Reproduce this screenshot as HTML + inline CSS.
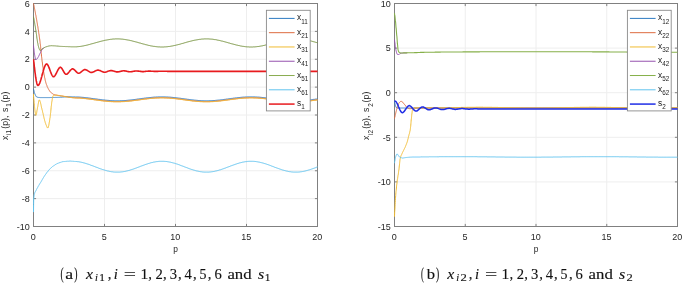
<!DOCTYPE html>
<html><head><meta charset="utf-8"><title>Figure</title>
<style>html,body{margin:0;padding:0;background:#fff;}body{width:685px;height:283px;overflow:hidden;}svg{display:block;}</style>
</head><body>
<svg width="685" height="283" viewBox="0 0 685 283">
<defs><clipPath id="cl"><rect x="32.8" y="2.8" width="285.4" height="224.4"/></clipPath><clipPath id="cr"><rect x="393.8" y="2.8" width="284.4" height="224.4"/></clipPath></defs>
<g stroke="#eeeeee" stroke-width="1">
<line x1="104.50" y1="3.5" x2="104.50" y2="226.5"/>
<line x1="175.50" y1="3.5" x2="175.50" y2="226.5"/>
<line x1="246.50" y1="3.5" x2="246.50" y2="226.5"/>
<line x1="33.5" y1="31.38" x2="317.5" y2="31.38"/>
<line x1="33.5" y1="59.25" x2="317.5" y2="59.25"/>
<line x1="33.5" y1="87.12" x2="317.5" y2="87.12"/>
<line x1="33.5" y1="115.00" x2="317.5" y2="115.00"/>
<line x1="33.5" y1="142.88" x2="317.5" y2="142.88"/>
<line x1="33.5" y1="170.75" x2="317.5" y2="170.75"/>
<line x1="33.5" y1="198.62" x2="317.5" y2="198.62"/>
</g>
<g stroke="#eeeeee" stroke-width="1">
<line x1="465.25" y1="3.5" x2="465.25" y2="226.5"/>
<line x1="536.00" y1="3.5" x2="536.00" y2="226.5"/>
<line x1="606.75" y1="3.5" x2="606.75" y2="226.5"/>
<line x1="394.5" y1="48.10" x2="677.5" y2="48.10"/>
<line x1="394.5" y1="92.70" x2="677.5" y2="92.70"/>
<line x1="394.5" y1="137.30" x2="677.5" y2="137.30"/>
<line x1="394.5" y1="181.90" x2="677.5" y2="181.90"/>
</g>
<g stroke="#808080" stroke-width="1" fill="none">
<rect x="33.5" y="3.5" width="284.0" height="223.0"/>
<line x1="104.50" y1="3.5" x2="104.50" y2="6.1"/>
<line x1="104.50" y1="226.5" x2="104.50" y2="223.9"/>
<line x1="175.50" y1="3.5" x2="175.50" y2="6.1"/>
<line x1="175.50" y1="226.5" x2="175.50" y2="223.9"/>
<line x1="246.50" y1="3.5" x2="246.50" y2="6.1"/>
<line x1="246.50" y1="226.5" x2="246.50" y2="223.9"/>
<line x1="33.5" y1="31.38" x2="36.1" y2="31.38"/>
<line x1="317.5" y1="31.38" x2="314.9" y2="31.38"/>
<line x1="33.5" y1="59.25" x2="36.1" y2="59.25"/>
<line x1="317.5" y1="59.25" x2="314.9" y2="59.25"/>
<line x1="33.5" y1="87.12" x2="36.1" y2="87.12"/>
<line x1="317.5" y1="87.12" x2="314.9" y2="87.12"/>
<line x1="33.5" y1="115.00" x2="36.1" y2="115.00"/>
<line x1="317.5" y1="115.00" x2="314.9" y2="115.00"/>
<line x1="33.5" y1="142.88" x2="36.1" y2="142.88"/>
<line x1="317.5" y1="142.88" x2="314.9" y2="142.88"/>
<line x1="33.5" y1="170.75" x2="36.1" y2="170.75"/>
<line x1="317.5" y1="170.75" x2="314.9" y2="170.75"/>
<line x1="33.5" y1="198.62" x2="36.1" y2="198.62"/>
<line x1="317.5" y1="198.62" x2="314.9" y2="198.62"/>
</g>
<g font-family="Liberation Sans, Arial, sans-serif" font-size="9" fill="#262626">
<text x="33.20" y="239.50" text-anchor="middle">0</text>
<text x="104.20" y="239.50" text-anchor="middle">5</text>
<text x="175.20" y="239.50" text-anchor="middle">10</text>
<text x="246.20" y="239.50" text-anchor="middle">15</text>
<text x="317.20" y="239.50" text-anchor="middle">20</text>
<text x="29.80" y="6.70" text-anchor="end">6</text>
<text x="29.80" y="34.58" text-anchor="end">4</text>
<text x="29.80" y="62.45" text-anchor="end">2</text>
<text x="29.80" y="90.33" text-anchor="end">0</text>
<text x="29.80" y="118.20" text-anchor="end">-2</text>
<text x="29.80" y="146.07" text-anchor="end">-4</text>
<text x="29.80" y="173.95" text-anchor="end">-6</text>
<text x="29.80" y="201.82" text-anchor="end">-8</text>
<text x="29.80" y="229.70" text-anchor="end">-10</text>
</g>
<text x="175.50" y="252.0" text-anchor="middle" font-family="Liberation Sans, Arial, sans-serif" font-size="8.4" fill="#262626">p</text>
<g stroke="#808080" stroke-width="1" fill="none">
<rect x="394.5" y="3.5" width="283.0" height="223.0"/>
<line x1="465.25" y1="3.5" x2="465.25" y2="6.1"/>
<line x1="465.25" y1="226.5" x2="465.25" y2="223.9"/>
<line x1="536.00" y1="3.5" x2="536.00" y2="6.1"/>
<line x1="536.00" y1="226.5" x2="536.00" y2="223.9"/>
<line x1="606.75" y1="3.5" x2="606.75" y2="6.1"/>
<line x1="606.75" y1="226.5" x2="606.75" y2="223.9"/>
<line x1="394.5" y1="48.10" x2="397.1" y2="48.10"/>
<line x1="677.5" y1="48.10" x2="674.9" y2="48.10"/>
<line x1="394.5" y1="92.70" x2="397.1" y2="92.70"/>
<line x1="677.5" y1="92.70" x2="674.9" y2="92.70"/>
<line x1="394.5" y1="137.30" x2="397.1" y2="137.30"/>
<line x1="677.5" y1="137.30" x2="674.9" y2="137.30"/>
<line x1="394.5" y1="181.90" x2="397.1" y2="181.90"/>
<line x1="677.5" y1="181.90" x2="674.9" y2="181.90"/>
</g>
<g font-family="Liberation Sans, Arial, sans-serif" font-size="9" fill="#262626">
<text x="394.20" y="239.50" text-anchor="middle">0</text>
<text x="464.95" y="239.50" text-anchor="middle">5</text>
<text x="535.70" y="239.50" text-anchor="middle">10</text>
<text x="606.45" y="239.50" text-anchor="middle">15</text>
<text x="677.20" y="239.50" text-anchor="middle">20</text>
<text x="390.80" y="6.70" text-anchor="end">10</text>
<text x="390.80" y="51.30" text-anchor="end">5</text>
<text x="390.80" y="95.90" text-anchor="end">0</text>
<text x="390.80" y="140.50" text-anchor="end">-5</text>
<text x="390.80" y="185.10" text-anchor="end">-10</text>
<text x="390.80" y="229.70" text-anchor="end">-15</text>
</g>
<text x="536.00" y="252.0" text-anchor="middle" font-family="Liberation Sans, Arial, sans-serif" font-size="8.4" fill="#262626">p</text>
<g clip-path="url(#cl)" fill="none" stroke-linejoin="round">
<polyline points="33.5,88.9 33.6,89.5 33.7,90.0 33.9,90.5 34.0,91.0 34.1,91.5 34.2,91.9 34.3,92.4 34.4,92.8 34.6,93.2 34.7,93.5 34.8,93.8 34.9,94.1 35.0,94.3 35.2,94.6 35.3,94.8 35.4,95.1 35.5,95.3 35.6,95.5 35.7,95.7 35.9,95.9 36.0,96.1 36.1,96.3 36.2,96.5 36.3,96.6 36.5,96.8 36.6,96.9 36.7,97.0 36.8,97.1 36.9,97.1 37.0,97.2 37.2,97.2 37.3,97.2 37.4,97.2 37.5,97.3 37.6,97.3 37.8,97.3 37.9,97.3 38.0,97.4 38.1,97.4 38.2,97.4 38.4,97.4 38.5,97.4 38.6,97.4 38.7,97.5 38.8,97.5 38.9,97.5 39.1,97.5 39.2,97.5 39.3,97.5 39.4,97.5 39.5,97.5 39.7,97.5 39.8,97.6 39.9,97.6 40.0,97.6 40.1,97.6 40.2,97.6 40.4,97.6 40.5,97.6 40.6,97.6 40.7,97.6 40.8,97.6 41.0,97.6 41.1,97.6 41.2,97.6 41.3,97.6 41.4,97.6 41.5,97.6 41.7,97.6 41.8,97.6 41.9,97.6 42.0,97.6 42.1,97.6 42.3,97.6 42.4,97.6 42.5,97.6 42.6,97.6 42.7,97.6 42.8,97.6 43.0,97.6 43.1,97.6 43.2,97.6 43.3,97.6 43.4,97.6 43.6,97.6 43.7,97.6 43.8,97.6 43.9,97.6 44.0,97.6 44.1,97.6 44.3,97.6 44.4,97.6 44.5,97.6 44.6,97.6 44.7,97.6 44.9,97.6 45.0,97.6 45.1,97.6 45.2,97.6 45.3,97.6 45.5,97.6 45.6,97.6 45.7,97.6 45.8,97.6 45.9,97.6 46.0,97.6 46.2,97.6 46.3,97.6 46.4,97.6 46.5,97.6 46.6,97.6 46.8,97.6 46.9,97.6 47.0,97.6 47.1,97.6 47.2,97.6 47.3,97.6 47.5,97.6 47.6,97.6 47.7,97.6 47.8,97.6 47.9,97.6 48.1,97.6 48.2,97.6 48.3,97.6 48.4,97.6 48.5,97.6 48.6,97.6 48.8,97.6 48.9,97.6 49.0,97.6 49.1,97.6 49.2,97.6 49.4,97.6 49.5,97.6 49.6,97.6 49.7,97.6 49.8,97.6 49.9,97.6 50.1,97.6 50.2,97.6 50.3,97.6 50.4,97.5 50.5,97.5 50.7,97.5 50.8,97.5 50.9,97.5 51.0,97.5 51.1,97.5 51.2,97.5 51.4,97.5 51.5,97.5 51.6,97.5 51.7,97.5 51.8,97.5 52.0,97.5 52.1,97.5 52.2,97.5 52.3,97.5 52.4,97.5 52.6,97.5 52.7,97.5 52.8,97.5 52.9,97.5 53.0,97.5 53.1,97.5 53.3,97.5 53.4,97.5 53.5,97.5 53.6,97.5 53.7,97.5 53.9,97.5 54.0,97.5 54.1,97.5 54.2,97.5 54.3,97.5 54.4,97.4 54.6,97.4 54.7,97.4 54.8,97.4 54.9,97.4 55.0,97.4 55.2,97.4 55.3,97.4 55.4,97.4 55.5,97.4 55.6,97.4 55.7,97.4 55.9,97.4 56.0,97.4 56.1,97.4 56.2,97.4 56.3,97.4 56.5,97.4 56.6,97.4 56.7,97.4 56.8,97.4 56.9,97.4 57.0,97.4 57.2,97.4 57.3,97.4 57.4,97.4 57.5,97.4 57.6,97.3 57.8,97.3 57.9,97.3 58.0,97.3 58.1,97.3 58.2,97.3 58.4,97.3 58.5,97.3 58.6,97.3 58.7,97.3 58.8,97.3 58.9,97.3 59.1,97.3 59.2,97.3 59.3,97.3 59.4,97.3 59.5,97.3 59.7,97.3 59.8,97.3 59.9,97.3 60.0,97.2 60.1,97.2 60.2,97.2 60.4,97.2 60.5,97.2 60.6,97.2 60.7,97.2 60.8,97.2 61.0,97.2 61.1,97.2 61.2,97.2 61.3,97.2 61.4,97.2 61.5,97.2 61.7,97.2 61.8,97.2 61.9,97.2 62.0,97.2 62.1,97.1 62.3,97.1 62.4,97.1 62.5,97.1 62.6,97.1 62.7,97.1 62.8,97.1 63.0,97.1 63.1,97.1 63.2,97.1 63.3,97.1 63.4,97.1 63.6,97.1 63.7,97.0 63.8,97.0 63.9,97.0 64.0,97.0 64.1,97.0 64.3,97.0 64.4,97.0 64.5,97.0 64.6,97.0 64.7,97.0 64.9,97.0 65.0,96.9 65.1,96.9 65.2,96.9 65.3,96.9 65.5,96.9 65.6,96.9 65.7,96.9 65.8,96.9 65.9,96.9 66.0,96.9 66.2,96.9 66.3,96.8 66.4,96.8 66.5,96.8 66.6,96.8 66.8,96.8 66.9,96.8 67.0,96.8 67.1,96.8 67.2,96.8 67.3,96.8 67.5,96.8 67.6,96.8 67.7,96.8 67.8,96.8 67.9,96.8 68.1,96.8 68.2,96.8 68.3,96.8 68.4,96.8 68.5,96.8 68.6,96.8 68.8,96.8 68.9,96.8 69.0,96.8 69.1,96.8 69.2,96.8 69.4,96.8 69.5,96.8 69.6,96.8 69.7,96.8 69.8,96.8 69.9,96.8 70.1,96.8 70.2,96.8 70.3,96.8 70.4,96.8 70.5,96.8 70.7,96.8 70.8,96.8 70.9,96.8 71.0,96.8 71.1,96.8 71.2,96.8 71.4,96.8 71.5,96.8 71.6,96.8 71.7,96.8 71.8,96.8 72.0,96.8 72.1,96.8 72.2,96.8 72.3,96.9 72.4,96.9 72.5,96.9 72.7,96.9 72.8,96.9 72.9,96.9 73.0,96.9 73.1,96.9 73.3,96.9 73.4,96.9 73.5,96.9 73.6,96.9 73.7,96.9 73.9,96.9 74.0,96.9 74.1,96.9 74.2,96.9 74.3,96.9 74.4,96.9 74.6,96.9 74.7,96.9 74.8,96.9 74.9,96.9 75.0,97.0 75.2,97.0 75.3,97.0 75.4,97.0 75.5,97.0 75.6,97.0 75.7,97.0 75.9,97.0 76.0,97.0 76.1,97.0 76.7,97.0 77.2,97.0 77.8,97.0 78.4,97.0 78.9,97.1 79.5,97.1 80.1,97.1 80.6,97.2 81.2,97.2 81.8,97.3 82.3,97.3 82.9,97.4 83.5,97.4 84.1,97.5 84.6,97.5 85.2,97.6 85.8,97.7 86.3,97.7 86.9,97.8 87.5,97.8 88.0,97.9 88.6,98.0 89.2,98.1 89.7,98.1 90.3,98.2 90.9,98.3 91.4,98.4 92.0,98.4 92.6,98.5 93.1,98.6 93.7,98.7 94.3,98.7 94.8,98.8 95.4,98.9 96.0,99.0 96.5,99.0 97.1,99.1 97.7,99.2 98.3,99.3 98.8,99.4 99.4,99.4 100.0,99.5 100.5,99.6 101.1,99.6 101.7,99.7 102.2,99.8 102.8,99.9 103.4,99.9 103.9,100.0 104.5,100.0 105.1,100.1 105.6,100.2 106.2,100.2 106.8,100.3 107.3,100.3 107.9,100.4 108.5,100.4 109.0,100.5 109.6,100.5 110.2,100.5 110.7,100.6 111.3,100.6 111.9,100.6 112.5,100.7 113.0,100.7 113.6,100.7 114.2,100.7 114.7,100.8 115.3,100.8 115.9,100.8 116.4,100.8 117.0,100.8 117.6,100.8 118.1,100.8 118.7,100.8 119.3,100.8 119.8,100.8 120.4,100.7 121.0,100.7 121.5,100.7 122.1,100.7 122.7,100.6 123.2,100.6 123.8,100.6 124.4,100.5 124.9,100.5 125.5,100.5 126.1,100.4 126.7,100.4 127.2,100.3 127.8,100.3 128.4,100.2 128.9,100.2 129.5,100.1 130.1,100.0 130.6,100.0 131.2,99.9 131.8,99.9 132.3,99.8 132.9,99.7 133.5,99.6 134.0,99.6 134.6,99.5 135.2,99.4 135.7,99.4 136.3,99.3 136.9,99.2 137.4,99.1 138.0,99.0 138.6,99.0 139.1,98.9 139.7,98.8 140.3,98.7 140.9,98.7 141.4,98.6 142.0,98.5 142.6,98.4 143.1,98.4 143.7,98.3 144.3,98.2 144.8,98.1 145.4,98.1 146.0,98.0 146.5,97.9 147.1,97.8 147.7,97.8 148.2,97.7 148.8,97.7 149.4,97.6 149.9,97.5 150.5,97.5 151.1,97.4 151.6,97.4 152.2,97.3 152.8,97.3 153.3,97.2 153.9,97.2 154.5,97.1 155.1,97.1 155.6,97.1 156.2,97.0 156.8,97.0 157.3,97.0 157.9,97.0 158.5,96.9 159.0,96.9 159.6,96.9 160.2,96.9 160.7,96.9 161.3,96.9 161.9,96.9 162.4,96.9 163.0,96.9 163.6,96.9 164.1,96.9 164.7,96.9 165.3,96.9 165.8,97.0 166.4,97.0 167.0,97.0 167.5,97.0 168.1,97.1 168.7,97.1 169.3,97.1 169.8,97.2 170.4,97.2 171.0,97.3 171.5,97.3 172.1,97.4 172.7,97.4 173.2,97.5 173.8,97.5 174.4,97.6 174.9,97.6 175.5,97.7 176.1,97.8 176.6,97.8 177.2,97.9 177.8,98.0 178.3,98.1 178.9,98.1 179.5,98.2 180.0,98.3 180.6,98.3 181.2,98.4 181.7,98.5 182.3,98.6 182.9,98.7 183.5,98.7 184.0,98.8 184.6,98.9 185.2,99.0 185.7,99.0 186.3,99.1 186.9,99.2 187.4,99.3 188.0,99.3 188.6,99.4 189.1,99.5 189.7,99.6 190.3,99.6 190.8,99.7 191.4,99.8 192.0,99.8 192.5,99.9 193.1,100.0 193.7,100.0 194.2,100.1 194.8,100.2 195.4,100.2 195.9,100.3 196.5,100.3 197.1,100.4 197.7,100.4 198.2,100.5 198.8,100.5 199.4,100.5 199.9,100.6 200.5,100.6 201.1,100.6 201.6,100.7 202.2,100.7 202.8,100.7 203.3,100.7 203.9,100.8 204.5,100.8 205.0,100.8 205.6,100.8 206.2,100.8 206.7,100.8 207.3,100.8 207.9,100.8 208.4,100.8 209.0,100.8 209.6,100.7 210.1,100.7 210.7,100.7 211.3,100.7 211.9,100.6 212.4,100.6 213.0,100.6 213.6,100.5 214.1,100.5 214.7,100.5 215.3,100.4 215.8,100.4 216.4,100.3 217.0,100.3 217.5,100.2 218.1,100.2 218.7,100.1 219.2,100.1 219.8,100.0 220.4,99.9 220.9,99.9 221.5,99.8 222.1,99.7 222.6,99.7 223.2,99.6 223.8,99.5 224.3,99.4 224.9,99.4 225.5,99.3 226.1,99.2 226.6,99.1 227.2,99.1 227.8,99.0 228.3,98.9 228.9,98.8 229.5,98.7 230.0,98.7 230.6,98.6 231.2,98.5 231.7,98.4 232.3,98.4 232.9,98.3 233.4,98.2 234.0,98.1 234.6,98.1 235.1,98.0 235.7,97.9 236.3,97.9 236.8,97.8 237.4,97.7 238.0,97.7 238.5,97.6 239.1,97.5 239.7,97.5 240.3,97.4 240.8,97.4 241.4,97.3 242.0,97.3 242.5,97.2 243.1,97.2 243.7,97.1 244.2,97.1 244.8,97.1 245.4,97.0 245.9,97.0 246.5,97.0 247.1,97.0 247.6,96.9 248.2,96.9 248.8,96.9 249.3,96.9 249.9,96.9 250.5,96.9 251.0,96.9 251.6,96.9 252.2,96.9 252.7,96.9 253.3,96.9 253.9,96.9 254.5,96.9 255.0,97.0 255.6,97.0 256.2,97.0 256.7,97.0 257.3,97.1 257.9,97.1 258.4,97.1 259.0,97.2 259.6,97.2 260.1,97.3 260.7,97.3 261.3,97.4 261.8,97.4 262.4,97.5 263.0,97.5 263.5,97.6 264.1,97.6 264.7,97.7 265.2,97.8 265.8,97.8 266.4,97.9 266.9,98.0 267.5,98.0 268.1,98.1 268.7,98.2 269.2,98.3 269.8,98.3 270.4,98.4 270.9,98.5 271.5,98.6 272.1,98.6 272.6,98.7 273.2,98.8 273.8,98.9 274.3,99.0 274.9,99.0 275.5,99.1 276.0,99.2 276.6,99.3 277.2,99.3 277.7,99.4 278.3,99.5 278.9,99.6 279.4,99.6 280.0,99.7 280.6,99.8 281.1,99.8 281.7,99.9 282.3,100.0 282.9,100.0 283.4,100.1 284.0,100.2 284.6,100.2 285.1,100.3 285.7,100.3 286.3,100.4 286.8,100.4 287.4,100.5 288.0,100.5 288.5,100.5 289.1,100.6 289.7,100.6 290.2,100.6 290.8,100.7 291.4,100.7 291.9,100.7 292.5,100.7 293.1,100.7 293.6,100.8 294.2,100.8 294.8,100.8 295.3,100.8 295.9,100.8 296.5,100.8 297.1,100.8 297.6,100.8 298.2,100.8 298.8,100.7 299.3,100.7 299.9,100.7 300.5,100.7 301.0,100.6 301.6,100.6 302.2,100.6 302.7,100.6 303.3,100.5 303.9,100.5 304.4,100.4 305.0,100.4 305.6,100.3 306.1,100.3 306.7,100.2 307.3,100.2 307.8,100.1 308.4,100.1 309.0,100.0 309.5,99.9 310.1,99.9 310.7,99.8 311.3,99.7 311.8,99.7 312.4,99.6 313.0,99.5 313.5,99.4 314.1,99.4 314.7,99.3 315.2,99.2 315.8,99.1 316.4,99.1 316.9,99.0 317.5,98.9" stroke="#2d7ac2" stroke-width="1.0"/>
<polyline points="33.5,3.5 33.6,4.1 33.7,4.6 33.9,5.2 34.0,5.8 34.1,6.3 34.2,6.9 34.3,7.5 34.4,8.1 34.6,8.7 34.7,9.3 34.8,9.9 34.9,10.5 35.0,11.1 35.2,11.7 35.3,12.4 35.4,13.0 35.5,13.6 35.6,14.3 35.7,14.9 35.9,15.5 36.0,16.2 36.1,16.8 36.2,17.5 36.3,18.1 36.5,18.8 36.6,19.5 36.7,20.1 36.8,20.8 36.9,21.5 37.0,22.2 37.2,22.8 37.3,23.5 37.4,24.2 37.5,24.9 37.6,25.7 37.8,26.4 37.9,27.1 38.0,27.9 38.1,28.6 38.2,29.4 38.4,30.1 38.5,30.9 38.6,31.7 38.7,32.5 38.8,33.3 38.9,34.0 39.1,34.8 39.2,35.7 39.3,36.5 39.4,37.3 39.5,38.2 39.7,39.0 39.8,39.9 39.9,40.8 40.0,41.7 40.1,42.6 40.2,43.6 40.4,44.5 40.5,45.5 40.6,46.6 40.7,47.7 40.8,48.9 41.0,50.1 41.1,51.3 41.2,52.6 41.3,53.8 41.4,55.0 41.5,56.2 41.7,57.2 41.8,58.3 41.9,59.2 42.0,60.2 42.1,61.2 42.3,62.1 42.4,63.1 42.5,64.0 42.6,64.9 42.7,65.8 42.8,66.7 43.0,67.5 43.1,68.3 43.2,69.1 43.3,69.9 43.4,70.7 43.6,71.4 43.7,72.1 43.8,72.8 43.9,73.4 44.0,74.1 44.1,74.7 44.3,75.4 44.4,76.0 44.5,76.6 44.6,77.3 44.7,77.9 44.9,78.4 45.0,79.0 45.1,79.6 45.2,80.1 45.3,80.6 45.5,81.1 45.6,81.6 45.7,82.1 45.8,82.5 45.9,83.0 46.0,83.3 46.2,83.7 46.3,84.1 46.4,84.4 46.5,84.7 46.6,85.0 46.8,85.3 46.9,85.6 47.0,85.9 47.1,86.2 47.2,86.5 47.3,86.8 47.5,87.0 47.6,87.3 47.7,87.6 47.8,87.8 47.9,88.1 48.1,88.3 48.2,88.5 48.3,88.8 48.4,89.0 48.5,89.2 48.6,89.4 48.8,89.6 48.9,89.8 49.0,90.0 49.1,90.2 49.2,90.4 49.4,90.6 49.5,90.7 49.6,90.9 49.7,91.1 49.8,91.2 49.9,91.4 50.1,91.5 50.2,91.6 50.3,91.8 50.4,91.9 50.5,92.0 50.7,92.1 50.8,92.2 50.9,92.4 51.0,92.5 51.1,92.6 51.2,92.7 51.4,92.8 51.5,92.9 51.6,93.0 51.7,93.1 51.8,93.2 52.0,93.3 52.1,93.4 52.2,93.5 52.3,93.6 52.4,93.6 52.6,93.7 52.7,93.8 52.8,93.9 52.9,94.0 53.0,94.0 53.1,94.1 53.3,94.2 53.4,94.2 53.5,94.3 53.6,94.4 53.7,94.4 53.9,94.5 54.0,94.5 54.1,94.6 54.2,94.6 54.3,94.6 54.4,94.7 54.6,94.7 54.7,94.7 54.8,94.8 54.9,94.8 55.0,94.8 55.2,94.9 55.3,94.9 55.4,94.9 55.5,95.0 55.6,95.0 55.7,95.0 55.9,95.0 56.0,95.1 56.1,95.1 56.2,95.1 56.3,95.1 56.5,95.1 56.6,95.2 56.7,95.2 56.8,95.2 56.9,95.2 57.0,95.2 57.2,95.3 57.3,95.3 57.4,95.3 57.5,95.3 57.6,95.3 57.8,95.4 57.9,95.4 58.0,95.4 58.1,95.4 58.2,95.4 58.4,95.4 58.5,95.5 58.6,95.5 58.7,95.5 58.8,95.5 58.9,95.5 59.1,95.5 59.2,95.6 59.3,95.6 59.4,95.6 59.5,95.6 59.7,95.6 59.8,95.7 59.9,95.7 60.0,95.7 60.1,95.7 60.2,95.7 60.4,95.7 60.5,95.8 60.6,95.8 60.7,95.8 60.8,95.8 61.0,95.8 61.1,95.9 61.2,95.9 61.3,95.9 61.4,95.9 61.5,95.9 61.7,96.0 61.8,96.0 61.9,96.0 62.0,96.0 62.1,96.0 62.3,96.1 62.4,96.1 62.5,96.1 62.6,96.1 62.7,96.1 62.8,96.2 63.0,96.2 63.1,96.2 63.2,96.2 63.3,96.2 63.4,96.3 63.6,96.3 63.7,96.3 63.8,96.3 63.9,96.3 64.0,96.3 64.1,96.4 64.3,96.4 64.4,96.4 64.5,96.4 64.6,96.4 64.7,96.5 64.9,96.5 65.0,96.5 65.1,96.5 65.2,96.5 65.3,96.6 65.5,96.6 65.6,96.6 65.7,96.6 65.8,96.6 65.9,96.7 66.0,96.7 66.2,96.7 66.3,96.7 66.4,96.7 66.5,96.8 66.6,96.8 66.8,96.8 66.9,96.8 67.0,96.8 67.1,96.9 67.2,96.9 67.3,96.9 67.5,96.9 67.6,96.9 67.7,97.0 67.8,97.0 67.9,97.0 68.1,97.0 68.2,97.0 68.3,97.1 68.4,97.1 68.5,97.1 68.6,97.1 68.8,97.1 68.9,97.2 69.0,97.2 69.1,97.2 69.2,97.2 69.4,97.2 69.5,97.2 69.6,97.3 69.7,97.3 69.8,97.3 69.9,97.3 70.1,97.3 70.2,97.4 70.3,97.4 70.4,97.4 70.5,97.4 70.7,97.4 70.8,97.4 70.9,97.4 71.0,97.5 71.1,97.5 71.2,97.5 71.4,97.5 71.5,97.5 71.6,97.5 71.7,97.5 71.8,97.6 72.0,97.6 72.1,97.6 72.2,97.6 72.3,97.6 72.4,97.6 72.5,97.6 72.7,97.6 72.8,97.6 72.9,97.7 73.0,97.7 73.1,97.7 73.3,97.7 73.4,97.7 73.5,97.7 73.6,97.7 73.7,97.7 73.9,97.7 74.0,97.7 74.1,97.7 74.2,97.7 74.3,97.8 74.4,97.8 74.6,97.8 74.7,97.8 74.8,97.8 74.9,97.8 75.0,97.8 75.2,97.8 75.3,97.8 75.4,97.8 75.5,97.8 75.6,97.8 75.7,97.8 75.9,97.8 76.0,97.8 76.1,97.8 76.7,97.9 77.2,97.9 77.8,97.9 78.4,97.9 78.9,97.9 79.5,97.9 80.1,98.0 80.6,98.0 81.2,98.1 81.8,98.1 82.3,98.2 82.9,98.2 83.5,98.3 84.1,98.3 84.6,98.4 85.2,98.4 85.8,98.5 86.3,98.6 86.9,98.6 87.5,98.7 88.0,98.8 88.6,98.8 89.2,98.9 89.7,99.0 90.3,99.0 90.9,99.1 91.4,99.2 92.0,99.3 92.6,99.3 93.1,99.4 93.7,99.5 94.3,99.6 94.8,99.7 95.4,99.7 96.0,99.8 96.5,99.9 97.1,100.0 97.7,100.0 98.3,100.1 98.8,100.2 99.4,100.3 100.0,100.3 100.5,100.4 101.1,100.5 101.7,100.6 102.2,100.6 102.8,100.7 103.4,100.8 103.9,100.8 104.5,100.9 105.1,100.9 105.6,101.0 106.2,101.1 106.8,101.1 107.3,101.2 107.9,101.2 108.5,101.3 109.0,101.3 109.6,101.3 110.2,101.4 110.7,101.4 111.3,101.5 111.9,101.5 112.5,101.5 113.0,101.5 113.6,101.6 114.2,101.6 114.7,101.6 115.3,101.6 115.9,101.6 116.4,101.6 117.0,101.6 117.6,101.6 118.1,101.6 118.7,101.6 119.3,101.6 119.8,101.6 120.4,101.6 121.0,101.6 121.5,101.5 122.1,101.5 122.7,101.5 123.2,101.5 123.8,101.4 124.4,101.4 124.9,101.3 125.5,101.3 126.1,101.3 126.7,101.2 127.2,101.2 127.8,101.1 128.4,101.1 128.9,101.0 129.5,100.9 130.1,100.9 130.6,100.8 131.2,100.8 131.8,100.7 132.3,100.6 132.9,100.6 133.5,100.5 134.0,100.4 134.6,100.3 135.2,100.3 135.7,100.2 136.3,100.1 136.9,100.0 137.4,100.0 138.0,99.9 138.6,99.8 139.1,99.7 139.7,99.7 140.3,99.6 140.9,99.5 141.4,99.4 142.0,99.3 142.6,99.3 143.1,99.2 143.7,99.1 144.3,99.0 144.8,99.0 145.4,98.9 146.0,98.8 146.5,98.8 147.1,98.7 147.7,98.6 148.2,98.6 148.8,98.5 149.4,98.4 149.9,98.4 150.5,98.3 151.1,98.3 151.6,98.2 152.2,98.2 152.8,98.1 153.3,98.1 153.9,98.0 154.5,98.0 155.1,97.9 155.6,97.9 156.2,97.9 156.8,97.8 157.3,97.8 157.9,97.8 158.5,97.8 159.0,97.8 159.6,97.7 160.2,97.7 160.7,97.7 161.3,97.7 161.9,97.7 162.4,97.7 163.0,97.7 163.6,97.7 164.1,97.7 164.7,97.8 165.3,97.8 165.8,97.8 166.4,97.8 167.0,97.8 167.5,97.9 168.1,97.9 168.7,97.9 169.3,98.0 169.8,98.0 170.4,98.1 171.0,98.1 171.5,98.1 172.1,98.2 172.7,98.3 173.2,98.3 173.8,98.4 174.4,98.4 174.9,98.5 175.5,98.5 176.1,98.6 176.6,98.7 177.2,98.7 177.8,98.8 178.3,98.9 178.9,99.0 179.5,99.0 180.0,99.1 180.6,99.2 181.2,99.3 181.7,99.3 182.3,99.4 182.9,99.5 183.5,99.6 184.0,99.6 184.6,99.7 185.2,99.8 185.7,99.9 186.3,100.0 186.9,100.0 187.4,100.1 188.0,100.2 188.6,100.3 189.1,100.3 189.7,100.4 190.3,100.5 190.8,100.5 191.4,100.6 192.0,100.7 192.5,100.8 193.1,100.8 193.7,100.9 194.2,100.9 194.8,101.0 195.4,101.1 195.9,101.1 196.5,101.2 197.1,101.2 197.7,101.3 198.2,101.3 198.8,101.3 199.4,101.4 199.9,101.4 200.5,101.4 201.1,101.5 201.6,101.5 202.2,101.5 202.8,101.6 203.3,101.6 203.9,101.6 204.5,101.6 205.0,101.6 205.6,101.6 206.2,101.6 206.7,101.6 207.3,101.6 207.9,101.6 208.4,101.6 209.0,101.6 209.6,101.6 210.1,101.6 210.7,101.5 211.3,101.5 211.9,101.5 212.4,101.5 213.0,101.4 213.6,101.4 214.1,101.3 214.7,101.3 215.3,101.3 215.8,101.2 216.4,101.2 217.0,101.1 217.5,101.1 218.1,101.0 218.7,100.9 219.2,100.9 219.8,100.8 220.4,100.8 220.9,100.7 221.5,100.6 222.1,100.6 222.6,100.5 223.2,100.4 223.8,100.3 224.3,100.3 224.9,100.2 225.5,100.1 226.1,100.0 226.6,100.0 227.2,99.9 227.8,99.8 228.3,99.7 228.9,99.7 229.5,99.6 230.0,99.5 230.6,99.4 231.2,99.3 231.7,99.3 232.3,99.2 232.9,99.1 233.4,99.0 234.0,99.0 234.6,98.9 235.1,98.8 235.7,98.8 236.3,98.7 236.8,98.6 237.4,98.6 238.0,98.5 238.5,98.4 239.1,98.4 239.7,98.3 240.3,98.3 240.8,98.2 241.4,98.2 242.0,98.1 242.5,98.1 243.1,98.0 243.7,98.0 244.2,97.9 244.8,97.9 245.4,97.9 245.9,97.8 246.5,97.8 247.1,97.8 247.6,97.8 248.2,97.8 248.8,97.7 249.3,97.7 249.9,97.7 250.5,97.7 251.0,97.7 251.6,97.7 252.2,97.7 252.7,97.7 253.3,97.7 253.9,97.8 254.5,97.8 255.0,97.8 255.6,97.8 256.2,97.8 256.7,97.9 257.3,97.9 257.9,97.9 258.4,98.0 259.0,98.0 259.6,98.1 260.1,98.1 260.7,98.1 261.3,98.2 261.8,98.2 262.4,98.3 263.0,98.4 263.5,98.4 264.1,98.5 264.7,98.5 265.2,98.6 265.8,98.7 266.4,98.7 266.9,98.8 267.5,98.9 268.1,99.0 268.7,99.0 269.2,99.1 269.8,99.2 270.4,99.3 270.9,99.3 271.5,99.4 272.1,99.5 272.6,99.6 273.2,99.6 273.8,99.7 274.3,99.8 274.9,99.9 275.5,99.9 276.0,100.0 276.6,100.1 277.2,100.2 277.7,100.3 278.3,100.3 278.9,100.4 279.4,100.5 280.0,100.5 280.6,100.6 281.1,100.7 281.7,100.7 282.3,100.8 282.9,100.9 283.4,100.9 284.0,101.0 284.6,101.0 285.1,101.1 285.7,101.2 286.3,101.2 286.8,101.2 287.4,101.3 288.0,101.3 288.5,101.4 289.1,101.4 289.7,101.4 290.2,101.5 290.8,101.5 291.4,101.5 291.9,101.6 292.5,101.6 293.1,101.6 293.6,101.6 294.2,101.6 294.8,101.6 295.3,101.6 295.9,101.6 296.5,101.6 297.1,101.6 297.6,101.6 298.2,101.6 298.8,101.6 299.3,101.6 299.9,101.5 300.5,101.5 301.0,101.5 301.6,101.5 302.2,101.4 302.7,101.4 303.3,101.3 303.9,101.3 304.4,101.3 305.0,101.2 305.6,101.2 306.1,101.1 306.7,101.1 307.3,101.0 307.8,101.0 308.4,100.9 309.0,100.8 309.5,100.8 310.1,100.7 310.7,100.6 311.3,100.6 311.8,100.5 312.4,100.4 313.0,100.4 313.5,100.3 314.1,100.2 314.7,100.1 315.2,100.1 315.8,100.0 316.4,99.9 316.9,99.8 317.5,99.7" stroke="#dd6c40" stroke-width="1.0"/>
<polyline points="33.5,94.1 33.6,95.9 33.7,97.6 33.9,99.3 34.0,100.9 34.1,102.4 34.2,103.9 34.3,105.2 34.4,106.4 34.6,107.5 34.7,108.4 34.8,109.3 34.9,110.3 35.0,111.2 35.2,112.1 35.3,112.9 35.4,113.6 35.5,114.3 35.6,114.7 35.7,115.1 35.9,115.3 36.0,115.2 36.1,115.1 36.2,114.8 36.3,114.3 36.5,113.8 36.6,113.2 36.7,112.5 36.8,111.8 36.9,111.1 37.0,110.4 37.2,109.7 37.3,109.0 37.4,108.4 37.5,107.8 37.6,107.2 37.8,106.6 37.9,105.9 38.0,105.3 38.1,104.6 38.2,103.9 38.4,103.2 38.5,102.6 38.6,102.0 38.7,101.4 38.8,100.9 38.9,100.5 39.1,100.2 39.2,100.0 39.3,100.0 39.4,100.0 39.5,100.1 39.7,100.2 39.8,100.4 39.9,100.7 40.0,101.0 40.1,101.4 40.2,101.7 40.4,102.2 40.5,102.6 40.6,103.1 40.7,103.6 40.8,104.2 41.0,104.7 41.1,105.3 41.2,105.8 41.3,106.4 41.4,106.9 41.5,107.5 41.7,108.0 41.8,108.5 41.9,109.0 42.0,109.4 42.1,109.9 42.3,110.3 42.4,110.8 42.5,111.3 42.6,111.8 42.7,112.3 42.8,112.8 43.0,113.3 43.1,113.8 43.2,114.3 43.3,114.8 43.4,115.3 43.6,115.8 43.7,116.4 43.8,116.9 43.9,117.4 44.0,117.9 44.1,118.4 44.3,118.9 44.4,119.3 44.5,119.8 44.6,120.3 44.7,120.7 44.9,121.1 45.0,121.6 45.1,122.0 45.2,122.3 45.3,122.7 45.5,123.0 45.6,123.4 45.7,123.7 45.8,124.0 45.9,124.3 46.0,124.7 46.2,125.0 46.3,125.3 46.4,125.6 46.5,125.9 46.6,126.2 46.8,126.5 46.9,126.8 47.0,127.0 47.1,127.3 47.2,127.4 47.3,127.6 47.5,127.8 47.6,127.9 47.7,127.9 47.8,128.0 47.9,127.9 48.1,127.8 48.2,127.6 48.3,127.3 48.4,126.9 48.5,126.4 48.6,125.9 48.8,125.4 48.9,124.8 49.0,124.1 49.1,123.4 49.2,122.7 49.4,122.0 49.5,121.3 49.6,120.6 49.7,119.9 49.8,119.2 49.9,118.4 50.1,117.6 50.2,116.7 50.3,115.7 50.4,114.7 50.5,113.6 50.7,112.5 50.8,111.3 50.9,110.1 51.0,109.0 51.1,107.8 51.2,106.7 51.4,105.6 51.5,104.6 51.6,103.6 51.7,102.6 51.8,101.8 52.0,101.1 52.1,100.4 52.2,99.6 52.3,98.9 52.4,98.2 52.6,97.5 52.7,96.9 52.8,96.4 52.9,96.1 53.0,95.8 53.1,95.7 53.3,95.7 53.4,95.7 53.5,95.6 53.6,95.6 53.7,95.5 53.9,95.5 54.0,95.5 54.1,95.4 54.2,95.4 54.3,95.4 54.4,95.4 54.6,95.3 54.7,95.3 54.8,95.3 54.9,95.3 55.0,95.3 55.2,95.3 55.3,95.3 55.4,95.2 55.5,95.2 55.6,95.2 55.7,95.2 55.9,95.2 56.0,95.2 56.1,95.2 56.2,95.2 56.3,95.2 56.5,95.2 56.6,95.2 56.7,95.2 56.8,95.2 56.9,95.2 57.0,95.2 57.2,95.3 57.3,95.3 57.4,95.3 57.5,95.3 57.6,95.3 57.8,95.3 57.9,95.3 58.0,95.4 58.1,95.4 58.2,95.4 58.4,95.4 58.5,95.4 58.6,95.5 58.7,95.5 58.8,95.5 58.9,95.5 59.1,95.5 59.2,95.6 59.3,95.6 59.4,95.6 59.5,95.6 59.7,95.6 59.8,95.7 59.9,95.7 60.0,95.7 60.1,95.7 60.2,95.7 60.4,95.7 60.5,95.8 60.6,95.8 60.7,95.8 60.8,95.8 61.0,95.8 61.1,95.9 61.2,95.9 61.3,95.9 61.4,95.9 61.5,95.9 61.7,95.9 61.8,96.0 61.9,96.0 62.0,96.0 62.1,96.0 62.3,96.0 62.4,96.0 62.5,96.1 62.6,96.1 62.7,96.1 62.8,96.1 63.0,96.1 63.1,96.2 63.2,96.2 63.3,96.2 63.4,96.2 63.6,96.2 63.7,96.3 63.8,96.3 63.9,96.3 64.0,96.3 64.1,96.3 64.3,96.4 64.4,96.4 64.5,96.4 64.6,96.4 64.7,96.4 64.9,96.4 65.0,96.5 65.1,96.5 65.2,96.5 65.3,96.5 65.5,96.6 65.6,96.6 65.7,96.6 65.8,96.6 65.9,96.6 66.0,96.7 66.2,96.7 66.3,96.7 66.4,96.7 66.5,96.8 66.6,96.8 66.8,96.8 66.9,96.8 67.0,96.8 67.1,96.9 67.2,96.9 67.3,96.9 67.5,96.9 67.6,97.0 67.7,97.0 67.8,97.0 67.9,97.0 68.1,97.0 68.2,97.1 68.3,97.1 68.4,97.1 68.5,97.1 68.6,97.2 68.8,97.2 68.9,97.2 69.0,97.2 69.1,97.2 69.2,97.3 69.4,97.3 69.5,97.3 69.6,97.3 69.7,97.3 69.8,97.4 69.9,97.4 70.1,97.4 70.2,97.4 70.3,97.4 70.4,97.5 70.5,97.5 70.7,97.5 70.8,97.5 70.9,97.5 71.0,97.5 71.1,97.6 71.2,97.6 71.4,97.6 71.5,97.6 71.6,97.6 71.7,97.6 71.8,97.7 72.0,97.7 72.1,97.7 72.2,97.7 72.3,97.7 72.4,97.7 72.5,97.7 72.7,97.8 72.8,97.8 72.9,97.8 73.0,97.8 73.1,97.8 73.3,97.8 73.4,97.8 73.5,97.8 73.6,97.9 73.7,97.9 73.9,97.9 74.0,97.9 74.1,97.9 74.2,97.9 74.3,97.9 74.4,97.9 74.6,97.9 74.7,97.9 74.8,97.9 74.9,98.0 75.0,98.0 75.2,98.0 75.3,98.0 75.4,98.0 75.5,98.0 75.6,98.0 75.7,98.0 75.9,98.0 76.0,98.0 76.1,98.0 76.7,98.0 77.2,98.1 77.8,98.1 78.4,98.1 78.9,98.1 79.5,98.1 80.1,98.2 80.6,98.2 81.2,98.3 81.8,98.3 82.3,98.4 82.9,98.4 83.5,98.5 84.1,98.5 84.6,98.6 85.2,98.6 85.8,98.7 86.3,98.8 86.9,98.8 87.5,98.9 88.0,99.0 88.6,99.0 89.2,99.1 89.7,99.2 90.3,99.2 90.9,99.3 91.4,99.4 92.0,99.5 92.6,99.5 93.1,99.6 93.7,99.7 94.3,99.8 94.8,99.9 95.4,99.9 96.0,100.0 96.5,100.1 97.1,100.2 97.7,100.2 98.3,100.3 98.8,100.4 99.4,100.5 100.0,100.5 100.5,100.6 101.1,100.7 101.7,100.8 102.2,100.8 102.8,100.9 103.4,101.0 103.9,101.0 104.5,101.1 105.1,101.2 105.6,101.2 106.2,101.3 106.8,101.3 107.3,101.4 107.9,101.4 108.5,101.5 109.0,101.5 109.6,101.6 110.2,101.6 110.7,101.6 111.3,101.7 111.9,101.7 112.5,101.7 113.0,101.7 113.6,101.8 114.2,101.8 114.7,101.8 115.3,101.8 115.9,101.8 116.4,101.8 117.0,101.8 117.6,101.8 118.1,101.8 118.7,101.8 119.3,101.8 119.8,101.8 120.4,101.8 121.0,101.8 121.5,101.7 122.1,101.7 122.7,101.7 123.2,101.7 123.8,101.6 124.4,101.6 124.9,101.6 125.5,101.5 126.1,101.5 126.7,101.4 127.2,101.4 127.8,101.3 128.4,101.3 128.9,101.2 129.5,101.2 130.1,101.1 130.6,101.0 131.2,101.0 131.8,100.9 132.3,100.8 132.9,100.8 133.5,100.7 134.0,100.6 134.6,100.5 135.2,100.5 135.7,100.4 136.3,100.3 136.9,100.2 137.4,100.2 138.0,100.1 138.6,100.0 139.1,99.9 139.7,99.9 140.3,99.8 140.9,99.7 141.4,99.6 142.0,99.5 142.6,99.5 143.1,99.4 143.7,99.3 144.3,99.2 144.8,99.2 145.4,99.1 146.0,99.0 146.5,99.0 147.1,98.9 147.7,98.8 148.2,98.8 148.8,98.7 149.4,98.6 149.9,98.6 150.5,98.5 151.1,98.5 151.6,98.4 152.2,98.4 152.8,98.3 153.3,98.3 153.9,98.2 154.5,98.2 155.1,98.1 155.6,98.1 156.2,98.1 156.8,98.1 157.3,98.0 157.9,98.0 158.5,98.0 159.0,98.0 159.6,98.0 160.2,97.9 160.7,97.9 161.3,97.9 161.9,97.9 162.4,97.9 163.0,97.9 163.6,97.9 164.1,98.0 164.7,98.0 165.3,98.0 165.8,98.0 166.4,98.0 167.0,98.1 167.5,98.1 168.1,98.1 168.7,98.1 169.3,98.2 169.8,98.2 170.4,98.3 171.0,98.3 171.5,98.4 172.1,98.4 172.7,98.5 173.2,98.5 173.8,98.6 174.4,98.6 174.9,98.7 175.5,98.8 176.1,98.8 176.6,98.9 177.2,99.0 177.8,99.0 178.3,99.1 178.9,99.2 179.5,99.2 180.0,99.3 180.6,99.4 181.2,99.5 181.7,99.5 182.3,99.6 182.9,99.7 183.5,99.8 184.0,99.9 184.6,99.9 185.2,100.0 185.7,100.1 186.3,100.2 186.9,100.2 187.4,100.3 188.0,100.4 188.6,100.5 189.1,100.5 189.7,100.6 190.3,100.7 190.8,100.8 191.4,100.8 192.0,100.9 192.5,101.0 193.1,101.0 193.7,101.1 194.2,101.1 194.8,101.2 195.4,101.3 195.9,101.3 196.5,101.4 197.1,101.4 197.7,101.5 198.2,101.5 198.8,101.5 199.4,101.6 199.9,101.6 200.5,101.7 201.1,101.7 201.6,101.7 202.2,101.7 202.8,101.8 203.3,101.8 203.9,101.8 204.5,101.8 205.0,101.8 205.6,101.8 206.2,101.8 206.7,101.8 207.3,101.8 207.9,101.8 208.4,101.8 209.0,101.8 209.6,101.8 210.1,101.8 210.7,101.7 211.3,101.7 211.9,101.7 212.4,101.7 213.0,101.6 213.6,101.6 214.1,101.6 214.7,101.5 215.3,101.5 215.8,101.4 216.4,101.4 217.0,101.3 217.5,101.3 218.1,101.2 218.7,101.2 219.2,101.1 219.8,101.0 220.4,101.0 220.9,100.9 221.5,100.8 222.1,100.8 222.6,100.7 223.2,100.6 223.8,100.6 224.3,100.5 224.9,100.4 225.5,100.3 226.1,100.3 226.6,100.2 227.2,100.1 227.8,100.0 228.3,99.9 228.9,99.9 229.5,99.8 230.0,99.7 230.6,99.6 231.2,99.6 231.7,99.5 232.3,99.4 232.9,99.3 233.4,99.3 234.0,99.2 234.6,99.1 235.1,99.0 235.7,99.0 236.3,98.9 236.8,98.8 237.4,98.8 238.0,98.7 238.5,98.6 239.1,98.6 239.7,98.5 240.3,98.5 240.8,98.4 241.4,98.4 242.0,98.3 242.5,98.3 243.1,98.2 243.7,98.2 244.2,98.2 244.8,98.1 245.4,98.1 245.9,98.1 246.5,98.0 247.1,98.0 247.6,98.0 248.2,98.0 248.8,98.0 249.3,97.9 249.9,97.9 250.5,97.9 251.0,97.9 251.6,97.9 252.2,97.9 252.7,97.9 253.3,98.0 253.9,98.0 254.5,98.0 255.0,98.0 255.6,98.0 256.2,98.0 256.7,98.1 257.3,98.1 257.9,98.1 258.4,98.2 259.0,98.2 259.6,98.3 260.1,98.3 260.7,98.4 261.3,98.4 261.8,98.5 262.4,98.5 263.0,98.6 263.5,98.6 264.1,98.7 264.7,98.8 265.2,98.8 265.8,98.9 266.4,98.9 266.9,99.0 267.5,99.1 268.1,99.2 268.7,99.2 269.2,99.3 269.8,99.4 270.4,99.5 270.9,99.5 271.5,99.6 272.1,99.7 272.6,99.8 273.2,99.8 273.8,99.9 274.3,100.0 274.9,100.1 275.5,100.2 276.0,100.2 276.6,100.3 277.2,100.4 277.7,100.5 278.3,100.5 278.9,100.6 279.4,100.7 280.0,100.8 280.6,100.8 281.1,100.9 281.7,101.0 282.3,101.0 282.9,101.1 283.4,101.1 284.0,101.2 284.6,101.3 285.1,101.3 285.7,101.4 286.3,101.4 286.8,101.5 287.4,101.5 288.0,101.5 288.5,101.6 289.1,101.6 289.7,101.7 290.2,101.7 290.8,101.7 291.4,101.7 291.9,101.8 292.5,101.8 293.1,101.8 293.6,101.8 294.2,101.8 294.8,101.8 295.3,101.8 295.9,101.8 296.5,101.8 297.1,101.8 297.6,101.8 298.2,101.8 298.8,101.8 299.3,101.8 299.9,101.7 300.5,101.7 301.0,101.7 301.6,101.7 302.2,101.6 302.7,101.6 303.3,101.6 303.9,101.5 304.4,101.5 305.0,101.4 305.6,101.4 306.1,101.3 306.7,101.3 307.3,101.2 307.8,101.2 308.4,101.1 309.0,101.0 309.5,101.0 310.1,100.9 310.7,100.8 311.3,100.8 311.8,100.7 312.4,100.6 313.0,100.6 313.5,100.5 314.1,100.4 314.7,100.3 315.2,100.3 315.8,100.2 316.4,100.1 316.9,100.0 317.5,100.0" stroke="#f0bb32" stroke-width="1.0"/>
<polyline points="33.5,45.3 33.6,46.6 33.7,47.8 33.9,49.0 34.0,50.2 34.1,51.2 34.2,52.2 34.3,53.1 34.4,54.0 34.6,54.7 34.7,55.3 34.8,55.9 34.9,56.5 35.0,57.1 35.2,57.7 35.3,58.2 35.4,58.6 35.5,59.0 35.6,59.3 35.7,59.6 35.9,59.7 36.0,59.7 36.1,59.6 36.2,59.6 36.3,59.5 36.5,59.4 36.6,59.3 36.7,59.2 36.8,59.1 36.9,59.0 37.0,58.8 37.2,58.7 37.3,58.5 37.4,58.3 37.5,58.2 37.6,58.0 37.8,57.9 37.9,57.7 38.0,57.5 38.1,57.3 38.2,57.1 38.4,56.9 38.5,56.7 38.6,56.4 38.7,56.2 38.8,55.9 38.9,55.7 39.1,55.4 39.2,55.2 39.3,54.9 39.4,54.6 39.5,54.4 39.7,54.1 39.8,53.9 39.9,53.7 40.0,53.4 40.1,53.2 40.2,53.0 40.4,52.7 40.5,52.5 40.6,52.2 40.7,52.0 40.8,51.7 41.0,51.5 41.1,51.2 41.2,51.0 41.3,50.8 41.4,50.5 41.5,50.3 41.7,50.1 41.8,49.9 41.9,49.7 42.0,49.6 42.1,49.4 42.3,49.3 42.4,49.1 42.5,49.0 42.6,48.9 42.7,48.8 42.8,48.7 43.0,48.6 43.1,48.5 43.2,48.4 43.3,48.3 43.4,48.2 43.6,48.1 43.7,48.0 43.8,47.9 43.9,47.8 44.0,47.8 44.1,47.7" stroke="#9652ae" stroke-width="1.0"/>
<polyline points="33.5,16.7 33.6,17.4 33.7,18.0 33.9,18.6 34.0,19.2 34.1,19.9 34.2,20.5 34.3,21.2 34.4,21.9 34.6,22.6 34.7,23.2 34.8,23.9 34.9,24.6 35.0,25.3 35.2,26.0 35.3,26.7 35.4,27.4 35.5,28.2 35.6,28.9 35.7,29.6 35.9,30.4 36.0,31.1 36.1,31.9 36.2,32.8 36.3,33.6 36.5,34.5 36.6,35.3 36.7,36.2 36.8,37.1 36.9,38.0 37.0,38.8 37.2,39.7 37.3,40.5 37.4,41.2 37.5,41.9 37.6,42.6 37.8,43.2 37.9,43.8 38.0,44.4 38.1,44.9 38.2,45.5 38.4,46.0 38.5,46.5 38.6,46.9 38.7,47.4 38.8,47.8 38.9,48.2 39.1,48.5 39.2,48.8 39.3,49.1 39.4,49.4 39.5,49.6 39.7,49.9 39.8,50.1 39.9,50.3 40.0,50.4 40.1,50.5 40.2,50.5 40.4,50.4 40.5,50.4 40.6,50.4 40.7,50.3 40.8,50.2 41.0,50.1 41.1,50.0 41.2,49.9 41.3,49.8 41.4,49.7 41.5,49.6 41.7,49.5 41.8,49.4 41.9,49.3 42.0,49.2 42.1,49.1 42.3,49.0 42.4,48.9 42.5,48.8 42.6,48.7 42.7,48.6 42.8,48.6 43.0,48.5 43.1,48.4 43.2,48.3 43.3,48.2 43.4,48.2 43.6,48.1 43.7,48.0 43.8,47.9 43.9,47.8 44.0,47.8 44.1,47.7 44.3,47.6 44.4,47.6 44.5,47.5 44.6,47.4 44.7,47.4 44.9,47.3 45.0,47.2 45.1,47.2 45.2,47.1 45.3,47.1 45.5,47.0 45.6,47.0 45.7,46.9 45.8,46.9 45.9,46.9 46.0,46.8 46.2,46.8 46.3,46.7 46.4,46.7 46.5,46.7 46.6,46.6 46.8,46.6 46.9,46.6 47.0,46.5 47.1,46.5 47.2,46.4 47.3,46.4 47.5,46.4 47.6,46.3 47.7,46.3 47.8,46.3 47.9,46.2 48.1,46.2 48.2,46.2 48.3,46.1 48.4,46.1 48.5,46.1 48.6,46.1 48.8,46.0 48.9,46.0 49.0,46.0 49.1,46.0 49.2,45.9 49.4,45.9 49.5,45.9 49.6,45.9 49.7,45.9 49.8,45.8 49.9,45.8 50.1,45.8 50.2,45.8 50.3,45.8 50.4,45.8 50.5,45.8 50.7,45.8 50.8,45.7 50.9,45.7 51.0,45.7 51.1,45.7 51.2,45.7 51.4,45.7 51.5,45.7 51.6,45.7 51.7,45.7 51.8,45.7 52.0,45.7 52.1,45.7 52.2,45.7 52.3,45.7 52.4,45.8 52.6,45.8 52.7,45.8 52.8,45.8 52.9,45.8 53.0,45.8 53.1,45.8 53.3,45.8 53.4,45.8 53.5,45.8 53.6,45.8 53.7,45.8 53.9,45.8 54.0,45.8 54.1,45.8 54.2,45.8 54.3,45.8 54.4,45.9 54.6,45.9 54.7,45.9 54.8,45.9 54.9,45.9 55.0,45.9 55.2,45.9 55.3,45.9 55.4,45.9 55.5,45.9 55.6,45.9 55.7,46.0 55.9,46.0 56.0,46.0 56.1,46.0 56.2,46.0 56.3,46.0 56.5,46.0 56.6,46.0 56.7,46.0 56.8,46.0 56.9,46.1 57.0,46.1 57.2,46.1 57.3,46.1 57.4,46.1 57.5,46.1 57.6,46.1 57.8,46.1 57.9,46.1 58.0,46.2 58.1,46.2 58.2,46.2 58.4,46.2 58.5,46.2 58.6,46.2 58.7,46.2 58.8,46.2 58.9,46.2 59.1,46.2 59.2,46.3 59.3,46.3 59.4,46.3 59.5,46.3 59.7,46.3 59.8,46.3 59.9,46.3 60.0,46.3 60.1,46.3 60.2,46.3 60.4,46.3 60.5,46.4 60.6,46.4 60.7,46.4 60.8,46.4 61.0,46.4 61.1,46.4 61.2,46.4 61.3,46.4 61.4,46.4 61.5,46.4 61.7,46.4 61.8,46.4 61.9,46.4 62.0,46.4 62.1,46.4 62.3,46.4 62.4,46.4 62.5,46.4 62.6,46.5 62.7,46.5 62.8,46.5 63.0,46.5 63.1,46.5 63.2,46.5 63.3,46.5 63.4,46.5 63.6,46.5 63.7,46.5 63.8,46.5 63.9,46.5 64.0,46.5 64.1,46.5 64.3,46.5 64.4,46.5 64.5,46.5 64.6,46.5 64.7,46.5 64.9,46.5 65.0,46.5 65.1,46.5 65.2,46.6 65.3,46.6 65.5,46.6 65.6,46.6 65.7,46.6 65.8,46.6 65.9,46.6 66.0,46.6 66.2,46.6 66.3,46.6 66.4,46.6 66.5,46.6 66.6,46.6 66.8,46.6 66.9,46.6 67.0,46.6 67.1,46.6 67.2,46.6 67.3,46.6 67.5,46.6 67.6,46.6 67.7,46.6 67.8,46.6 67.9,46.7 68.1,46.7 68.2,46.7 68.3,46.7 68.4,46.7 68.5,46.7 68.6,46.7 68.8,46.7 68.9,46.7 69.0,46.7 69.1,46.7 69.2,46.7 69.4,46.7 69.5,46.7 69.6,46.7 69.7,46.7 69.8,46.7 69.9,46.7 70.1,46.7 70.2,46.7 70.3,46.7 70.4,46.8 70.5,46.8 70.7,46.8 70.8,46.8 70.9,46.8 71.0,46.8 71.1,46.8 71.2,46.8 71.4,46.8 71.5,46.8 71.6,46.8 71.7,46.8 71.8,46.8 72.0,46.8 72.1,46.8 72.2,46.8 72.3,46.8 72.4,46.8 72.5,46.8 72.7,46.8 72.8,46.8 72.9,46.8 73.0,46.8 73.1,46.8 73.3,46.8 73.4,46.8 73.5,46.8 73.6,46.8 73.7,46.8 73.9,46.8 74.0,46.8 74.1,46.8 74.2,46.8 74.3,46.8 74.4,46.8 74.6,46.8 74.7,46.8 74.8,46.8 74.9,46.8 75.0,46.8 75.2,46.8 75.3,46.8 75.4,46.8 75.5,46.8 75.6,46.8 75.7,46.8 75.9,46.8 76.0,46.8 76.1,46.8 76.7,46.8 77.2,46.7 77.8,46.7 78.4,46.6 78.9,46.6 79.5,46.5 80.1,46.4 80.6,46.4 81.2,46.3 81.8,46.2 82.3,46.1 82.9,46.0 83.5,45.9 84.1,45.8 84.6,45.6 85.2,45.5 85.8,45.4 86.3,45.3 86.9,45.1 87.5,45.0 88.0,44.8 88.6,44.7 89.2,44.6 89.7,44.4 90.3,44.2 90.9,44.1 91.4,43.9 92.0,43.8 92.6,43.6 93.1,43.5 93.7,43.3 94.3,43.1 94.8,43.0 95.4,42.8 96.0,42.7 96.5,42.5 97.1,42.3 97.7,42.2 98.3,42.0 98.8,41.9 99.4,41.7 100.0,41.6 100.5,41.4 101.1,41.3 101.7,41.1 102.2,41.0 102.8,40.8 103.4,40.7 103.9,40.6 104.5,40.4 105.1,40.3 105.6,40.2 106.2,40.1 106.8,40.0 107.3,39.9 107.9,39.8 108.5,39.7 109.0,39.6 109.6,39.5 110.2,39.4 110.7,39.3 111.3,39.3 111.9,39.2 112.5,39.1 113.0,39.1 113.6,39.0 114.2,39.0 114.7,39.0 115.3,38.9 115.9,38.9 116.4,38.9 117.0,38.9 117.6,38.9 118.1,38.9 118.7,38.9 119.3,38.9 119.8,39.0 120.4,39.0 121.0,39.0 121.5,39.1 122.1,39.1 122.7,39.2 123.2,39.3 123.8,39.3 124.4,39.4 124.9,39.5 125.5,39.6 126.1,39.7 126.7,39.8 127.2,39.9 127.8,40.0 128.4,40.1 128.9,40.2 129.5,40.3 130.1,40.4 130.6,40.6 131.2,40.7 131.8,40.8 132.3,41.0 132.9,41.1 133.5,41.3 134.0,41.4 134.6,41.6 135.2,41.7 135.7,41.9 136.3,42.0 136.9,42.2 137.4,42.3 138.0,42.5 138.6,42.7 139.1,42.8 139.7,43.0 140.3,43.1 140.9,43.3 141.4,43.5 142.0,43.6 142.6,43.8 143.1,43.9 143.7,44.1 144.3,44.2 144.8,44.4 145.4,44.6 146.0,44.7 146.5,44.8 147.1,45.0 147.7,45.1 148.2,45.3 148.8,45.4 149.4,45.5 149.9,45.6 150.5,45.8 151.1,45.9 151.6,46.0 152.2,46.1 152.8,46.2 153.3,46.3 153.9,46.4 154.5,46.4 155.1,46.5 155.6,46.6 156.2,46.7 156.8,46.7 157.3,46.8 157.9,46.8 158.5,46.9 159.0,46.9 159.6,46.9 160.2,47.0 160.7,47.0 161.3,47.0 161.9,47.0 162.4,47.0 163.0,47.0 163.6,47.0 164.1,46.9 164.7,46.9 165.3,46.9 165.8,46.8 166.4,46.8 167.0,46.7 167.5,46.7 168.1,46.6 168.7,46.5 169.3,46.5 169.8,46.4 170.4,46.3 171.0,46.2 171.5,46.1 172.1,46.0 172.7,45.9 173.2,45.8 173.8,45.6 174.4,45.5 174.9,45.4 175.5,45.3 176.1,45.1 176.6,45.0 177.2,44.9 177.8,44.7 178.3,44.6 178.9,44.4 179.5,44.3 180.0,44.1 180.6,44.0 181.2,43.8 181.7,43.6 182.3,43.5 182.9,43.3 183.5,43.2 184.0,43.0 184.6,42.8 185.2,42.7 185.7,42.5 186.3,42.3 186.9,42.2 187.4,42.0 188.0,41.9 188.6,41.7 189.1,41.6 189.7,41.4 190.3,41.3 190.8,41.1 191.4,41.0 192.0,40.8 192.5,40.7 193.1,40.6 193.7,40.4 194.2,40.3 194.8,40.2 195.4,40.1 195.9,40.0 196.5,39.9 197.1,39.8 197.7,39.7 198.2,39.6 198.8,39.5 199.4,39.4 199.9,39.3 200.5,39.3 201.1,39.2 201.6,39.1 202.2,39.1 202.8,39.0 203.3,39.0 203.9,39.0 204.5,38.9 205.0,38.9 205.6,38.9 206.2,38.9 206.7,38.9 207.3,38.9 207.9,38.9 208.4,38.9 209.0,39.0 209.6,39.0 210.1,39.0 210.7,39.1 211.3,39.1 211.9,39.2 212.4,39.2 213.0,39.3 213.6,39.4 214.1,39.5 214.7,39.6 215.3,39.6 215.8,39.7 216.4,39.8 217.0,39.9 217.5,40.1 218.1,40.2 218.7,40.3 219.2,40.4 219.8,40.5 220.4,40.7 220.9,40.8 221.5,41.0 222.1,41.1 222.6,41.2 223.2,41.4 223.8,41.5 224.3,41.7 224.9,41.8 225.5,42.0 226.1,42.2 226.6,42.3 227.2,42.5 227.8,42.6 228.3,42.8 228.9,43.0 229.5,43.1 230.0,43.3 230.6,43.5 231.2,43.6 231.7,43.8 232.3,43.9 232.9,44.1 233.4,44.2 234.0,44.4 234.6,44.5 235.1,44.7 235.7,44.8 236.3,45.0 236.8,45.1 237.4,45.2 238.0,45.4 238.5,45.5 239.1,45.6 239.7,45.7 240.3,45.9 240.8,46.0 241.4,46.1 242.0,46.2 242.5,46.3 243.1,46.4 243.7,46.4 244.2,46.5 244.8,46.6 245.4,46.7 245.9,46.7 246.5,46.8 247.1,46.8 247.6,46.9 248.2,46.9 248.8,46.9 249.3,47.0 249.9,47.0 250.5,47.0 251.0,47.0 251.6,47.0 252.2,47.0 252.7,47.0 253.3,46.9 253.9,46.9 254.5,46.9 255.0,46.8 255.6,46.8 256.2,46.7 256.7,46.7 257.3,46.6 257.9,46.5 258.4,46.5 259.0,46.4 259.6,46.3 260.1,46.2 260.7,46.1 261.3,46.0 261.8,45.9 262.4,45.8 263.0,45.7 263.5,45.5 264.1,45.4 264.7,45.3 265.2,45.1 265.8,45.0 266.4,44.9 266.9,44.7 267.5,44.6 268.1,44.4 268.7,44.3 269.2,44.1 269.8,44.0 270.4,43.8 270.9,43.6 271.5,43.5 272.1,43.3 272.6,43.2 273.2,43.0 273.8,42.8 274.3,42.7 274.9,42.5 275.5,42.4 276.0,42.2 276.6,42.0 277.2,41.9 277.7,41.7 278.3,41.6 278.9,41.4 279.4,41.3 280.0,41.1 280.6,41.0 281.1,40.8 281.7,40.7 282.3,40.6 282.9,40.5 283.4,40.3 284.0,40.2 284.6,40.1 285.1,40.0 285.7,39.9 286.3,39.8 286.8,39.7 287.4,39.6 288.0,39.5 288.5,39.4 289.1,39.3 289.7,39.3 290.2,39.2 290.8,39.1 291.4,39.1 291.9,39.0 292.5,39.0 293.1,39.0 293.6,38.9 294.2,38.9 294.8,38.9 295.3,38.9 295.9,38.9 296.5,38.9 297.1,38.9 297.6,38.9 298.2,39.0 298.8,39.0 299.3,39.0 299.9,39.1 300.5,39.1 301.0,39.2 301.6,39.2 302.2,39.3 302.7,39.4 303.3,39.5 303.9,39.5 304.4,39.6 305.0,39.7 305.6,39.8 306.1,39.9 306.7,40.1 307.3,40.2 307.8,40.3 308.4,40.4 309.0,40.5 309.5,40.7 310.1,40.8 310.7,40.9 311.3,41.1 311.8,41.2 312.4,41.4 313.0,41.5 313.5,41.7 314.1,41.8 314.7,42.0 315.2,42.2 315.8,42.3 316.4,42.5 316.9,42.6 317.5,42.8" stroke="#76923f" stroke-width="1.0"/>
<polyline points="33.5,212.1 33.6,204.7 33.7,198.9 33.9,197.2 34.0,196.2 34.1,195.4 34.2,194.8 34.3,194.3 34.4,193.9 34.6,193.5 34.7,193.2 34.8,192.8 34.9,192.5 35.0,192.2 35.2,192.0 35.3,191.7 35.4,191.5 35.5,191.3 35.6,191.1 35.7,190.9 35.9,190.7 36.0,190.5 36.1,190.3 36.2,190.1 36.3,189.8 36.5,189.6 36.6,189.4 36.7,189.2 36.8,189.0 36.9,188.7 37.0,188.5 37.2,188.3 37.3,188.1 37.4,187.9 37.5,187.7 37.6,187.5 37.8,187.3 37.9,187.1 38.0,186.8 38.1,186.6 38.2,186.4 38.4,186.2 38.5,186.0 38.6,185.8 38.7,185.6 38.8,185.4 38.9,185.2 39.1,185.0 39.2,184.8 39.3,184.6 39.4,184.4 39.5,184.2 39.7,184.0 39.8,183.8 39.9,183.6 40.0,183.4 40.1,183.2 40.2,183.1 40.4,182.9 40.5,182.7 40.6,182.5 40.7,182.3 40.8,182.1 41.0,181.9 41.1,181.7 41.2,181.5 41.3,181.3 41.4,181.1 41.5,180.9 41.7,180.6 41.8,180.4 41.9,180.2 42.0,180.0 42.1,179.8 42.3,179.6 42.4,179.4 42.5,179.2 42.6,179.0 42.7,178.8 42.8,178.6 43.0,178.4 43.1,178.2 43.2,178.0 43.3,177.8 43.4,177.6 43.6,177.4 43.7,177.3 43.8,177.1 43.9,176.9 44.0,176.7 44.1,176.5 44.3,176.3 44.4,176.1 44.5,175.9 44.6,175.7 44.7,175.6 44.9,175.4 45.0,175.2 45.1,175.0 45.2,174.9 45.3,174.7 45.5,174.5 45.6,174.3 45.7,174.2 45.8,174.0 45.9,173.9 46.0,173.7 46.2,173.5 46.3,173.4 46.4,173.2 46.5,173.1 46.6,172.9 46.8,172.8 46.9,172.6 47.0,172.4 47.1,172.3 47.2,172.1 47.3,172.0 47.5,171.8 47.6,171.7 47.7,171.5 47.8,171.4 47.9,171.2 48.1,171.1 48.2,170.9 48.3,170.8 48.4,170.7 48.5,170.5 48.6,170.4 48.8,170.2 48.9,170.1 49.0,170.0 49.1,169.8 49.2,169.7 49.4,169.6 49.5,169.4 49.6,169.3 49.7,169.2 49.8,169.0 49.9,168.9 50.1,168.8 50.2,168.7 50.3,168.6 50.4,168.4 50.5,168.3 50.7,168.2 50.8,168.1 50.9,168.0 51.0,167.9 51.1,167.8 51.2,167.7 51.4,167.6 51.5,167.5 51.6,167.4 51.7,167.3 51.8,167.2 52.0,167.1 52.1,167.0 52.2,166.9 52.3,166.8 52.4,166.7 52.6,166.6 52.7,166.5 52.8,166.4 52.9,166.3 53.0,166.2 53.1,166.1 53.3,166.1 53.4,166.0 53.5,165.9 53.6,165.8 53.7,165.7 53.9,165.6 54.0,165.5 54.1,165.5 54.2,165.4 54.3,165.3 54.4,165.2 54.6,165.1 54.7,165.0 54.8,165.0 54.9,164.9 55.0,164.8 55.2,164.7 55.3,164.7 55.4,164.6 55.5,164.5 55.6,164.5 55.7,164.4 55.9,164.3 56.0,164.2 56.1,164.2 56.2,164.1 56.3,164.1 56.5,164.0 56.6,163.9 56.7,163.9 56.8,163.8 56.9,163.8 57.0,163.7 57.2,163.6 57.3,163.6 57.4,163.5 57.5,163.5 57.6,163.4 57.8,163.4 57.9,163.3 58.0,163.3 58.1,163.2 58.2,163.2 58.4,163.1 58.5,163.1 58.6,163.1 58.7,163.0 58.8,163.0 58.9,162.9 59.1,162.9 59.2,162.8 59.3,162.8 59.4,162.7 59.5,162.7 59.7,162.6 59.8,162.6 59.9,162.6 60.0,162.5 60.1,162.5 60.2,162.4 60.4,162.4 60.5,162.4 60.6,162.3 60.7,162.3 60.8,162.2 61.0,162.2 61.1,162.2 61.2,162.1 61.3,162.1 61.4,162.1 61.5,162.0 61.7,162.0 61.8,162.0 61.9,161.9 62.0,161.9 62.1,161.9 62.3,161.8 62.4,161.8 62.5,161.8 62.6,161.8 62.7,161.7 62.8,161.7 63.0,161.7 63.1,161.7 63.2,161.6 63.3,161.6 63.4,161.6 63.6,161.6 63.7,161.6 63.8,161.6 63.9,161.5 64.0,161.5 64.1,161.5 64.3,161.5 64.4,161.5 64.5,161.5 64.6,161.5 64.7,161.5 64.9,161.4 65.0,161.4 65.1,161.4 65.2,161.4 65.3,161.4 65.5,161.4 65.6,161.4 65.7,161.4 65.8,161.4 65.9,161.3 66.0,161.3 66.2,161.3 66.3,161.3 66.4,161.3 66.5,161.3 66.6,161.3 66.8,161.3 66.9,161.3 67.0,161.3 67.1,161.2 67.2,161.2 67.3,161.2 67.5,161.2 67.6,161.2 67.7,161.2 67.8,161.2 67.9,161.2 68.1,161.2 68.2,161.2 68.3,161.2 68.4,161.2 68.5,161.2 68.6,161.2 68.8,161.2 68.9,161.2 69.0,161.1 69.1,161.1 69.2,161.1 69.4,161.1 69.5,161.1 69.6,161.1 69.7,161.1 69.8,161.1 69.9,161.1 70.1,161.1 70.2,161.1 70.3,161.1 70.4,161.1 70.5,161.1 70.7,161.1 70.8,161.1 70.9,161.1 71.0,161.2 71.1,161.2 71.2,161.2 71.4,161.2 71.5,161.2 71.6,161.2 71.7,161.2 71.8,161.2 72.0,161.2 72.1,161.2 72.2,161.2 72.3,161.2 72.4,161.2 72.5,161.2 72.7,161.2 72.8,161.3 72.9,161.3 73.0,161.3 73.1,161.3 73.3,161.3 73.4,161.3 73.5,161.3 73.6,161.3 73.7,161.3 73.9,161.3 74.0,161.3 74.1,161.3 74.2,161.4 74.3,161.4 74.4,161.4 74.6,161.4 74.7,161.4 74.8,161.4 74.9,161.4 75.0,161.4 75.2,161.4 75.3,161.4 75.4,161.4 75.5,161.4 75.6,161.5 75.7,161.5 75.9,161.5 76.0,161.5 76.1,161.5 76.7,161.5 77.2,161.6 77.8,161.7 78.4,161.7 78.9,161.8 79.5,161.9 80.1,162.0 80.6,162.1 81.2,162.2 81.8,162.4 82.3,162.5 82.9,162.6 83.5,162.8 84.1,162.9 84.6,163.1 85.2,163.3 85.8,163.4 86.3,163.6 86.9,163.8 87.5,164.0 88.0,164.2 88.6,164.3 89.2,164.5 89.7,164.7 90.3,165.0 90.9,165.2 91.4,165.4 92.0,165.6 92.6,165.8 93.1,166.0 93.7,166.2 94.3,166.4 94.8,166.7 95.4,166.9 96.0,167.1 96.5,167.3 97.1,167.5 97.7,167.7 98.3,168.0 98.8,168.2 99.4,168.4 100.0,168.6 100.5,168.8 101.1,169.0 101.7,169.2 102.2,169.4 102.8,169.6 103.4,169.7 103.9,169.9 104.5,170.1 105.1,170.3 105.6,170.4 106.2,170.6 106.8,170.7 107.3,170.9 107.9,171.0 108.5,171.1 109.0,171.3 109.6,171.4 110.2,171.5 110.7,171.6 111.3,171.7 111.9,171.8 112.5,171.8 113.0,171.9 113.6,172.0 114.2,172.0 114.7,172.1 115.3,172.1 115.9,172.1 116.4,172.1 117.0,172.1 117.6,172.1 118.1,172.1 118.7,172.1 119.3,172.1 119.8,172.1 120.4,172.0 121.0,172.0 121.5,171.9 122.1,171.8 122.7,171.8 123.2,171.7 123.8,171.6 124.4,171.5 124.9,171.4 125.5,171.3 126.1,171.1 126.7,171.0 127.2,170.9 127.8,170.7 128.4,170.6 128.9,170.4 129.5,170.3 130.1,170.1 130.6,169.9 131.2,169.7 131.8,169.6 132.3,169.4 132.9,169.2 133.5,169.0 134.0,168.8 134.6,168.6 135.2,168.4 135.7,168.2 136.3,168.0 136.9,167.7 137.4,167.5 138.0,167.3 138.6,167.1 139.1,166.9 139.7,166.7 140.3,166.4 140.9,166.2 141.4,166.0 142.0,165.8 142.6,165.6 143.1,165.4 143.7,165.2 144.3,165.0 144.8,164.7 145.4,164.5 146.0,164.3 146.5,164.2 147.1,164.0 147.7,163.8 148.2,163.6 148.8,163.4 149.4,163.3 149.9,163.1 150.5,162.9 151.1,162.8 151.6,162.6 152.2,162.5 152.8,162.4 153.3,162.2 153.9,162.1 154.5,162.0 155.1,161.9 155.6,161.8 156.2,161.7 156.8,161.6 157.3,161.6 157.9,161.5 158.5,161.4 159.0,161.4 159.6,161.3 160.2,161.3 160.7,161.3 161.3,161.3 161.9,161.3 162.4,161.3 163.0,161.3 163.6,161.3 164.1,161.3 164.7,161.4 165.3,161.4 165.8,161.5 166.4,161.5 167.0,161.6 167.5,161.7 168.1,161.8 168.7,161.9 169.3,162.0 169.8,162.1 170.4,162.2 171.0,162.3 171.5,162.5 172.1,162.6 172.7,162.8 173.2,162.9 173.8,163.1 174.4,163.2 174.9,163.4 175.5,163.6 176.1,163.8 176.6,163.9 177.2,164.1 177.8,164.3 178.3,164.5 178.9,164.7 179.5,164.9 180.0,165.1 180.6,165.4 181.2,165.6 181.7,165.8 182.3,166.0 182.9,166.2 183.5,166.4 184.0,166.6 184.6,166.9 185.2,167.1 185.7,167.3 186.3,167.5 186.9,167.7 187.4,167.9 188.0,168.1 188.6,168.4 189.1,168.6 189.7,168.8 190.3,169.0 190.8,169.2 191.4,169.4 192.0,169.5 192.5,169.7 193.1,169.9 193.7,170.1 194.2,170.2 194.8,170.4 195.4,170.6 195.9,170.7 196.5,170.9 197.1,171.0 197.7,171.1 198.2,171.2 198.8,171.4 199.4,171.5 199.9,171.6 200.5,171.7 201.1,171.7 201.6,171.8 202.2,171.9 202.8,172.0 203.3,172.0 203.9,172.1 204.5,172.1 205.0,172.1 205.6,172.1 206.2,172.1 206.7,172.1 207.3,172.1 207.9,172.1 208.4,172.1 209.0,172.1 209.6,172.0 210.1,172.0 210.7,171.9 211.3,171.8 211.9,171.8 212.4,171.7 213.0,171.6 213.6,171.5 214.1,171.4 214.7,171.3 215.3,171.1 215.8,171.0 216.4,170.9 217.0,170.7 217.5,170.6 218.1,170.4 218.7,170.3 219.2,170.1 219.8,169.9 220.4,169.8 220.9,169.6 221.5,169.4 222.1,169.2 222.6,169.0 223.2,168.8 223.8,168.6 224.3,168.4 224.9,168.2 225.5,168.0 226.1,167.8 226.6,167.5 227.2,167.3 227.8,167.1 228.3,166.9 228.9,166.7 229.5,166.5 230.0,166.2 230.6,166.0 231.2,165.8 231.7,165.6 232.3,165.4 232.9,165.2 233.4,165.0 234.0,164.8 234.6,164.6 235.1,164.4 235.7,164.2 236.3,164.0 236.8,163.8 237.4,163.6 238.0,163.4 238.5,163.3 239.1,163.1 239.7,162.9 240.3,162.8 240.8,162.6 241.4,162.5 242.0,162.4 242.5,162.2 243.1,162.1 243.7,162.0 244.2,161.9 244.8,161.8 245.4,161.7 245.9,161.6 246.5,161.6 247.1,161.5 247.6,161.4 248.2,161.4 248.8,161.3 249.3,161.3 249.9,161.3 250.5,161.3 251.0,161.3 251.6,161.3 252.2,161.3 252.7,161.3 253.3,161.3 253.9,161.4 254.5,161.4 255.0,161.5 255.6,161.5 256.2,161.6 256.7,161.7 257.3,161.8 257.9,161.9 258.4,162.0 259.0,162.1 259.6,162.2 260.1,162.3 260.7,162.5 261.3,162.6 261.8,162.8 262.4,162.9 263.0,163.1 263.5,163.2 264.1,163.4 264.7,163.6 265.2,163.7 265.8,163.9 266.4,164.1 266.9,164.3 267.5,164.5 268.1,164.7 268.7,164.9 269.2,165.1 269.8,165.3 270.4,165.5 270.9,165.8 271.5,166.0 272.1,166.2 272.6,166.4 273.2,166.6 273.8,166.8 274.3,167.1 274.9,167.3 275.5,167.5 276.0,167.7 276.6,167.9 277.2,168.1 277.7,168.3 278.3,168.5 278.9,168.7 279.4,168.9 280.0,169.1 280.6,169.3 281.1,169.5 281.7,169.7 282.3,169.9 282.9,170.1 283.4,170.2 284.0,170.4 284.6,170.5 285.1,170.7 285.7,170.8 286.3,171.0 286.8,171.1 287.4,171.2 288.0,171.4 288.5,171.5 289.1,171.6 289.7,171.7 290.2,171.7 290.8,171.8 291.4,171.9 291.9,172.0 292.5,172.0 293.1,172.0 293.6,172.1 294.2,172.1 294.8,172.1 295.3,172.1 295.9,172.1 296.5,172.1 297.1,172.1 297.6,172.1 298.2,172.1 298.8,172.0 299.3,172.0 299.9,171.9 300.5,171.8 301.0,171.8 301.6,171.7 302.2,171.6 302.7,171.5 303.3,171.4 303.9,171.3 304.4,171.2 305.0,171.0 305.6,170.9 306.1,170.7 306.7,170.6 307.3,170.4 307.8,170.3 308.4,170.1 309.0,169.9 309.5,169.8 310.1,169.6 310.7,169.4 311.3,169.2 311.8,169.0 312.4,168.8 313.0,168.6 313.5,168.4 314.1,168.2 314.7,168.0 315.2,167.8 315.8,167.6 316.4,167.3 316.9,167.1 317.5,166.9" stroke="#62c3ee" stroke-width="1.0"/>
<polyline points="33.5,59.2 33.6,60.3 33.7,61.3 33.9,62.4 34.0,63.4 34.1,64.4 34.2,65.5 34.3,66.5 34.4,67.5 34.6,68.5 34.7,69.5 34.8,70.4 34.9,71.4 35.0,72.3 35.2,73.3 35.3,74.2 35.4,75.0 35.5,75.9 35.6,76.7 35.7,77.5 35.9,78.3 36.0,79.0 36.1,79.7 36.2,80.4 36.3,81.0 36.5,81.6 36.6,82.2 36.7,82.7 36.8,83.2 36.9,83.7 37.0,84.1 37.2,84.4 37.3,84.7 37.4,85.0 37.5,85.2 37.6,85.3 37.8,85.4 37.9,85.5 38.0,85.4 38.1,85.4 38.2,85.4 38.4,85.3 38.5,85.2 38.6,85.1 38.7,84.9 38.8,84.8 38.9,84.6 39.1,84.4 39.2,84.2 39.3,84.0 39.4,83.7 39.5,83.5 39.7,83.2 39.8,82.9 39.9,82.6 40.0,82.3 40.1,81.9 40.2,81.6 40.4,81.2 40.5,80.9 40.6,80.5 40.7,80.1 40.8,79.7 41.0,79.3 41.1,78.9 41.2,78.5 41.3,78.1 41.4,77.7 41.5,77.3 41.7,76.8 41.8,76.4 41.9,75.9 42.0,75.5 42.1,75.1 42.3,74.6 42.4,74.2 42.5,73.8 42.6,73.3 42.7,72.9 42.8,72.4 43.0,72.0 43.1,71.6 43.2,71.2 43.3,70.8 43.4,70.4 43.6,69.9 43.7,69.6 43.8,69.2 43.9,68.8 44.0,68.4 44.1,68.1 44.3,67.7 44.4,67.4 44.5,67.1 44.6,66.7 44.7,66.4 44.9,66.2 45.0,65.9 45.1,65.6 45.2,65.4 45.3,65.2 45.5,65.0 45.6,64.8 45.7,64.6 45.8,64.5 45.9,64.3 46.0,64.2 46.2,64.1 46.3,64.1 46.4,64.0 46.5,64.0 46.6,64.0 46.8,64.0 46.9,64.1 47.0,64.1 47.1,64.2 47.2,64.3 47.3,64.4 47.5,64.6 47.6,64.7 47.7,64.9 47.8,65.1 47.9,65.3 48.1,65.5 48.2,65.7 48.3,65.9 48.4,66.2 48.5,66.5 48.6,66.7 48.8,67.0 48.9,67.3 49.0,67.6 49.1,67.9 49.2,68.2 49.4,68.5 49.5,68.8 49.6,69.1 49.7,69.4 49.8,69.7 49.9,70.1 50.1,70.4 50.2,70.7 50.3,71.0 50.4,71.4 50.5,71.7 50.7,72.0 50.8,72.3 50.9,72.6 51.0,72.9 51.1,73.2 51.2,73.5 51.4,73.8 51.5,74.1 51.6,74.3 51.7,74.6 51.8,74.8 52.0,75.0 52.1,75.3 52.2,75.5 52.3,75.7 52.4,75.8 52.6,76.0 52.7,76.1 52.8,76.3 52.9,76.4 53.0,76.5 53.1,76.6 53.3,76.6 53.4,76.7 53.5,76.7 53.6,76.7 53.7,76.6 53.9,76.6 54.0,76.6 54.1,76.5 54.2,76.4 54.3,76.3 54.4,76.2 54.6,76.1 54.7,76.0 54.8,75.8 54.9,75.7 55.0,75.5 55.2,75.3 55.3,75.1 55.4,74.9 55.5,74.8 55.6,74.5 55.7,74.3 55.9,74.1 56.0,73.9 56.1,73.7 56.2,73.4 56.3,73.2 56.5,73.0 56.6,72.7 56.7,72.5 56.8,72.2 56.9,72.0 57.0,71.8 57.2,71.5 57.3,71.3 57.4,71.0 57.5,70.8 57.6,70.6 57.8,70.3 57.9,70.1 58.0,69.9 58.1,69.7 58.2,69.5 58.4,69.3 58.5,69.1 58.6,68.9 58.7,68.7 58.8,68.5 58.9,68.3 59.1,68.2 59.2,68.1 59.3,67.9 59.4,67.8 59.5,67.7 59.7,67.6 59.8,67.5 59.9,67.5 60.0,67.4 60.1,67.4 60.2,67.3 60.4,67.3 60.5,67.3 60.6,67.4 60.7,67.4 60.8,67.5 61.0,67.6 61.1,67.6 61.2,67.7 61.3,67.8 61.4,68.0 61.5,68.1 61.7,68.3 61.8,68.4 61.9,68.6 62.0,68.7 62.1,68.9 62.3,69.1 62.4,69.3 62.5,69.5 62.6,69.7 62.7,69.9 62.8,70.1 63.0,70.3 63.1,70.5 63.2,70.7 63.3,70.9 63.4,71.2 63.6,71.4 63.7,71.6 63.8,71.8 63.9,72.0 64.0,72.2 64.1,72.4 64.3,72.6 64.4,72.8 64.5,72.9 64.6,73.1 64.7,73.3 64.9,73.4 65.0,73.6 65.1,73.7 65.2,73.8 65.3,73.9 65.5,74.0 65.6,74.1 65.7,74.2 65.8,74.2 65.9,74.3 66.0,74.3 66.2,74.3 66.3,74.3 66.4,74.3 66.5,74.3 66.6,74.2 66.8,74.2 66.9,74.1 67.0,74.1 67.1,74.0 67.2,73.9 67.3,73.8 67.5,73.7 67.6,73.6 67.7,73.5 67.8,73.4 67.9,73.3 68.1,73.2 68.2,73.0 68.3,72.9 68.4,72.8 68.5,72.6 68.6,72.5 68.8,72.3 68.9,72.2 69.0,72.0 69.1,71.9 69.2,71.7 69.4,71.6 69.5,71.4 69.6,71.3 69.7,71.1 69.8,71.0 69.9,70.8 70.1,70.7 70.2,70.6 70.3,70.4 70.4,70.3 70.5,70.1 70.7,70.0 70.8,69.9 70.9,69.8 71.0,69.7 71.1,69.6 71.2,69.5 71.4,69.4 71.5,69.3 71.6,69.2 71.7,69.1 71.8,69.1 72.0,69.0 72.1,69.0 72.2,68.9 72.3,68.9 72.4,68.9 72.5,68.9 72.7,68.9 72.8,68.9 72.9,68.9 73.0,68.9 73.1,69.0 73.3,69.0 73.4,69.1 73.5,69.1 73.6,69.2 73.7,69.3 73.9,69.4 74.0,69.5 74.1,69.6 74.2,69.6 74.3,69.7 74.4,69.9 74.6,70.0 74.7,70.1 74.8,70.2 74.9,70.3 75.0,70.4 75.2,70.6 75.3,70.7 75.4,70.8 75.5,70.9 75.6,71.1 75.7,71.2 75.9,71.3 76.0,71.4 76.1,71.6 76.7,72.1 77.2,72.6 77.8,73.0 78.4,73.2 78.9,73.2 79.5,73.0 80.1,72.7 80.6,72.4 81.2,71.9 81.8,71.4 82.3,71.0 82.9,70.5 83.5,70.1 84.1,69.8 84.6,69.6 85.2,69.6 85.8,69.7 86.3,69.9 86.9,70.2 87.5,70.5 88.0,70.9 88.6,71.3 89.2,71.6 89.7,72.0 90.3,72.2 90.9,72.4 91.4,72.5 92.0,72.4 92.6,72.3 93.1,72.1 93.7,71.8 94.3,71.5 94.8,71.2 95.4,70.9 96.0,70.6 96.5,70.4 97.1,70.2 97.7,70.1 98.3,70.1 98.8,70.2 99.4,70.4 100.0,70.6 100.5,70.8 101.1,71.1 101.7,71.4 102.2,71.6 102.8,71.9 103.4,72.0 103.9,72.2 104.5,72.2 105.1,72.2 105.6,72.1 106.2,71.9 106.8,71.7 107.3,71.5 107.9,71.3 108.5,71.1 109.0,70.9 109.6,70.7 110.2,70.6 110.7,70.5 111.3,70.6 111.9,70.6 112.5,70.7 113.0,70.9 113.6,71.1 114.2,71.3 114.7,71.4 115.3,71.6 115.9,71.8 116.4,71.9 117.0,71.9 117.6,71.9 118.1,71.9 118.7,71.8 119.3,71.7 119.8,71.5 120.4,71.4 121.0,71.2 121.5,71.1 122.1,71.0 122.7,70.9 123.2,70.8 123.8,70.8 124.4,70.9 124.9,70.9 125.5,71.0 126.1,71.1 126.7,71.3 127.2,71.4 127.8,71.5 128.4,71.6 128.9,71.7 129.5,71.8 130.1,71.8 130.6,71.8 131.2,71.7 131.8,71.6 132.3,71.6 132.9,71.4 133.5,71.3 134.0,71.2 134.6,71.1 135.2,71.0 135.7,71.0 136.3,71.0 136.9,71.0 137.4,71.0 138.0,71.1 138.6,71.1 139.1,71.2 139.7,71.3 140.3,71.4 140.9,71.4 141.4,71.5 142.0,71.6 142.6,71.6 143.1,71.6 143.7,71.6 144.3,71.5 144.8,71.5 145.4,71.4 146.0,71.3 146.5,71.3 147.1,71.2 147.7,71.2 148.2,71.1 148.8,71.1 149.4,71.1 149.9,71.1 150.5,71.1 151.1,71.2 151.6,71.2 152.2,71.3 152.8,71.3 153.3,71.3 153.9,71.4 154.5,71.4 155.1,71.4 155.6,71.4 156.2,71.4 156.8,71.4 157.3,71.4 157.9,71.4 158.5,71.3 159.0,71.3 159.6,71.3 160.2,71.2 160.7,71.2 161.3,71.2 161.9,71.2 162.4,71.2 163.0,71.2 163.6,71.2 164.1,71.2 164.7,71.2 165.3,71.3 165.8,71.3 166.4,71.3 167.0,71.3 167.5,71.4 168.1,71.4 168.7,71.4 169.3,71.4 169.8,71.4 170.4,71.4 171.0,71.4 171.5,71.4 172.1,71.4 172.7,71.4 173.2,71.4 173.8,71.4 174.4,71.4 174.9,71.4 175.5,71.4 176.1,71.4 176.6,71.4 177.2,71.4 177.8,71.4 178.3,71.4 178.9,71.4 179.5,71.4 180.0,71.4 180.6,71.4 181.2,71.4 181.7,71.4 182.3,71.4 182.9,71.4 183.5,71.4 184.0,71.4 184.6,71.4 185.2,71.4 185.7,71.4 186.3,71.4 186.9,71.4 187.4,71.4 188.0,71.4 188.6,71.4 189.1,71.4 189.7,71.4 190.3,71.4 190.8,71.4 191.4,71.4 192.0,71.4 192.5,71.4 193.1,71.4 193.7,71.4 194.2,71.4 194.8,71.4 195.4,71.4 195.9,71.4 196.5,71.4 197.1,71.4 197.7,71.4 198.2,71.4 198.8,71.4 199.4,71.4 199.9,71.4 200.5,71.4 201.1,71.4 201.6,71.4 202.2,71.4 202.8,71.4 203.3,71.4 203.9,71.4 204.5,71.4 205.0,71.4 205.6,71.4 206.2,71.4 206.7,71.4 207.3,71.4 207.9,71.4 208.4,71.4 209.0,71.4 209.6,71.4 210.1,71.4 210.7,71.4 211.3,71.4 211.9,71.4 212.4,71.4 213.0,71.4 213.6,71.4 214.1,71.4 214.7,71.4 215.3,71.4 215.8,71.4 216.4,71.4 217.0,71.4 217.5,71.4 218.1,71.4 218.7,71.4 219.2,71.4 219.8,71.4 220.4,71.4 220.9,71.4 221.5,71.4 222.1,71.4 222.6,71.4 223.2,71.4 223.8,71.4 224.3,71.4 224.9,71.4 225.5,71.4 226.1,71.4 226.6,71.4 227.2,71.4 227.8,71.4 228.3,71.4 228.9,71.4 229.5,71.4 230.0,71.4 230.6,71.4 231.2,71.4 231.7,71.4 232.3,71.4 232.9,71.4 233.4,71.4 234.0,71.4 234.6,71.4 235.1,71.4 235.7,71.4 236.3,71.4 236.8,71.4 237.4,71.4 238.0,71.4 238.5,71.4 239.1,71.4 239.7,71.4 240.3,71.4 240.8,71.4 241.4,71.4 242.0,71.4 242.5,71.4 243.1,71.4 243.7,71.4 244.2,71.4 244.8,71.4 245.4,71.4 245.9,71.4 246.5,71.4 247.1,71.4 247.6,71.4 248.2,71.4 248.8,71.4 249.3,71.4 249.9,71.4 250.5,71.4 251.0,71.4 251.6,71.4 252.2,71.4 252.7,71.4 253.3,71.4 253.9,71.4 254.5,71.4 255.0,71.4 255.6,71.4 256.2,71.4 256.7,71.4 257.3,71.4 257.9,71.4 258.4,71.4 259.0,71.4 259.6,71.4 260.1,71.4 260.7,71.4 261.3,71.4 261.8,71.4 262.4,71.4 263.0,71.4 263.5,71.4 264.1,71.4 264.7,71.4 265.2,71.4 265.8,71.4 266.4,71.4 266.9,71.4 267.5,71.4 268.1,71.4 268.7,71.4 269.2,71.4 269.8,71.4 270.4,71.4 270.9,71.4 271.5,71.4 272.1,71.4 272.6,71.4 273.2,71.4 273.8,71.4 274.3,71.4 274.9,71.4 275.5,71.4 276.0,71.4 276.6,71.4 277.2,71.4 277.7,71.4 278.3,71.4 278.9,71.4 279.4,71.4 280.0,71.4 280.6,71.4 281.1,71.4 281.7,71.4 282.3,71.4 282.9,71.4 283.4,71.4 284.0,71.4 284.6,71.4 285.1,71.4 285.7,71.4 286.3,71.4 286.8,71.4 287.4,71.4 288.0,71.4 288.5,71.4 289.1,71.4 289.7,71.4 290.2,71.4 290.8,71.4 291.4,71.4 291.9,71.4 292.5,71.4 293.1,71.4 293.6,71.4 294.2,71.4 294.8,71.4 295.3,71.4 295.9,71.4 296.5,71.4 297.1,71.4 297.6,71.4 298.2,71.4 298.8,71.4 299.3,71.4 299.9,71.4 300.5,71.4 301.0,71.4 301.6,71.4 302.2,71.4 302.7,71.4 303.3,71.4 303.9,71.4 304.4,71.4 305.0,71.4 305.6,71.4 306.1,71.4 306.7,71.4 307.3,71.4 307.8,71.4 308.4,71.4 309.0,71.4 309.5,71.4 310.1,71.4 310.7,71.4 311.3,71.4 311.8,71.4 312.4,71.4 313.0,71.4 313.5,71.4 314.1,71.4 314.7,71.4 315.2,71.4 315.8,71.4 316.4,71.4 316.9,71.4 317.5,71.4" stroke="#e81a1e" stroke-width="1.6"/>
</g>
<g clip-path="url(#cr)" fill="none" stroke-linejoin="round">
<polyline points="394.5,101.6 394.6,102.2 394.7,102.8 394.9,103.3 395.0,103.8 395.1,104.3 395.2,104.7 395.3,105.1 395.4,105.6 395.6,106.0 395.7,106.3 395.8,106.7 395.9,107.0 396.0,107.2 396.2,107.4 396.3,107.5 396.4,107.6 396.5,107.6 396.6,107.7 396.7,107.8 396.9,107.8 397.0,107.9 397.1,107.9 397.2,107.9 397.3,108.0 397.4,108.0 397.6,108.0 397.7,108.0 397.8,108.0 397.9,108.0 398.0,108.0 398.2,108.0 398.3,108.0 398.4,108.0 398.5,108.0 398.6,108.0 398.7,108.0 398.9,108.0 399.0,108.0 399.1,108.0 399.2,108.0 399.3,108.0 399.5,108.0 399.6,108.0 399.7,108.0 399.8,108.0 399.9,108.0 400.0,108.0 400.2,108.0 400.3,108.0 400.4,108.0 400.5,108.0 400.6,108.0 400.7,108.0 400.9,108.0 401.0,108.0 401.1,108.0 401.2,108.0 401.3,108.0 401.5,108.0 401.6,108.0 401.7,108.0 401.8,108.0 401.9,108.0 402.0,108.0 402.2,108.0 402.3,108.0 402.4,108.0 402.5,108.0 402.6,108.0 402.8,108.0 402.9,108.0 403.0,108.0 403.1,108.0 403.2,108.0 403.3,108.0 403.5,108.0 403.6,108.0 403.7,108.0 403.8,108.0 403.9,108.0 404.1,108.0 404.2,108.0 404.3,108.0 404.4,108.0 404.5,108.0 404.6,108.0 404.8,108.0 404.9,108.0 405.0,108.0 405.1,108.0 405.2,108.0 405.3,108.0 405.5,108.0 405.6,108.0 405.7,108.0 405.8,108.0 405.9,108.0 406.1,108.0 406.2,108.0 406.3,108.0 406.4,108.0 406.5,108.0 406.6,108.0 406.8,108.0 406.9,108.0 407.0,108.0 407.1,108.0 407.2,108.0 407.4,108.0 407.5,108.0 407.6,108.0 407.7,108.0 407.8,108.0 407.9,108.0 408.1,108.0 408.2,108.0 408.3,108.0 408.4,108.0 408.5,108.0 408.6,108.0 408.8,108.0 408.9,108.0 409.0,108.0 409.1,108.0 409.2,108.0 409.4,108.0 409.5,108.0 409.6,108.0 409.7,108.0 409.8,108.0 409.9,108.0 410.1,108.0 410.2,108.0 410.3,108.0 410.4,108.0 410.5,108.0 410.7,108.0 410.8,108.0 410.9,108.0 411.0,108.0 411.1,108.0 411.2,108.0 411.4,108.0 411.5,108.0 411.6,108.0 411.7,108.0 411.8,108.0 412.0,108.0 412.1,108.0 412.2,108.0 412.3,108.0 412.4,108.0 412.5,108.0 412.7,108.0 412.8,108.0 412.9,108.0 413.0,108.0 413.1,108.0 413.2,108.0 413.4,108.0 413.5,108.0 413.6,108.0 413.7,108.0 413.8,108.0 414.0,108.0 414.1,108.0 414.2,108.0 414.3,108.0 414.4,108.0 414.5,108.0 414.7,108.0 414.8,108.0 414.9,108.0 415.0,108.0 415.1,108.0 415.3,108.0 415.4,108.0 415.5,108.0 415.6,108.0 415.7,108.0 415.8,108.0 416.0,108.0 416.1,108.0 416.2,108.0 416.3,108.0 416.4,108.0 416.6,108.0 416.7,108.0 416.8,108.0 416.9,108.0 417.0,108.0 417.1,108.0 417.3,108.0 417.4,108.0 417.5,108.0 417.6,108.0 417.7,108.0 417.8,108.0 418.0,108.0 418.1,108.0 418.2,108.0 418.3,108.0 418.4,108.0 418.6,108.0 418.7,108.0 418.8,108.0 418.9,108.0 419.0,108.0 419.1,108.0 419.3,108.0 419.4,108.0 419.5,108.0 419.6,108.0 419.7,108.0 419.9,108.0 420.0,108.0 420.1,108.0 420.2,108.0 420.3,108.0 420.4,108.0 420.6,108.0 420.7,108.0 420.8,108.0 420.9,108.0 421.0,108.0 421.1,108.0 421.3,108.0 421.4,108.0 421.5,108.0 421.6,108.0 421.7,108.0 421.9,108.0 422.0,108.0 422.1,108.0 422.2,108.0 422.3,108.0 422.4,108.0 422.6,108.0 422.7,108.0 422.8,108.0 422.9,108.0 423.0,108.0 423.2,108.0 423.3,108.0 423.4,108.0 423.5,108.0 423.6,108.0 423.7,108.0 423.9,108.0 424.0,108.0 424.1,108.0 424.2,108.0 424.3,108.0 424.5,108.0 424.6,108.0 424.7,108.0 424.8,108.0 424.9,108.0 425.0,108.0 425.2,108.0 425.3,108.0 425.4,108.0 425.5,108.0 425.6,108.0 425.7,108.0 425.9,108.0 426.0,108.0 426.1,108.0 426.2,108.0 426.3,108.0 426.5,108.0 426.6,108.0 426.7,108.0 426.8,108.0 426.9,108.0 427.0,108.0 427.2,108.0 427.3,108.0 427.4,108.0 427.5,108.0 427.6,108.0 427.8,108.0 427.9,108.0 428.0,108.0 428.1,108.0 428.2,108.0 428.3,108.0 428.5,108.0 428.6,108.0 428.7,108.0 428.8,108.0 428.9,108.0 429.0,108.0 429.2,108.0 429.3,108.0 429.4,108.0 429.5,108.0 429.6,108.0 429.8,108.0 429.9,108.0 430.0,108.0 430.1,108.0 430.2,108.0 430.3,108.0 430.5,108.0 430.6,108.0 430.7,108.0 430.8,108.0 430.9,108.0 431.1,108.0 431.2,108.0 431.3,108.0 431.4,108.0 431.5,108.0 431.6,108.0 431.8,108.0 431.9,108.0 432.0,108.0 432.1,108.0 432.2,108.0 432.4,108.0 432.5,108.0 432.6,108.0 432.7,108.0 432.8,108.0 432.9,108.0 433.1,108.0 433.2,108.0 433.3,108.0 433.4,108.0 433.5,108.0 433.6,108.0 433.8,108.0 433.9,108.0 434.0,108.0 434.1,108.0 434.2,108.0 434.4,108.0 434.5,108.0 434.6,108.0 434.7,108.0 434.8,108.0 434.9,108.0 435.1,108.0 435.2,108.0 435.3,108.0 435.4,108.0 435.5,108.0 435.7,108.0 435.8,108.0 435.9,108.0 436.0,108.0 436.1,108.0 436.2,108.0 436.4,108.0 436.5,108.0 436.6,108.0 436.7,108.0 436.8,108.0 436.9,108.0 437.5,108.0 438.1,108.0 438.6,108.0 439.2,108.0 439.8,108.0 440.3,108.0 440.9,108.0 441.5,108.0 442.0,108.0 442.6,108.0 443.2,108.0 443.7,108.0 444.3,108.0 444.9,108.0 445.4,108.0 446.0,108.0 446.6,108.0 447.1,108.0 447.7,108.0 448.3,108.0 448.8,108.0 449.4,108.0 450.0,108.0 450.5,108.0 451.1,108.0 451.7,108.0 452.2,108.0 452.8,108.0 453.4,108.0 453.9,108.0 454.5,108.0 455.1,108.0 455.6,108.0 456.2,108.0 456.8,108.0 457.3,108.0 457.9,108.0 458.5,108.0 459.0,108.0 459.6,108.0 460.2,108.0 460.7,108.0 461.3,108.0 461.9,108.0 462.4,108.0 463.0,108.0 463.6,108.0 464.1,108.0 464.7,108.0 465.2,108.0 465.8,108.0 466.4,108.0 466.9,108.0 467.5,108.0 468.1,108.0 468.6,108.0 469.2,108.0 469.8,108.0 470.3,108.0 470.9,108.0 471.5,108.0 472.0,108.0 472.6,108.0 473.2,108.0 473.7,108.0 474.3,108.0 474.9,108.0 475.4,108.0 476.0,108.0 476.6,108.0 477.1,108.0 477.7,108.0 478.3,108.0 478.8,108.0 479.4,108.0 480.0,108.0 480.5,108.0 481.1,108.0 481.7,108.0 482.2,108.0 482.8,108.0 483.4,108.0 483.9,108.0 484.5,108.0 485.1,108.0 485.6,108.0 486.2,108.0 486.8,108.0 487.3,108.0 487.9,108.0 488.5,108.0 489.0,108.0 489.6,108.0 490.2,108.0 490.7,108.0 491.3,108.0 491.9,108.0 492.4,108.0 493.0,108.0 493.6,108.0 494.1,108.0 494.7,108.0 495.2,108.0 495.8,108.0 496.4,108.0 496.9,108.0 497.5,108.0 498.1,108.0 498.6,108.0 499.2,108.0 499.8,108.0 500.3,108.0 500.9,108.0 501.5,108.0 502.0,108.0 502.6,108.0 503.2,108.0 503.7,108.0 504.3,108.0 504.9,108.0 505.4,108.0 506.0,108.0 506.6,108.0 507.1,108.0 507.7,108.0 508.3,108.0 508.8,108.0 509.4,108.0 510.0,108.0 510.5,108.0 511.1,108.0 511.7,108.0 512.2,108.0 512.8,108.0 513.4,108.0 513.9,108.0 514.5,108.0 515.1,108.0 515.6,108.0 516.2,108.0 516.8,108.0 517.3,108.0 517.9,108.0 518.5,108.0 519.0,108.0 519.6,108.0 520.2,108.0 520.7,108.0 521.3,108.0 521.9,108.0 522.4,108.0 523.0,108.0 523.5,108.0 524.1,108.0 524.7,108.0 525.2,108.0 525.8,108.0 526.4,108.0 526.9,108.0 527.5,108.0 528.1,108.0 528.6,108.0 529.2,108.0 529.8,108.0 530.3,108.0 530.9,108.0 531.5,108.0 532.0,108.0 532.6,108.0 533.2,108.0 533.7,108.0 534.3,108.0 534.9,108.0 535.4,108.0 536.0,108.0 536.6,108.0 537.1,108.0 537.7,108.0 538.3,108.0 538.8,108.0 539.4,108.0 540.0,108.0 540.5,108.0 541.1,108.0 541.7,108.0 542.2,108.0 542.8,108.0 543.4,108.0 543.9,108.0 544.5,108.0 545.1,108.0 545.6,108.0 546.2,108.0 546.8,108.0 547.3,108.0 547.9,108.0 548.5,108.0 549.0,108.0 549.6,108.0 550.1,108.0 550.7,108.0 551.3,108.0 551.8,108.0 552.4,108.0 553.0,108.0 553.5,108.0 554.1,108.0 554.7,108.0 555.2,108.0 555.8,108.0 556.4,108.0 556.9,108.0 557.5,108.0 558.1,108.0 558.6,108.0 559.2,108.0 559.8,108.0 560.3,108.0 560.9,108.0 561.5,108.0 562.0,108.0 562.6,108.0 563.2,108.0 563.7,108.0 564.3,108.0 564.9,108.0 565.4,108.0 566.0,108.0 566.6,108.0 567.1,108.0 567.7,108.0 568.3,108.0 568.8,108.0 569.4,108.0 570.0,108.0 570.5,108.0 571.1,108.0 571.7,108.0 572.2,108.0 572.8,108.0 573.4,108.0 573.9,108.0 574.5,108.0 575.1,108.0 575.6,108.0 576.2,108.0 576.8,108.0 577.3,108.0 577.9,108.0 578.5,108.0 579.0,108.0 579.6,108.0 580.1,108.0 580.7,108.0 581.3,108.0 581.8,108.0 582.4,108.0 583.0,108.0 583.5,108.0 584.1,108.0 584.7,108.0 585.2,108.0 585.8,108.0 586.4,108.0 586.9,108.0 587.5,108.0 588.1,108.0 588.6,108.0 589.2,108.0 589.8,108.0 590.3,108.0 590.9,108.0 591.5,108.0 592.0,108.0 592.6,108.0 593.2,108.0 593.7,108.0 594.3,108.0 594.9,108.0 595.4,108.0 596.0,108.0 596.6,108.0 597.1,108.0 597.7,108.0 598.3,108.0 598.8,108.0 599.4,108.0 600.0,108.0 600.5,108.0 601.1,108.0 601.7,108.0 602.2,108.0 602.8,108.0 603.4,108.0 603.9,108.0 604.5,108.0 605.1,108.0 605.6,108.0 606.2,108.0 606.8,108.0 607.3,108.0 607.9,108.0 608.4,108.0 609.0,108.0 609.6,108.0 610.1,108.0 610.7,108.0 611.3,108.0 611.8,108.0 612.4,108.0 613.0,108.0 613.5,108.0 614.1,108.0 614.7,108.0 615.2,108.0 615.8,108.0 616.4,108.0 616.9,108.0 617.5,108.0 618.1,108.0 618.6,108.0 619.2,108.0 619.8,108.0 620.3,108.0 620.9,108.0 621.5,108.0 622.0,108.0 622.6,108.0 623.2,108.0 623.7,108.0 624.3,108.0 624.9,108.0 625.4,108.0 626.0,108.0 626.6,108.0 627.1,108.0 627.7,108.0 628.3,108.0 628.8,108.0 629.4,108.0 630.0,108.0 630.5,108.0 631.1,108.0 631.7,108.0 632.2,108.0 632.8,108.0 633.4,108.0 633.9,108.0 634.5,108.0 635.0,108.0 635.6,108.0 636.2,108.0 636.7,108.0 637.3,108.0 637.9,108.0 638.4,108.0 639.0,108.0 639.6,108.0 640.1,108.0 640.7,108.0 641.3,108.0 641.8,108.0 642.4,108.0 643.0,108.0 643.5,108.0 644.1,108.0 644.7,108.0 645.2,108.0 645.8,108.0 646.4,108.0 646.9,108.0 647.5,108.0 648.1,108.0 648.6,108.0 649.2,108.0 649.8,108.0 650.3,108.0 650.9,108.0 651.5,108.0 652.0,108.0 652.6,108.0 653.2,108.0 653.7,108.0 654.3,108.0 654.9,108.0 655.4,108.0 656.0,108.0 656.6,108.0 657.1,108.0 657.7,108.0 658.3,108.0 658.8,108.0 659.4,108.0 660.0,108.0 660.5,108.0 661.1,108.0 661.7,108.0 662.2,108.0 662.8,108.0 663.4,108.0 663.9,108.0 664.5,108.0 665.0,108.0 665.6,108.0 666.2,108.0 666.7,108.0 667.3,108.0 667.9,108.0 668.4,108.0 669.0,108.0 669.6,108.0 670.1,108.0 670.7,108.0 671.3,108.0 671.8,108.0 672.4,108.0 673.0,108.0 673.5,108.0 674.1,108.0 674.7,108.0 675.2,108.0 675.8,108.0 676.4,108.0 676.9,108.0 677.5,108.0" stroke="#2d7ac2" stroke-width="1.0"/>
<polyline points="394.5,118.6 394.6,118.0 394.7,117.4 394.9,116.9 395.0,116.3 395.1,115.8 395.2,115.3 395.3,114.8 395.4,114.2 395.6,113.7 395.7,113.2 395.8,112.8 395.9,112.3 396.0,111.8 396.2,111.4 396.3,110.9 396.4,110.5 396.5,110.1 396.6,109.6 396.7,109.2 396.9,108.8 397.0,108.4 397.1,108.0 397.2,107.6 397.3,107.2 397.4,106.7 397.6,106.3 397.7,106.0 397.8,105.6 397.9,105.2 398.0,104.9 398.2,104.6 398.3,104.3 398.4,104.0 398.5,103.8 398.6,103.6 398.7,103.4 398.9,103.2 399.0,103.1 399.1,102.9 399.2,102.8 399.3,102.6 399.5,102.5 399.6,102.4 399.7,102.2 399.8,102.1 399.9,102.0 400.0,101.9 400.2,101.8 400.3,101.7 400.4,101.6 400.5,101.5 400.6,101.5 400.7,101.4 400.9,101.4 401.0,101.4 401.1,101.4 401.2,101.4 401.3,101.4 401.5,101.4 401.6,101.4 401.7,101.5 401.8,101.6 401.9,101.6 402.0,101.7 402.2,101.8 402.3,101.9 402.4,102.0 402.5,102.1 402.6,102.3 402.8,102.4 402.9,102.5 403.0,102.6 403.1,102.8 403.2,102.9 403.3,103.1 403.5,103.2 403.6,103.4 403.7,103.5 403.8,103.6 403.9,103.8 404.1,103.9 404.2,104.0 404.3,104.2 404.4,104.3 404.5,104.4 404.6,104.6 404.8,104.7 404.9,104.8 405.0,105.0 405.1,105.1 405.2,105.3 405.3,105.5 405.5,105.6 405.6,105.8 405.7,106.0 405.8,106.1 405.9,106.3 406.1,106.5 406.2,106.6 406.3,106.8 406.4,106.9 406.5,107.1 406.6,107.2 406.8,107.3 406.9,107.5 407.0,107.6 407.1,107.7 407.2,107.8 407.4,107.9 407.5,107.9 407.6,108.0 407.7,108.0 407.8,108.1 407.9,108.2 408.1,108.2 408.2,108.3 408.3,108.3 408.4,108.4 408.5,108.4 408.6,108.5 408.8,108.5 408.9,108.5 409.0,108.6 409.1,108.6 409.2,108.6 409.4,108.7 409.5,108.7 409.6,108.7 409.7,108.7 409.8,108.7 409.9,108.8 410.1,108.8 410.2,108.8 410.3,108.8 410.4,108.7 410.5,108.7 410.7,108.7 410.8,108.7 410.9,108.7 411.0,108.7 411.1,108.7 411.2,108.7 411.4,108.6 411.5,108.6 411.6,108.6 411.7,108.6 411.8,108.6 412.0,108.6 412.1,108.5 412.2,108.5 412.3,108.5 412.4,108.5 412.5,108.4 412.7,108.4 412.8,108.4 412.9,108.4 413.0,108.4 413.1,108.3 413.2,108.3 413.4,108.3 413.5,108.3 413.6,108.3 413.7,108.3 413.8,108.3 414.0,108.2 414.1,108.2 414.2,108.2 414.3,108.2 414.4,108.2 414.5,108.2 414.7,108.2 414.8,108.2 414.9,108.2 415.0,108.2 415.1,108.2 415.3,108.2 415.4,108.2 415.5,108.2 415.6,108.2 415.7,108.2 415.8,108.2 416.0,108.2 416.1,108.2 416.2,108.2 416.3,108.1 416.4,108.1 416.6,108.1 416.7,108.1 416.8,108.1 416.9,108.1 417.0,108.1 417.1,108.1 417.3,108.1 417.4,108.1 417.5,108.1 417.6,108.1 417.7,108.1 417.8,108.1 418.0,108.1 418.1,108.1 418.2,108.1 418.3,108.1 418.4,108.1 418.6,108.1 418.7,108.1 418.8,108.1 418.9,108.1 419.0,108.1 419.1,108.1 419.3,108.1 419.4,108.1 419.5,108.1 419.6,108.1 419.7,108.1 419.9,108.1 420.0,108.1 420.1,108.0 420.2,108.0 420.3,108.0 420.4,108.0 420.6,108.0 420.7,108.0 420.8,108.0 420.9,108.0 421.0,108.0 421.1,108.0 421.3,108.0 421.4,108.0 421.5,108.0 421.6,108.0 421.7,108.0 421.9,108.0 422.0,108.0 422.1,108.0 422.2,108.0 422.3,108.0 422.4,108.0 422.6,108.0 422.7,108.0 422.8,108.0 422.9,108.0 423.0,108.0 423.2,108.0 423.3,108.0 423.4,108.0 423.5,108.0 423.6,108.0 423.7,108.0 423.9,108.0 424.0,108.0 424.1,108.0 424.2,108.0 424.3,108.0 424.5,108.0 424.6,108.0 424.7,108.0 424.8,108.0 424.9,108.0 425.0,108.0 425.2,108.0 425.3,108.0 425.4,108.0 425.5,108.0 425.6,108.0 425.7,108.0 425.9,108.0 426.0,108.0 426.1,108.0 426.2,108.0 426.3,108.0 426.5,108.0 426.6,108.0 426.7,108.0 426.8,108.0 426.9,108.0 427.0,108.0 427.2,108.0 427.3,108.0 427.4,108.0 427.5,108.0 427.6,108.0 427.8,108.0 427.9,108.0 428.0,108.0 428.1,108.0 428.2,108.0 428.3,108.0 428.5,108.0 428.6,108.0 428.7,108.0 428.8,108.0 428.9,108.0 429.0,108.0 429.2,108.0 429.3,108.0 429.4,108.0 429.5,108.0 429.6,108.0 429.8,108.0 429.9,108.0 430.0,108.0 430.1,108.0 430.2,108.0 430.3,108.0 430.5,108.0 430.6,108.0 430.7,108.0 430.8,108.0 430.9,108.0 431.1,108.0 431.2,108.0 431.3,108.0 431.4,108.0 431.5,108.0 431.6,108.0 431.8,108.0 431.9,108.0 432.0,108.0 432.1,108.0 432.2,108.0 432.4,108.0 432.5,108.0 432.6,108.0 432.7,108.0 432.8,108.0 432.9,108.0 433.1,108.0 433.2,108.0 433.3,108.0 433.4,108.0 433.5,108.0 433.6,108.0 433.8,108.0 433.9,108.0 434.0,108.0 434.1,108.0 434.2,108.0 434.4,108.0 434.5,108.0 434.6,108.0 434.7,108.0 434.8,108.0 434.9,108.0 435.1,108.0 435.2,108.0 435.3,108.0 435.4,108.0 435.5,108.0 435.7,108.0 435.8,108.0 435.9,108.0 436.0,108.0 436.1,108.0 436.2,108.0 436.4,108.0 436.5,108.0 436.6,108.0 436.7,108.0 436.8,108.0 436.9,108.0 437.5,108.0 438.1,108.0 438.6,108.0 439.2,108.0 439.8,108.0 440.3,108.0 440.9,108.0 441.5,108.0 442.0,108.0 442.6,108.0 443.2,108.0 443.7,108.0 444.3,108.0 444.9,108.0 445.4,108.0 446.0,108.0 446.6,108.0 447.1,108.0 447.7,108.0 448.3,108.0 448.8,108.0 449.4,108.0 450.0,108.0 450.5,108.0 451.1,108.0 451.7,108.0 452.2,108.0 452.8,108.0 453.4,108.0 453.9,108.0 454.5,108.0 455.1,108.0 455.6,108.0 456.2,108.0 456.8,108.0 457.3,108.0 457.9,108.0 458.5,108.0 459.0,108.0 459.6,108.0 460.2,108.0 460.7,108.0 461.3,108.0 461.9,108.0 462.4,108.0 463.0,108.0 463.6,108.0 464.1,108.0 464.7,108.0 465.2,108.0 465.8,108.0 466.4,108.0 466.9,108.0 467.5,108.0 468.1,108.0 468.6,108.0 469.2,108.0 469.8,108.0 470.3,108.0 470.9,108.0 471.5,108.0 472.0,108.0 472.6,108.0 473.2,108.0 473.7,108.0 474.3,108.0 474.9,108.0 475.4,108.0 476.0,108.0 476.6,108.0 477.1,108.0 477.7,108.0 478.3,108.0 478.8,108.0 479.4,108.0 480.0,108.0 480.5,108.0 481.1,108.0 481.7,108.0 482.2,108.0 482.8,108.0 483.4,108.0 483.9,108.0 484.5,108.0 485.1,108.0 485.6,108.0 486.2,108.0 486.8,108.0 487.3,108.0 487.9,108.0 488.5,108.0 489.0,108.0 489.6,108.0 490.2,108.0 490.7,108.0 491.3,108.0 491.9,108.0 492.4,108.0 493.0,108.0 493.6,108.0 494.1,108.0 494.7,108.0 495.2,108.0 495.8,108.0 496.4,108.0 496.9,108.0 497.5,108.0 498.1,108.0 498.6,108.0 499.2,108.0 499.8,108.0 500.3,108.0 500.9,108.0 501.5,108.0 502.0,108.0 502.6,108.0 503.2,108.0 503.7,108.0 504.3,108.0 504.9,108.0 505.4,108.0 506.0,108.0 506.6,108.0 507.1,108.0 507.7,108.0 508.3,108.0 508.8,108.0 509.4,108.0 510.0,108.0 510.5,108.0 511.1,108.0 511.7,108.0 512.2,108.0 512.8,108.0 513.4,108.0 513.9,108.0 514.5,108.0 515.1,108.0 515.6,108.0 516.2,108.0 516.8,108.0 517.3,108.0 517.9,108.0 518.5,108.0 519.0,108.0 519.6,108.0 520.2,108.0 520.7,108.0 521.3,108.0 521.9,108.0 522.4,108.0 523.0,108.0 523.5,108.0 524.1,108.0 524.7,108.0 525.2,108.0 525.8,108.0 526.4,108.0 526.9,108.0 527.5,108.0 528.1,108.0 528.6,108.0 529.2,108.0 529.8,108.0 530.3,108.0 530.9,108.0 531.5,108.0 532.0,108.0 532.6,108.0 533.2,108.0 533.7,108.0 534.3,108.0 534.9,108.0 535.4,108.0 536.0,108.0 536.6,108.0 537.1,108.0 537.7,108.0 538.3,108.0 538.8,108.0 539.4,108.0 540.0,108.0 540.5,108.0 541.1,108.0 541.7,108.0 542.2,108.0 542.8,108.0 543.4,108.0 543.9,108.0 544.5,108.0 545.1,108.0 545.6,108.0 546.2,108.0 546.8,108.0 547.3,108.0 547.9,108.0 548.5,108.0 549.0,108.0 549.6,108.0 550.1,108.0 550.7,108.0 551.3,108.0 551.8,108.0 552.4,108.0 553.0,108.0 553.5,108.0 554.1,108.0 554.7,108.0 555.2,108.0 555.8,108.0 556.4,108.0 556.9,108.0 557.5,108.0 558.1,108.0 558.6,108.0 559.2,108.0 559.8,108.0 560.3,108.0 560.9,108.0 561.5,108.0 562.0,108.0 562.6,108.0 563.2,108.0 563.7,108.0 564.3,108.0 564.9,108.0 565.4,108.0 566.0,108.0 566.6,108.0 567.1,108.0 567.7,108.0 568.3,108.0 568.8,108.0 569.4,108.0 570.0,108.0 570.5,108.0 571.1,108.0 571.7,108.0 572.2,108.0 572.8,108.0 573.4,108.0 573.9,108.0 574.5,108.0 575.1,108.0 575.6,108.0 576.2,108.0 576.8,108.0 577.3,108.0 577.9,108.0 578.5,108.0 579.0,108.0 579.6,108.0 580.1,108.0 580.7,108.0 581.3,108.0 581.8,108.0 582.4,108.0 583.0,108.0 583.5,108.0 584.1,108.0 584.7,108.0 585.2,108.0 585.8,108.0 586.4,108.0 586.9,108.0 587.5,108.0 588.1,108.0 588.6,108.0 589.2,108.0 589.8,108.0 590.3,108.0 590.9,108.0 591.5,108.0 592.0,108.0 592.6,108.0 593.2,108.0 593.7,108.0 594.3,108.0 594.9,108.0 595.4,108.0 596.0,108.0 596.6,108.0 597.1,108.0 597.7,108.0 598.3,108.0 598.8,108.0 599.4,108.0 600.0,108.0 600.5,108.0 601.1,108.0 601.7,108.0 602.2,108.0 602.8,108.0 603.4,108.0 603.9,108.0 604.5,108.0 605.1,108.0 605.6,108.0 606.2,108.0 606.8,108.0 607.3,108.0 607.9,108.0 608.4,108.0 609.0,108.0 609.6,108.0 610.1,108.0 610.7,108.0 611.3,108.0 611.8,108.0 612.4,108.0 613.0,108.0 613.5,108.0 614.1,108.0 614.7,108.0 615.2,108.0 615.8,108.0 616.4,108.0 616.9,108.0 617.5,108.0 618.1,108.0 618.6,108.0 619.2,108.0 619.8,108.0 620.3,108.0 620.9,108.0 621.5,108.0 622.0,108.0 622.6,108.0 623.2,108.0 623.7,108.0 624.3,108.0 624.9,108.0 625.4,108.0 626.0,108.0 626.6,108.0 627.1,108.0 627.7,108.0 628.3,108.0 628.8,108.0 629.4,108.0 630.0,108.0 630.5,108.0 631.1,108.0 631.7,108.0 632.2,108.0 632.8,108.0 633.4,108.0 633.9,108.0 634.5,108.0 635.0,108.0 635.6,108.0 636.2,108.0 636.7,108.0 637.3,108.0 637.9,108.0 638.4,108.0 639.0,108.0 639.6,108.0 640.1,108.0 640.7,108.0 641.3,108.0 641.8,108.0 642.4,108.0 643.0,108.0 643.5,108.0 644.1,108.0 644.7,108.0 645.2,108.0 645.8,108.0 646.4,108.0 646.9,108.0 647.5,108.0 648.1,108.0 648.6,108.0 649.2,108.0 649.8,108.0 650.3,108.0 650.9,108.0 651.5,108.0 652.0,108.0 652.6,108.0 653.2,108.0 653.7,108.0 654.3,108.0 654.9,108.0 655.4,108.0 656.0,108.0 656.6,108.0 657.1,108.0 657.7,108.0 658.3,108.0 658.8,108.0 659.4,108.0 660.0,108.0 660.5,108.0 661.1,108.0 661.7,108.0 662.2,108.0 662.8,108.0 663.4,108.0 663.9,108.0 664.5,108.0 665.0,108.0 665.6,108.0 666.2,108.0 666.7,108.0 667.3,108.0 667.9,108.0 668.4,108.0 669.0,108.0 669.6,108.0 670.1,108.0 670.7,108.0 671.3,108.0 671.8,108.0 672.4,108.0 673.0,108.0 673.5,108.0 674.1,108.0 674.7,108.0 675.2,108.0 675.8,108.0 676.4,108.0 676.9,108.0 677.5,108.0" stroke="#dd6c40" stroke-width="1.0"/>
<polyline points="394.5,216.7 394.6,214.1 394.7,211.7 394.9,209.3 395.0,206.9 395.1,204.7 395.2,202.6 395.3,200.6 395.4,198.8 395.6,197.1 395.7,195.6 395.8,194.1 395.9,192.8 396.0,191.5 396.2,190.3 396.3,189.1 396.4,188.0 396.5,186.9 396.6,185.9 396.7,184.9 396.9,183.9 397.0,182.9 397.1,182.0 397.2,181.1 397.3,180.2 397.4,179.4 397.6,178.6 397.7,177.8 397.8,177.0 397.9,176.3 398.0,175.5 398.2,174.8 398.3,174.0 398.4,173.3 398.5,172.5 398.6,171.7 398.7,170.9 398.9,170.0 399.0,169.1 399.1,168.1 399.2,167.0 399.3,165.9 399.5,164.8 399.6,163.6 399.7,162.5 399.8,161.5 399.9,160.5 400.0,159.6 400.2,158.9 400.3,158.3 400.4,157.8 400.5,157.4 400.6,157.0 400.7,156.6 400.9,156.2 401.0,155.9 401.1,155.6 401.2,155.3 401.3,155.0 401.5,154.8 401.6,154.5 401.7,154.3 401.8,154.0 401.9,153.8 402.0,153.6 402.2,153.3 402.3,153.1 402.4,152.8 402.5,152.6 402.6,152.3 402.8,152.0 402.9,151.8 403.0,151.5 403.1,151.3 403.2,151.1 403.3,150.8 403.5,150.6 403.6,150.4 403.7,150.1 403.8,149.9 403.9,149.7 404.1,149.4 404.2,149.2 404.3,149.0 404.4,148.7 404.5,148.5 404.6,148.3 404.8,148.0 404.9,147.8 405.0,147.5 405.1,147.3 405.2,147.0 405.3,146.7 405.5,146.4 405.6,146.2 405.7,145.9 405.8,145.6 405.9,145.3 406.1,145.0 406.2,144.7 406.3,144.4 406.4,144.1 406.5,143.8 406.6,143.5 406.8,143.2 406.9,142.8 407.0,142.5 407.1,142.1 407.2,141.8 407.4,141.4 407.5,141.0 407.6,140.6 407.7,140.1 407.8,139.7 407.9,139.2 408.1,138.7 408.2,138.2 408.3,137.7 408.4,137.2 408.5,136.7 408.6,136.2 408.8,135.7 408.9,135.2 409.0,134.8 409.1,134.4 409.2,134.0 409.4,133.6 409.5,133.2 409.6,132.8 409.7,132.3 409.8,131.8 409.9,131.3 410.1,130.7 410.2,130.1 410.3,129.4 410.4,128.5 410.5,127.5 410.7,126.3 410.8,125.1 410.9,123.8 411.0,122.5 411.1,121.2 411.2,119.9 411.4,118.7 411.5,117.6 411.6,116.5 411.7,115.4 411.8,114.2 412.0,113.2 412.1,112.2 412.2,111.3 412.3,110.6 412.4,110.1 412.5,109.7 412.7,109.2 412.8,108.9 412.9,108.6 413.0,108.4 413.1,108.3 413.2,108.2 413.4,108.2 413.5,108.1 413.6,108.0 413.7,108.0 413.8,108.0 414.0,107.9 414.1,107.9 414.2,107.9 414.3,107.9 414.4,107.9 414.5,107.9 414.7,107.8 414.8,107.8 414.9,107.8 415.0,107.8 415.1,107.8 415.3,107.8 415.4,107.8 415.5,107.8 415.6,107.8 415.7,107.8 415.8,107.8 416.0,107.8 416.1,107.8 416.2,107.8 416.3,107.8 416.4,107.8 416.6,107.8 416.7,107.8 416.8,107.8 416.9,107.8 417.0,107.8 417.1,107.8 417.3,107.7 417.4,107.7 417.5,107.7 417.6,107.7 417.7,107.7 417.8,107.7 418.0,107.7 418.1,107.7 418.2,107.7 418.3,107.7 418.4,107.7 418.6,107.7 418.7,107.7 418.8,107.7 418.9,107.7 419.0,107.7 419.1,107.7 419.3,107.7 419.4,107.7 419.5,107.7 419.6,107.7 419.7,107.7 419.9,107.7 420.0,107.7 420.1,107.7 420.2,107.7 420.3,107.7 420.4,107.7 420.6,107.7 420.7,107.7 420.8,107.7 420.9,107.7 421.0,107.7 421.1,107.7 421.3,107.7 421.4,107.7 421.5,107.7 421.6,107.7 421.7,107.7 421.9,107.7 422.0,107.7 422.1,107.7 422.2,107.7 422.3,107.7 422.4,107.7 422.6,107.7 422.7,107.7 422.8,107.7 422.9,107.7 423.0,107.7 423.2,107.7 423.3,107.7 423.4,107.7 423.5,107.7 423.6,107.7 423.7,107.7 423.9,107.7 424.0,107.7 424.1,107.7 424.2,107.7 424.3,107.7 424.5,107.7 424.6,107.7 424.7,107.7 424.8,107.7 424.9,107.7 425.0,107.7 425.2,107.7 425.3,107.7 425.4,107.7 425.5,107.7 425.6,107.7 425.7,107.7 425.9,107.7 426.0,107.7 426.1,107.7 426.2,107.7 426.3,107.8 426.5,107.8 426.6,107.8 426.7,107.8 426.8,107.8 426.9,107.8 427.0,107.8 427.2,107.8 427.3,107.8 427.4,107.8 427.5,107.8 427.6,107.8 427.8,107.8 427.9,107.8 428.0,107.8 428.1,107.8 428.2,107.8 428.3,107.8 428.5,107.8 428.6,107.8 428.7,107.8 428.8,107.8 428.9,107.9 429.0,107.9 429.2,107.9 429.3,107.9 429.4,107.9 429.5,107.9 429.6,107.9 429.8,107.9 429.9,107.9 430.0,107.9 430.1,107.9 430.2,107.9 430.3,107.9 430.5,107.9 430.6,107.9 430.7,107.9 430.8,107.9 430.9,107.9 431.1,107.9 431.2,107.9 431.3,107.9 431.4,107.9 431.5,108.0 431.6,108.0 431.8,108.0 431.9,108.0 432.0,108.0 432.1,108.0 432.2,108.0 432.4,108.0 432.5,108.0 432.6,108.0 432.7,108.0 432.8,108.0 432.9,108.0 433.1,108.0 433.2,108.0 433.3,108.0 433.4,108.0 433.5,108.0 433.6,108.0 433.8,108.0 433.9,108.0 434.0,108.0 434.1,108.0 434.2,108.0 434.4,108.0 434.5,108.0 434.6,108.0 434.7,108.0 434.8,108.0 434.9,108.0 435.1,108.0 435.2,108.0 435.3,108.0 435.4,108.0 435.5,108.0 435.7,108.0 435.8,108.0 435.9,108.0 436.0,108.0 436.1,108.0 436.2,108.0 436.4,108.0 436.5,108.0 436.6,108.0 436.7,108.0 436.8,108.0 436.9,108.0 437.5,108.0 438.1,108.0 438.6,108.0 439.2,108.0 439.8,107.9 440.3,107.9 440.9,107.9 441.5,107.9 442.0,107.9 442.6,107.9 443.2,107.9 443.7,107.9 444.3,107.8 444.9,107.8 445.4,107.8 446.0,107.8 446.6,107.8 447.1,107.8 447.7,107.8 448.3,107.8 448.8,107.7 449.4,107.7 450.0,107.7 450.5,107.7 451.1,107.7 451.7,107.7 452.2,107.7 452.8,107.6 453.4,107.6 453.9,107.6 454.5,107.6 455.1,107.6 455.6,107.6 456.2,107.6 456.8,107.5 457.3,107.5 457.9,107.5 458.5,107.5 459.0,107.5 459.6,107.5 460.2,107.5 460.7,107.5 461.3,107.4 461.9,107.4 462.4,107.4 463.0,107.4 463.6,107.4 464.1,107.4 464.7,107.4 465.2,107.4 465.8,107.4 466.4,107.4 466.9,107.3 467.5,107.3 468.1,107.3 468.6,107.3 469.2,107.3 469.8,107.3 470.3,107.3 470.9,107.3 471.5,107.3 472.0,107.3 472.6,107.3 473.2,107.3 473.7,107.3 474.3,107.3 474.9,107.3 475.4,107.3 476.0,107.2 476.6,107.2 477.1,107.2 477.7,107.2 478.3,107.2 478.8,107.2 479.4,107.2 480.0,107.2 480.5,107.2 481.1,107.2 481.7,107.2 482.2,107.2 482.8,107.2 483.4,107.3 483.9,107.3 484.5,107.3 485.1,107.3 485.6,107.3 486.2,107.3 486.8,107.3 487.3,107.3 487.9,107.3 488.5,107.3 489.0,107.3 489.6,107.3 490.2,107.3 490.7,107.3 491.3,107.3 491.9,107.3 492.4,107.4 493.0,107.4 493.6,107.4 494.1,107.4 494.7,107.4 495.2,107.4 495.8,107.4 496.4,107.4 496.9,107.4 497.5,107.4 498.1,107.5 498.6,107.5 499.2,107.5 499.8,107.5 500.3,107.5 500.9,107.5 501.5,107.5 502.0,107.5 502.6,107.6 503.2,107.6 503.7,107.6 504.3,107.6 504.9,107.6 505.4,107.6 506.0,107.6 506.6,107.7 507.1,107.7 507.7,107.7 508.3,107.7 508.8,107.7 509.4,107.7 510.0,107.7 510.5,107.8 511.1,107.8 511.7,107.8 512.2,107.8 512.8,107.8 513.4,107.8 513.9,107.8 514.5,107.8 515.1,107.9 515.6,107.9 516.2,107.9 516.8,107.9 517.3,107.9 517.9,107.9 518.5,107.9 519.0,107.9 519.6,108.0 520.2,108.0 520.7,108.0 521.3,108.0 521.9,108.0 522.4,108.0 523.0,108.0 523.5,108.0 524.1,108.0 524.7,108.0 525.2,108.1 525.8,108.1 526.4,108.1 526.9,108.1 527.5,108.1 528.1,108.1 528.6,108.1 529.2,108.1 529.8,108.1 530.3,108.1 530.9,108.1 531.5,108.1 532.0,108.1 532.6,108.1 533.2,108.1 533.7,108.1 534.3,108.1 534.9,108.1 535.4,108.1 536.0,108.1 536.6,108.1 537.1,108.1 537.7,108.1 538.3,108.1 538.8,108.1 539.4,108.1 540.0,108.1 540.5,108.1 541.1,108.1 541.7,108.1 542.2,108.1 542.8,108.1 543.4,108.1 543.9,108.1 544.5,108.1 545.1,108.1 545.6,108.1 546.2,108.1 546.8,108.1 547.3,108.0 547.9,108.0 548.5,108.0 549.0,108.0 549.6,108.0 550.1,108.0 550.7,108.0 551.3,108.0 551.8,108.0 552.4,108.0 553.0,107.9 553.5,107.9 554.1,107.9 554.7,107.9 555.2,107.9 555.8,107.9 556.4,107.9 556.9,107.9 557.5,107.8 558.1,107.8 558.6,107.8 559.2,107.8 559.8,107.8 560.3,107.8 560.9,107.8 561.5,107.8 562.0,107.7 562.6,107.7 563.2,107.7 563.7,107.7 564.3,107.7 564.9,107.7 565.4,107.7 566.0,107.6 566.6,107.6 567.1,107.6 567.7,107.6 568.3,107.6 568.8,107.6 569.4,107.6 570.0,107.5 570.5,107.5 571.1,107.5 571.7,107.5 572.2,107.5 572.8,107.5 573.4,107.5 573.9,107.5 574.5,107.4 575.1,107.4 575.6,107.4 576.2,107.4 576.8,107.4 577.3,107.4 577.9,107.4 578.5,107.4 579.0,107.4 579.6,107.4 580.1,107.3 580.7,107.3 581.3,107.3 581.8,107.3 582.4,107.3 583.0,107.3 583.5,107.3 584.1,107.3 584.7,107.3 585.2,107.3 585.8,107.3 586.4,107.3 586.9,107.3 587.5,107.3 588.1,107.3 588.6,107.3 589.2,107.2 589.8,107.2 590.3,107.2 590.9,107.2 591.5,107.2 592.0,107.2 592.6,107.2 593.2,107.2 593.7,107.2 594.3,107.2 594.9,107.2 595.4,107.2 596.0,107.2 596.6,107.3 597.1,107.3 597.7,107.3 598.3,107.3 598.8,107.3 599.4,107.3 600.0,107.3 600.5,107.3 601.1,107.3 601.7,107.3 602.2,107.3 602.8,107.3 603.4,107.3 603.9,107.3 604.5,107.3 605.1,107.3 605.6,107.4 606.2,107.4 606.8,107.4 607.3,107.4 607.9,107.4 608.4,107.4 609.0,107.4 609.6,107.4 610.1,107.4 610.7,107.4 611.3,107.5 611.8,107.5 612.4,107.5 613.0,107.5 613.5,107.5 614.1,107.5 614.7,107.5 615.2,107.5 615.8,107.6 616.4,107.6 616.9,107.6 617.5,107.6 618.1,107.6 618.6,107.6 619.2,107.6 619.8,107.7 620.3,107.7 620.9,107.7 621.5,107.7 622.0,107.7 622.6,107.7 623.2,107.7 623.7,107.8 624.3,107.8 624.9,107.8 625.4,107.8 626.0,107.8 626.6,107.8 627.1,107.8 627.7,107.8 628.3,107.9 628.8,107.9 629.4,107.9 630.0,107.9 630.5,107.9 631.1,107.9 631.7,107.9 632.2,107.9 632.8,108.0 633.4,108.0 633.9,108.0 634.5,108.0 635.0,108.0 635.6,108.0 636.2,108.0 636.7,108.0 637.3,108.0 637.9,108.0 638.4,108.1 639.0,108.1 639.6,108.1 640.1,108.1 640.7,108.1 641.3,108.1 641.8,108.1 642.4,108.1 643.0,108.1 643.5,108.1 644.1,108.1 644.7,108.1 645.2,108.1 645.8,108.1 646.4,108.1 646.9,108.1 647.5,108.1 648.1,108.1 648.6,108.1 649.2,108.1 649.8,108.1 650.3,108.1 650.9,108.1 651.5,108.1 652.0,108.1 652.6,108.1 653.2,108.1 653.7,108.1 654.3,108.1 654.9,108.1 655.4,108.1 656.0,108.1 656.6,108.1 657.1,108.1 657.7,108.1 658.3,108.1 658.8,108.1 659.4,108.1 660.0,108.1 660.5,108.0 661.1,108.0 661.7,108.0 662.2,108.0 662.8,108.0 663.4,108.0 663.9,108.0 664.5,108.0 665.0,108.0 665.6,108.0 666.2,107.9 666.7,107.9 667.3,107.9 667.9,107.9 668.4,107.9 669.0,107.9 669.6,107.9 670.1,107.9 670.7,107.8 671.3,107.8 671.8,107.8 672.4,107.8 673.0,107.8 673.5,107.8 674.1,107.8 674.7,107.8 675.2,107.7 675.8,107.7 676.4,107.7 676.9,107.7 677.5,107.7" stroke="#f0bb32" stroke-width="1.0"/>
<polyline points="394.5,39.7 394.6,40.8 394.7,41.8 394.9,42.8 395.0,43.8 395.1,44.8 395.2,45.7 395.3,46.5 395.4,47.3 395.6,48.0 395.7,48.7 395.8,49.3 395.9,49.9 396.0,50.4 396.2,50.9 396.3,51.4 396.4,51.9 396.5,52.4 396.6,52.8 396.7,53.2 396.9,53.6 397.0,53.9 397.1,54.1 397.2,54.3 397.3,54.3 397.4,54.4 397.6,54.4 397.7,54.4 397.8,54.4 397.9,54.5 398.0,54.5 398.2,54.5 398.3,54.5 398.4,54.5 398.5,54.5 398.6,54.5 398.7,54.5 398.9,54.5 399.0,54.5 399.1,54.4 399.2,54.4 399.3,54.3 399.5,54.2 399.6,54.1 399.7,54.0 399.8,53.9 399.9,53.8 400.0,53.7 400.2,53.7 400.3,53.6 400.4,53.5 400.5,53.4 400.6,53.4 400.7,53.3 400.9,53.3 401.0,53.3 401.1,53.2 401.2,53.2 401.3,53.2 401.5,53.2 401.6,53.2 401.7,53.1 401.8,53.1 401.9,53.1 402.0,53.1 402.2,53.1 402.3,53.1 402.4,53.1 402.5,53.0 402.6,53.0 402.8,53.0 402.9,53.0 403.0,53.0 403.1,53.0 403.2,53.0 403.3,53.0 403.5,53.0 403.6,53.0 403.7,53.0 403.8,52.9 403.9,52.9 404.1,52.9 404.2,52.9 404.3,52.9 404.4,52.9 404.5,52.9 404.6,52.9 404.8,52.9 404.9,52.9 405.0,52.9 405.1,52.9 405.2,52.9 405.3,52.9 405.5,52.9 405.6,52.9 405.7,52.9 405.8,52.9 405.9,52.9 406.1,52.9 406.2,52.9 406.3,52.9 406.4,52.8 406.5,52.8 406.6,52.8 406.8,52.8 406.9,52.8 407.0,52.8 407.1,52.8 407.2,52.8" stroke="#9652ae" stroke-width="1.0"/>
<polyline points="394.5,13.3 394.6,14.1 394.7,14.9 394.9,15.8 395.0,16.7 395.1,17.7 395.2,18.7 395.3,19.7 395.4,20.9 395.6,22.1 395.7,23.3 395.8,24.6 395.9,26.0 396.0,27.3 396.2,28.6 396.3,30.0 396.4,31.3 396.5,32.6 396.6,33.8 396.7,35.1 396.9,36.5 397.0,37.9 397.1,39.3 397.2,40.8 397.3,42.2 397.4,43.7 397.6,45.0 397.7,46.3 397.8,47.5 397.9,48.5 398.0,49.4 398.2,50.1 398.3,50.6 398.4,51.0 398.5,51.2 398.6,51.5 398.7,51.7 398.9,51.9 399.0,52.1 399.1,52.3 399.2,52.4 399.3,52.5 399.5,52.6 399.6,52.6 399.7,52.7 399.8,52.7 399.9,52.8 400.0,52.8 400.2,52.9 400.3,52.9 400.4,52.9 400.5,53.0 400.6,53.0 400.7,53.0 400.9,53.0 401.0,53.0 401.1,53.0 401.2,53.0 401.3,53.0 401.5,53.0 401.6,53.0 401.7,53.0 401.8,53.0 401.9,53.0 402.0,53.0 402.2,53.0 402.3,53.0 402.4,53.0 402.5,53.0 402.6,53.0 402.8,53.0 402.9,53.0 403.0,53.0 403.1,53.0 403.2,53.0 403.3,52.9 403.5,52.9 403.6,52.9 403.7,52.9 403.8,52.9 403.9,52.9 404.1,52.9 404.2,52.9 404.3,52.9 404.4,52.9 404.5,52.9 404.6,52.9 404.8,52.9 404.9,52.9 405.0,52.9 405.1,52.9 405.2,52.9 405.3,52.9 405.5,52.9 405.6,52.9 405.7,52.9 405.8,52.9 405.9,52.9 406.1,52.9 406.2,52.9 406.3,52.9 406.4,52.9 406.5,52.9 406.6,52.9 406.8,52.9 406.9,52.9 407.0,52.9 407.1,52.9 407.2,52.8 407.4,52.8 407.5,52.8 407.6,52.8 407.7,52.8 407.8,52.8 407.9,52.8 408.1,52.8 408.2,52.8 408.3,52.8 408.4,52.8 408.5,52.8 408.6,52.8 408.8,52.8 408.9,52.8 409.0,52.8 409.1,52.8 409.2,52.8 409.4,52.8 409.5,52.8 409.6,52.8 409.7,52.8 409.8,52.8 409.9,52.8 410.1,52.8 410.2,52.8 410.3,52.8 410.4,52.8 410.5,52.8 410.7,52.8 410.8,52.8 410.9,52.8 411.0,52.8 411.1,52.7 411.2,52.7 411.4,52.7 411.5,52.7 411.6,52.7 411.7,52.7 411.8,52.7 412.0,52.7 412.1,52.7 412.2,52.7 412.3,52.7 412.4,52.7 412.5,52.7 412.7,52.7 412.8,52.7 412.9,52.7 413.0,52.7 413.1,52.7 413.2,52.7 413.4,52.7 413.5,52.7 413.6,52.7 413.7,52.7 413.8,52.7 414.0,52.7 414.1,52.7 414.2,52.7 414.3,52.7 414.4,52.6 414.5,52.6 414.7,52.6 414.8,52.6 414.9,52.6 415.0,52.6 415.1,52.6 415.3,52.6 415.4,52.6 415.5,52.6 415.6,52.6 415.7,52.6 415.8,52.6 416.0,52.6 416.1,52.6 416.2,52.6 416.3,52.6 416.4,52.6 416.6,52.6 416.7,52.6 416.8,52.6 416.9,52.6 417.0,52.6 417.1,52.6 417.3,52.6 417.4,52.5 417.5,52.5 417.6,52.5 417.7,52.5 417.8,52.5 418.0,52.5 418.1,52.5 418.2,52.5 418.3,52.5 418.4,52.5 418.6,52.5 418.7,52.5 418.8,52.5 418.9,52.5 419.0,52.5 419.1,52.5 419.3,52.5 419.4,52.5 419.5,52.5 419.6,52.5 419.7,52.5 419.9,52.5 420.0,52.5 420.1,52.5 420.2,52.5 420.3,52.4 420.4,52.4 420.6,52.4 420.7,52.4 420.8,52.4 420.9,52.4 421.0,52.4 421.1,52.4 421.3,52.4 421.4,52.4 421.5,52.4 421.6,52.4 421.7,52.4 421.9,52.4 422.0,52.4 422.1,52.4 422.2,52.4 422.3,52.4 422.4,52.4 422.6,52.4 422.7,52.4 422.8,52.4 422.9,52.4 423.0,52.4 423.2,52.4 423.3,52.4 423.4,52.4 423.5,52.4 423.6,52.4 423.7,52.4 423.9,52.4 424.0,52.4 424.1,52.4 424.2,52.3 424.3,52.3 424.5,52.3 424.6,52.3 424.7,52.3 424.8,52.3 424.9,52.3 425.0,52.3 425.2,52.3 425.3,52.3 425.4,52.3 425.5,52.3 425.6,52.3 425.7,52.3 425.9,52.3 426.0,52.3 426.1,52.3 426.2,52.3 426.3,52.3 426.5,52.3 426.6,52.3 426.7,52.3 426.8,52.3 426.9,52.3 427.0,52.3 427.2,52.3 427.3,52.3 427.4,52.3 427.5,52.3 427.6,52.3 427.8,52.3 427.9,52.3 428.0,52.3 428.1,52.3 428.2,52.3 428.3,52.3 428.5,52.3 428.6,52.3 428.7,52.3 428.8,52.3 428.9,52.3 429.0,52.3 429.2,52.3 429.3,52.2 429.4,52.2 429.5,52.2 429.6,52.2 429.8,52.2 429.9,52.2 430.0,52.2 430.1,52.2 430.2,52.2 430.3,52.2 430.5,52.2 430.6,52.2 430.7,52.2 430.8,52.2 430.9,52.2 431.1,52.2 431.2,52.2 431.3,52.2 431.4,52.2 431.5,52.2 431.6,52.2 431.8,52.2 431.9,52.2 432.0,52.2 432.1,52.2 432.2,52.2 432.4,52.2 432.5,52.2 432.6,52.2 432.7,52.2 432.8,52.2 432.9,52.2 433.1,52.2 433.2,52.2 433.3,52.2 433.4,52.2 433.5,52.2 433.6,52.2 433.8,52.2 433.9,52.2 434.0,52.2 434.1,52.2 434.2,52.2 434.4,52.2 434.5,52.2 434.6,52.2 434.7,52.2 434.8,52.2 434.9,52.2 435.1,52.1 435.2,52.1 435.3,52.1 435.4,52.1 435.5,52.1 435.7,52.1 435.8,52.1 435.9,52.1 436.0,52.1 436.1,52.1 436.2,52.1 436.4,52.1 436.5,52.1 436.6,52.1 436.7,52.1 436.8,52.1 436.9,52.1 437.5,52.1 438.1,52.1 438.6,52.1 439.2,52.1 439.8,52.1 440.3,52.1 440.9,52.0 441.5,52.0 442.0,52.0 442.6,52.0 443.2,52.0 443.7,52.0 444.3,52.0 444.9,52.0 445.4,52.0 446.0,52.0 446.6,52.0 447.1,52.0 447.7,52.0 448.3,52.0 448.8,52.0 449.4,52.0 450.0,52.0 450.5,52.0 451.1,52.0 451.7,52.0 452.2,52.0 452.8,52.0 453.4,52.0 453.9,52.0 454.5,52.0 455.1,52.0 455.6,52.0 456.2,52.0 456.8,52.0 457.3,52.0 457.9,52.0 458.5,52.0 459.0,52.0 459.6,52.0 460.2,52.0 460.7,52.0 461.3,52.0 461.9,52.0 462.4,52.0 463.0,51.9 463.6,51.9 464.1,51.9 464.7,51.9 465.2,51.9 465.8,51.9 466.4,51.9 466.9,51.9 467.5,51.9 468.1,51.9 468.6,51.9 469.2,51.9 469.8,51.9 470.3,51.9 470.9,51.9 471.5,51.9 472.0,51.9 472.6,51.9 473.2,51.9 473.7,51.9 474.3,51.9 474.9,51.9 475.4,51.9 476.0,51.9 476.6,51.9 477.1,51.9 477.7,51.9 478.3,51.9 478.8,51.9 479.4,51.9 480.0,51.8 480.5,51.8 481.1,51.8 481.7,51.8 482.2,51.8 482.8,51.8 483.4,51.8 483.9,51.8 484.5,51.8 485.1,51.8 485.6,51.8 486.2,51.8 486.8,51.8 487.3,51.8 487.9,51.8 488.5,51.8 489.0,51.8 489.6,51.8 490.2,51.8 490.7,51.8 491.3,51.8 491.9,51.8 492.4,51.8 493.0,51.8 493.6,51.8 494.1,51.8 494.7,51.8 495.2,51.8 495.8,51.8 496.4,51.8 496.9,51.8 497.5,51.8 498.1,51.8 498.6,51.8 499.2,51.8 499.8,51.7 500.3,51.7 500.9,51.7 501.5,51.7 502.0,51.7 502.6,51.7 503.2,51.7 503.7,51.7 504.3,51.7 504.9,51.7 505.4,51.7 506.0,51.7 506.6,51.7 507.1,51.7 507.7,51.7 508.3,51.7 508.8,51.7 509.4,51.7 510.0,51.7 510.5,51.7 511.1,51.7 511.7,51.7 512.2,51.7 512.8,51.7 513.4,51.7 513.9,51.7 514.5,51.7 515.1,51.7 515.6,51.7 516.2,51.7 516.8,51.7 517.3,51.7 517.9,51.7 518.5,51.7 519.0,51.7 519.6,51.7 520.2,51.7 520.7,51.7 521.3,51.7 521.9,51.7 522.4,51.7 523.0,51.7 523.5,51.7 524.1,51.7 524.7,51.7 525.2,51.7 525.8,51.7 526.4,51.7 526.9,51.7 527.5,51.7 528.1,51.7 528.6,51.7 529.2,51.7 529.8,51.7 530.3,51.7 530.9,51.7 531.5,51.7 532.0,51.7 532.6,51.7 533.2,51.7 533.7,51.7 534.3,51.7 534.9,51.7 535.4,51.7 536.0,51.7 536.6,51.7 537.1,51.7 537.7,51.7 538.3,51.7 538.8,51.7 539.4,51.7 540.0,51.7 540.5,51.7 541.1,51.7 541.7,51.7 542.2,51.7 542.8,51.7 543.4,51.7 543.9,51.7 544.5,51.7 545.1,51.7 545.6,51.7 546.2,51.7 546.8,51.7 547.3,51.7 547.9,51.7 548.5,51.7 549.0,51.7 549.6,51.7 550.1,51.7 550.7,51.7 551.3,51.7 551.8,51.7 552.4,51.7 553.0,51.7 553.5,51.7 554.1,51.7 554.7,51.7 555.2,51.7 555.8,51.7 556.4,51.7 556.9,51.7 557.5,51.7 558.1,51.7 558.6,51.7 559.2,51.7 559.8,51.7 560.3,51.7 560.9,51.7 561.5,51.7 562.0,51.7 562.6,51.7 563.2,51.7 563.7,51.7 564.3,51.7 564.9,51.7 565.4,51.7 566.0,51.7 566.6,51.7 567.1,51.7 567.7,51.7 568.3,51.7 568.8,51.7 569.4,51.7 570.0,51.7 570.5,51.7 571.1,51.7 571.7,51.7 572.2,51.7 572.8,51.8 573.4,51.8 573.9,51.8 574.5,51.8 575.1,51.8 575.6,51.8 576.2,51.8 576.8,51.8 577.3,51.8 577.9,51.8 578.5,51.8 579.0,51.8 579.6,51.8 580.1,51.8 580.7,51.8 581.3,51.8 581.8,51.8 582.4,51.8 583.0,51.8 583.5,51.8 584.1,51.8 584.7,51.8 585.2,51.8 585.8,51.8 586.4,51.8 586.9,51.8 587.5,51.8 588.1,51.8 588.6,51.8 589.2,51.8 589.8,51.8 590.3,51.8 590.9,51.8 591.5,51.8 592.0,51.8 592.6,51.9 593.2,51.9 593.7,51.9 594.3,51.9 594.9,51.9 595.4,51.9 596.0,51.9 596.6,51.9 597.1,51.9 597.7,51.9 598.3,51.9 598.8,51.9 599.4,51.9 600.0,51.9 600.5,51.9 601.1,51.9 601.7,51.9 602.2,51.9 602.8,51.9 603.4,51.9 603.9,51.9 604.5,51.9 605.1,51.9 605.6,51.9 606.2,51.9 606.8,51.9 607.3,51.9 607.9,51.9 608.4,51.9 609.0,51.9 609.6,52.0 610.1,52.0 610.7,52.0 611.3,52.0 611.8,52.0 612.4,52.0 613.0,52.0 613.5,52.0 614.1,52.0 614.7,52.0 615.2,52.0 615.8,52.0 616.4,52.0 616.9,52.0 617.5,52.0 618.1,52.0 618.6,52.0 619.2,52.0 619.8,52.0 620.3,52.0 620.9,52.0 621.5,52.0 622.0,52.0 622.6,52.0 623.2,52.0 623.7,52.0 624.3,52.0 624.9,52.0 625.4,52.0 626.0,52.0 626.6,52.0 627.1,52.1 627.7,52.1 628.3,52.1 628.8,52.1 629.4,52.1 630.0,52.1 630.5,52.1 631.1,52.1 631.7,52.1 632.2,52.1 632.8,52.1 633.4,52.1 633.9,52.1 634.5,52.1 635.0,52.1 635.6,52.1 636.2,52.1 636.7,52.1 637.3,52.1 637.9,52.1 638.4,52.1 639.0,52.1 639.6,52.1 640.1,52.1 640.7,52.1 641.3,52.1 641.8,52.1 642.4,52.1 643.0,52.1 643.5,52.1 644.1,52.1 644.7,52.1 645.2,52.1 645.8,52.1 646.4,52.1 646.9,52.1 647.5,52.1 648.1,52.1 648.6,52.2 649.2,52.2 649.8,52.2 650.3,52.2 650.9,52.2 651.5,52.2 652.0,52.2 652.6,52.2 653.2,52.2 653.7,52.2 654.3,52.2 654.9,52.2 655.4,52.2 656.0,52.2 656.6,52.2 657.1,52.2 657.7,52.2 658.3,52.2 658.8,52.2 659.4,52.2 660.0,52.2 660.5,52.2 661.1,52.2 661.7,52.2 662.2,52.2 662.8,52.2 663.4,52.2 663.9,52.2 664.5,52.2 665.0,52.2 665.6,52.2 666.2,52.2 666.7,52.2 667.3,52.2 667.9,52.2 668.4,52.2 669.0,52.2 669.6,52.2 670.1,52.2 670.7,52.2 671.3,52.2 671.8,52.2 672.4,52.2 673.0,52.2 673.5,52.2 674.1,52.2 674.7,52.2 675.2,52.2 675.8,52.2 676.4,52.2 676.9,52.2 677.5,52.2" stroke="#86b04a" stroke-width="1.1"/>
<polyline points="394.5,163.2 394.6,162.3 394.7,161.5 394.9,160.8 395.0,160.0 395.1,159.3 395.2,158.7 395.3,158.1 395.4,157.6 395.6,157.2 395.7,156.8 395.8,156.4 395.9,156.1 396.0,155.7 396.2,155.4 396.3,155.1 396.4,154.8 396.5,154.6 396.6,154.3 396.7,154.2 396.9,154.1 397.0,154.0 397.1,154.0 397.2,154.0 397.3,154.1 397.4,154.2 397.6,154.3 397.7,154.4 397.8,154.6 397.9,154.8 398.0,154.9 398.2,155.1 398.3,155.3 398.4,155.5 398.5,155.7 398.6,155.9 398.7,156.1 398.9,156.3 399.0,156.5 399.1,156.6 399.2,156.7 399.3,156.8 399.5,156.9 399.6,157.0 399.7,157.0 399.8,157.1 399.9,157.2 400.0,157.2 400.2,157.3 400.3,157.3 400.4,157.4 400.5,157.4 400.6,157.5 400.7,157.5 400.9,157.6 401.0,157.6 401.1,157.7 401.2,157.7 401.3,157.8 401.5,157.8 401.6,157.8 401.7,157.9 401.8,157.9 401.9,157.9 402.0,157.9 402.2,158.0 402.3,158.0 402.4,158.0 402.5,158.0 402.6,158.0 402.8,158.0 402.9,158.0 403.0,158.0 403.1,158.0 403.2,158.0 403.3,158.0 403.5,158.0 403.6,157.9 403.7,157.9 403.8,157.9 403.9,157.9 404.1,157.9 404.2,157.9 404.3,157.8 404.4,157.8 404.5,157.8 404.6,157.8 404.8,157.8 404.9,157.7 405.0,157.7 405.1,157.7 405.2,157.7 405.3,157.7 405.5,157.6 405.6,157.6 405.7,157.6 405.8,157.6 405.9,157.5 406.1,157.5 406.2,157.5 406.3,157.5 406.4,157.5 406.5,157.5 406.6,157.4 406.8,157.4 406.9,157.4 407.0,157.4 407.1,157.4 407.2,157.4 407.4,157.4 407.5,157.4 407.6,157.3 407.7,157.3 407.8,157.3 407.9,157.3 408.1,157.3 408.2,157.3 408.3,157.3 408.4,157.3 408.5,157.3 408.6,157.3 408.8,157.2 408.9,157.2 409.0,157.2 409.1,157.2 409.2,157.2 409.4,157.2 409.5,157.2 409.6,157.2 409.7,157.2 409.8,157.2 409.9,157.2 410.1,157.2 410.2,157.1 410.3,157.1 410.4,157.1 410.5,157.1 410.7,157.1 410.8,157.1 410.9,157.1 411.0,157.1 411.1,157.1 411.2,157.1 411.4,157.1 411.5,157.1 411.6,157.1 411.7,157.0 411.8,157.0 412.0,157.0 412.1,157.0 412.2,157.0 412.3,157.0 412.4,157.0 412.5,157.0 412.7,157.0 412.8,157.0 412.9,157.0 413.0,157.0 413.1,157.0 413.2,157.0 413.4,157.0 413.5,157.0 413.6,157.0 413.7,157.0 413.8,157.0 414.0,157.0 414.1,157.0 414.2,157.0 414.3,157.0 414.4,157.0 414.5,157.0 414.7,157.0 414.8,157.0 414.9,157.0 415.0,157.0 415.1,157.0 415.3,157.0 415.4,157.0 415.5,157.0 415.6,157.0 415.7,157.0 415.8,157.0 416.0,157.0 416.1,157.0 416.2,157.0 416.3,157.0 416.4,157.0 416.6,157.0 416.7,157.0 416.8,157.0 416.9,157.0 417.0,157.0 417.1,157.0 417.3,157.0 417.4,157.0 417.5,157.0 417.6,157.0 417.7,157.0 417.8,157.0 418.0,157.0 418.1,157.0 418.2,157.0 418.3,157.0 418.4,157.0 418.6,157.0 418.7,157.0 418.8,157.0 418.9,157.0 419.0,157.0 419.1,157.0 419.3,157.0 419.4,157.0 419.5,157.0 419.6,157.0 419.7,157.0 419.9,157.0 420.0,157.0 420.1,157.0 420.2,157.0 420.3,157.0 420.4,157.0 420.6,157.0 420.7,156.9 420.8,156.9 420.9,156.9 421.0,156.9 421.1,156.9 421.3,156.9 421.4,156.9 421.5,156.9 421.6,156.9 421.7,156.9 421.9,156.9 422.0,156.9 422.1,156.9 422.2,156.9 422.3,156.9 422.4,156.9 422.6,156.9 422.7,156.9 422.8,156.9 422.9,156.9 423.0,156.9 423.2,156.9 423.3,156.9 423.4,156.9 423.5,156.9 423.6,156.9 423.7,156.9 423.9,156.9 424.0,156.9 424.1,156.9 424.2,156.9 424.3,156.9 424.5,156.9 424.6,156.9 424.7,156.9 424.8,156.9 424.9,156.9 425.0,156.9 425.2,156.9 425.3,156.9 425.4,156.9 425.5,156.9 425.6,156.9 425.7,156.9 425.9,156.9 426.0,156.9 426.1,156.9 426.2,156.9 426.3,156.9 426.5,156.9 426.6,156.9 426.7,156.9 426.8,156.9 426.9,156.9 427.0,156.9 427.2,156.9 427.3,156.9 427.4,156.9 427.5,156.9 427.6,156.9 427.8,156.9 427.9,156.9 428.0,156.9 428.1,156.9 428.2,156.9 428.3,156.9 428.5,156.9 428.6,156.9 428.7,156.9 428.8,156.9 428.9,156.9 429.0,156.9 429.2,156.8 429.3,156.8 429.4,156.8 429.5,156.8 429.6,156.8 429.8,156.8 429.9,156.8 430.0,156.8 430.1,156.8 430.2,156.8 430.3,156.8 430.5,156.8 430.6,156.8 430.7,156.8 430.8,156.8 430.9,156.8 431.1,156.8 431.2,156.8 431.3,156.8 431.4,156.8 431.5,156.8 431.6,156.8 431.8,156.8 431.9,156.8 432.0,156.8 432.1,156.8 432.2,156.8 432.4,156.8 432.5,156.8 432.6,156.8 432.7,156.8 432.8,156.8 432.9,156.8 433.1,156.8 433.2,156.8 433.3,156.8 433.4,156.8 433.5,156.8 433.6,156.8 433.8,156.8 433.9,156.8 434.0,156.8 434.1,156.8 434.2,156.8 434.4,156.8 434.5,156.8 434.6,156.8 434.7,156.8 434.8,156.8 434.9,156.8 435.1,156.8 435.2,156.8 435.3,156.8 435.4,156.8 435.5,156.8 435.7,156.8 435.8,156.8 435.9,156.8 436.0,156.8 436.1,156.8 436.2,156.8 436.4,156.8 436.5,156.8 436.6,156.8 436.7,156.8 436.8,156.8 436.9,156.8 437.5,156.8 438.1,156.8 438.6,156.8 439.2,156.7 439.8,156.7 440.3,156.7 440.9,156.7 441.5,156.7 442.0,156.7 442.6,156.7 443.2,156.7 443.7,156.7 444.3,156.7 444.9,156.7 445.4,156.7 446.0,156.7 446.6,156.7 447.1,156.7 447.7,156.7 448.3,156.7 448.8,156.7 449.4,156.7 450.0,156.7 450.5,156.7 451.1,156.7 451.7,156.7 452.2,156.7 452.8,156.7 453.4,156.7 453.9,156.7 454.5,156.7 455.1,156.7 455.6,156.7 456.2,156.7 456.8,156.7 457.3,156.7 457.9,156.7 458.5,156.7 459.0,156.7 459.6,156.7 460.2,156.7 460.7,156.7 461.3,156.7 461.9,156.7 462.4,156.7 463.0,156.7 463.6,156.7 464.1,156.7 464.7,156.7 465.2,156.7 465.8,156.7 466.4,156.7 466.9,156.7 467.5,156.7 468.1,156.7 468.6,156.7 469.2,156.7 469.8,156.7 470.3,156.7 470.9,156.7 471.5,156.7 472.0,156.7 472.6,156.7 473.2,156.7 473.7,156.7 474.3,156.7 474.9,156.7 475.4,156.7 476.0,156.7 476.6,156.7 477.1,156.7 477.7,156.8 478.3,156.8 478.8,156.8 479.4,156.8 480.0,156.8 480.5,156.8 481.1,156.8 481.7,156.8 482.2,156.8 482.8,156.8 483.4,156.8 483.9,156.8 484.5,156.8 485.1,156.8 485.6,156.8 486.2,156.8 486.8,156.8 487.3,156.9 487.9,156.9 488.5,156.9 489.0,156.9 489.6,156.9 490.2,156.9 490.7,156.9 491.3,156.9 491.9,156.9 492.4,156.9 493.0,156.9 493.6,156.9 494.1,156.9 494.7,156.9 495.2,156.9 495.8,157.0 496.4,157.0 496.9,157.0 497.5,157.0 498.1,157.0 498.6,157.0 499.2,157.0 499.8,157.0 500.3,157.0 500.9,157.0 501.5,157.0 502.0,157.0 502.6,157.0 503.2,157.0 503.7,157.0 504.3,157.0 504.9,157.1 505.4,157.1 506.0,157.1 506.6,157.1 507.1,157.1 507.7,157.1 508.3,157.1 508.8,157.1 509.4,157.1 510.0,157.1 510.5,157.1 511.1,157.1 511.7,157.1 512.2,157.1 512.8,157.1 513.4,157.1 513.9,157.1 514.5,157.1 515.1,157.1 515.6,157.1 516.2,157.1 516.8,157.2 517.3,157.2 517.9,157.2 518.5,157.2 519.0,157.2 519.6,157.2 520.2,157.2 520.7,157.2 521.3,157.2 521.9,157.2 522.4,157.2 523.0,157.2 523.5,157.2 524.1,157.2 524.7,157.2 525.2,157.2 525.8,157.2 526.4,157.2 526.9,157.2 527.5,157.2 528.1,157.2 528.6,157.2 529.2,157.2 529.8,157.2 530.3,157.2 530.9,157.2 531.5,157.2 532.0,157.2 532.6,157.2 533.2,157.2 533.7,157.2 534.3,157.2 534.9,157.2 535.4,157.2 536.0,157.2 536.6,157.2 537.1,157.2 537.7,157.2 538.3,157.2 538.8,157.2 539.4,157.2 540.0,157.2 540.5,157.2 541.1,157.2 541.7,157.1 542.2,157.1 542.8,157.1 543.4,157.1 543.9,157.1 544.5,157.1 545.1,157.1 545.6,157.1 546.2,157.1 546.8,157.1 547.3,157.1 547.9,157.1 548.5,157.1 549.0,157.1 549.6,157.1 550.1,157.1 550.7,157.1 551.3,157.1 551.8,157.1 552.4,157.1 553.0,157.1 553.5,157.0 554.1,157.0 554.7,157.0 555.2,157.0 555.8,157.0 556.4,157.0 556.9,157.0 557.5,157.0 558.1,157.0 558.6,157.0 559.2,157.0 559.8,157.0 560.3,157.0 560.9,157.0 561.5,157.0 562.0,157.0 562.6,156.9 563.2,156.9 563.7,156.9 564.3,156.9 564.9,156.9 565.4,156.9 566.0,156.9 566.6,156.9 567.1,156.9 567.7,156.9 568.3,156.9 568.8,156.9 569.4,156.9 570.0,156.9 570.5,156.9 571.1,156.8 571.7,156.8 572.2,156.8 572.8,156.8 573.4,156.8 573.9,156.8 574.5,156.8 575.1,156.8 575.6,156.8 576.2,156.8 576.8,156.8 577.3,156.8 577.9,156.8 578.5,156.8 579.0,156.8 579.6,156.8 580.1,156.8 580.7,156.7 581.3,156.7 581.8,156.7 582.4,156.7 583.0,156.7 583.5,156.7 584.1,156.7 584.7,156.7 585.2,156.7 585.8,156.7 586.4,156.7 586.9,156.7 587.5,156.7 588.1,156.7 588.6,156.7 589.2,156.7 589.8,156.7 590.3,156.7 590.9,156.7 591.5,156.7 592.0,156.7 592.6,156.7 593.2,156.7 593.7,156.7 594.3,156.7 594.9,156.7 595.4,156.7 596.0,156.7 596.6,156.7 597.1,156.7 597.7,156.7 598.3,156.7 598.8,156.7 599.4,156.7 600.0,156.7 600.5,156.7 601.1,156.7 601.7,156.7 602.2,156.7 602.8,156.7 603.4,156.7 603.9,156.7 604.5,156.7 605.1,156.7 605.6,156.7 606.2,156.7 606.8,156.7 607.3,156.7 607.9,156.7 608.4,156.7 609.0,156.7 609.6,156.7 610.1,156.7 610.7,156.7 611.3,156.7 611.8,156.7 612.4,156.7 613.0,156.7 613.5,156.7 614.1,156.7 614.7,156.7 615.2,156.7 615.8,156.7 616.4,156.7 616.9,156.7 617.5,156.7 618.1,156.7 618.6,156.7 619.2,156.8 619.8,156.8 620.3,156.8 620.9,156.8 621.5,156.8 622.0,156.8 622.6,156.8 623.2,156.8 623.7,156.8 624.3,156.8 624.9,156.8 625.4,156.8 626.0,156.8 626.6,156.8 627.1,156.8 627.7,156.8 628.3,156.8 628.8,156.9 629.4,156.9 630.0,156.9 630.5,156.9 631.1,156.9 631.7,156.9 632.2,156.9 632.8,156.9 633.4,156.9 633.9,156.9 634.5,156.9 635.0,156.9 635.6,156.9 636.2,156.9 636.7,156.9 637.3,157.0 637.9,157.0 638.4,157.0 639.0,157.0 639.6,157.0 640.1,157.0 640.7,157.0 641.3,157.0 641.8,157.0 642.4,157.0 643.0,157.0 643.5,157.0 644.1,157.0 644.7,157.0 645.2,157.0 645.8,157.0 646.4,157.1 646.9,157.1 647.5,157.1 648.1,157.1 648.6,157.1 649.2,157.1 649.8,157.1 650.3,157.1 650.9,157.1 651.5,157.1 652.0,157.1 652.6,157.1 653.2,157.1 653.7,157.1 654.3,157.1 654.9,157.1 655.4,157.1 656.0,157.1 656.6,157.1 657.1,157.1 657.7,157.1 658.3,157.2 658.8,157.2 659.4,157.2 660.0,157.2 660.5,157.2 661.1,157.2 661.7,157.2 662.2,157.2 662.8,157.2 663.4,157.2 663.9,157.2 664.5,157.2 665.0,157.2 665.6,157.2 666.2,157.2 666.7,157.2 667.3,157.2 667.9,157.2 668.4,157.2 669.0,157.2 669.6,157.2 670.1,157.2 670.7,157.2 671.3,157.2 671.8,157.2 672.4,157.2 673.0,157.2 673.5,157.2 674.1,157.2 674.7,157.2 675.2,157.2 675.8,157.2 676.4,157.2 676.9,157.2 677.5,157.2" stroke="#62c3ee" stroke-width="1.0"/>
<polyline points="394.5,101.5 394.6,101.4 394.7,101.3 394.9,101.2 395.0,101.2 395.1,101.2 395.2,101.2 395.3,101.2 395.4,101.3 395.6,101.3 395.7,101.4 395.8,101.5 395.9,101.6 396.0,101.7 396.2,101.9 396.3,102.0 396.4,102.2 396.5,102.4 396.6,102.5 396.7,102.7 396.9,103.0 397.0,103.2 397.1,103.4 397.2,103.6 397.3,103.9 397.4,104.1 397.6,104.4 397.7,104.6 397.8,104.9 397.9,105.1 398.0,105.4 398.2,105.7 398.3,106.0 398.4,106.3 398.5,106.5 398.6,106.8 398.7,107.1 398.9,107.4 399.0,107.7 399.1,107.9 399.2,108.2 399.3,108.5 399.5,108.8 399.6,109.0 399.7,109.3 399.8,109.5 399.9,109.8 400.0,110.0 400.2,110.3 400.3,110.5 400.4,110.7 400.5,110.9 400.6,111.1 400.7,111.3 400.9,111.5 401.0,111.7 401.1,111.9 401.2,112.0 401.3,112.1 401.5,112.3 401.6,112.4 401.7,112.5 401.8,112.5 401.9,112.6 402.0,112.6 402.2,112.7 402.3,112.7 402.4,112.7 402.5,112.7 402.6,112.6 402.8,112.6 402.9,112.5 403.0,112.5 403.1,112.4 403.2,112.3 403.3,112.2 403.5,112.1 403.6,112.0 403.7,111.9 403.8,111.8 403.9,111.7 404.1,111.5 404.2,111.4 404.3,111.3 404.4,111.1 404.5,110.9 404.6,110.8 404.8,110.6 404.9,110.5 405.0,110.3 405.1,110.1 405.2,109.9 405.3,109.8 405.5,109.6 405.6,109.4 405.7,109.2 405.8,109.0 405.9,108.9 406.1,108.7 406.2,108.5 406.3,108.3 406.4,108.2 406.5,108.0 406.6,107.8 406.8,107.7 406.9,107.5 407.0,107.3 407.1,107.2 407.2,107.0 407.4,106.9 407.5,106.7 407.6,106.6 407.7,106.5 407.8,106.4 407.9,106.3 408.1,106.2 408.2,106.1 408.3,106.0 408.4,105.9 408.5,105.8 408.6,105.8 408.8,105.7 408.9,105.7 409.0,105.7 409.1,105.6 409.2,105.6 409.4,105.6 409.5,105.7 409.6,105.7 409.7,105.7 409.8,105.8 409.9,105.8 410.1,105.9 410.2,105.9 410.3,106.0 410.4,106.1 410.5,106.2 410.7,106.3 410.8,106.4 410.9,106.5 411.0,106.6 411.1,106.7 411.2,106.8 411.4,106.9 411.5,107.0 411.6,107.2 411.7,107.3 411.8,107.4 412.0,107.6 412.1,107.7 412.2,107.8 412.3,108.0 412.4,108.1 412.5,108.3 412.7,108.4 412.8,108.6 412.9,108.7 413.0,108.8 413.1,109.0 413.2,109.1 413.4,109.2 413.5,109.4 413.6,109.5 413.7,109.6 413.8,109.8 414.0,109.9 414.1,110.0 414.2,110.1 414.3,110.2 414.4,110.3 414.5,110.4 414.7,110.5 414.8,110.6 414.9,110.7 415.0,110.8 415.1,110.8 415.3,110.9 415.4,110.9 415.5,111.0 415.6,111.0 415.7,111.0 415.8,111.1 416.0,111.1 416.1,111.1 416.2,111.1 416.3,111.0 416.4,111.0 416.6,111.0 416.7,111.0 416.8,110.9 416.9,110.9 417.0,110.8 417.1,110.7 417.3,110.7 417.4,110.6 417.5,110.5 417.6,110.4 417.7,110.4 417.8,110.3 418.0,110.2 418.1,110.1 418.2,110.0 418.3,109.9 418.4,109.8 418.6,109.7 418.7,109.5 418.8,109.4 418.9,109.3 419.0,109.2 419.1,109.1 419.3,109.0 419.4,108.9 419.5,108.8 419.6,108.6 419.7,108.5 419.9,108.4 420.0,108.3 420.1,108.2 420.2,108.1 420.3,108.0 420.4,107.9 420.6,107.8 420.7,107.7 420.8,107.6 420.9,107.5 421.0,107.4 421.1,107.4 421.3,107.3 421.4,107.2 421.5,107.2 421.6,107.1 421.7,107.0 421.9,107.0 422.0,107.0 422.1,106.9 422.2,106.9 422.3,106.9 422.4,106.9 422.6,106.9 422.7,106.9 422.8,106.9 422.9,106.9 423.0,106.9 423.2,107.0 423.3,107.0 423.4,107.0 423.5,107.1 423.6,107.1 423.7,107.2 423.9,107.2 424.0,107.3 424.1,107.3 424.2,107.4 424.3,107.5 424.5,107.5 424.6,107.6 424.7,107.7 424.8,107.7 424.9,107.8 425.0,107.9 425.2,108.0 425.3,108.1 425.4,108.1 425.5,108.2 425.6,108.3 425.7,108.4 425.9,108.5 426.0,108.6 426.1,108.6 426.2,108.7 426.3,108.8 426.5,108.9 426.6,108.9 426.7,109.0 426.8,109.1 426.9,109.2 427.0,109.2 427.2,109.3 427.3,109.4 427.4,109.4 427.5,109.5 427.6,109.5 427.8,109.6 427.9,109.6 428.0,109.7 428.1,109.7 428.2,109.7 428.3,109.8 428.5,109.8 428.6,109.8 428.7,109.8 428.8,109.8 428.9,109.8 429.0,109.8 429.2,109.8 429.3,109.8 429.4,109.8 429.5,109.8 429.6,109.8 429.8,109.7 429.9,109.7 430.0,109.7 430.1,109.7 430.2,109.6 430.3,109.6 430.5,109.5 430.6,109.5 430.7,109.5 430.8,109.4 430.9,109.4 431.1,109.3 431.2,109.3 431.3,109.2 431.4,109.2 431.5,109.1 431.6,109.1 431.8,109.0 431.9,109.0 432.0,108.9 432.1,108.9 432.2,108.8 432.4,108.8 432.5,108.7 432.6,108.7 432.7,108.6 432.8,108.6 432.9,108.5 433.1,108.5 433.2,108.4 433.3,108.4 433.4,108.3 433.5,108.3 433.6,108.2 433.8,108.2 433.9,108.2 434.0,108.1 434.1,108.1 434.2,108.1 434.4,108.0 434.5,108.0 434.6,108.0 434.7,107.9 434.8,107.9 434.9,107.9 435.1,107.9 435.2,107.9 435.3,107.9 435.4,107.9 435.5,107.9 435.7,107.9 435.8,107.9 435.9,107.9 436.0,107.9 436.1,107.9 436.2,107.9 436.4,107.9 436.5,108.0 436.6,108.0 436.7,108.0 436.8,108.0 436.9,108.1 437.5,108.2 438.1,108.4 438.6,108.6 439.2,108.9 439.8,109.1 440.3,109.3 440.9,109.4 441.5,109.6 442.0,109.6 442.6,109.6 443.2,109.6 443.7,109.5 444.3,109.4 444.9,109.2 445.4,109.0 446.0,108.9 446.6,108.7 447.1,108.6 447.7,108.4 448.3,108.4 448.8,108.3 449.4,108.3 450.0,108.4 450.5,108.5 451.1,108.6 451.7,108.7 452.2,108.9 452.8,109.0 453.4,109.1 453.9,109.2 454.5,109.3 455.1,109.4 455.6,109.4 456.2,109.3 456.8,109.3 457.3,109.2 457.9,109.1 458.5,109.0 459.0,108.9 459.6,108.8 460.2,108.7 460.7,108.7 461.3,108.6 461.9,108.6 462.4,108.6 463.0,108.6 463.6,108.7 464.1,108.7 464.7,108.8 465.2,108.9 465.8,108.9 466.4,109.0 466.9,109.1 467.5,109.1 468.1,109.2 468.6,109.2 469.2,109.2 469.8,109.2 470.3,109.1 470.9,109.1 471.5,109.0 472.0,109.0 472.6,108.9 473.2,108.9 473.7,108.8 474.3,108.8 474.9,108.8 475.4,108.8 476.0,108.8 476.6,108.8 477.1,108.8 477.7,108.9 478.3,108.9 478.8,108.9 479.4,109.0 480.0,109.0 480.5,109.1 481.1,109.1 481.7,109.1 482.2,109.1 482.8,109.1 483.4,109.1 483.9,109.1 484.5,109.1 485.1,109.1 485.6,109.1 486.2,109.1 486.8,109.1 487.3,109.1 487.9,109.1 488.5,109.1 489.0,109.1 489.6,109.1 490.2,109.1 490.7,109.1 491.3,109.1 491.9,109.1 492.4,109.1 493.0,109.1 493.6,109.1 494.1,109.1 494.7,109.1 495.2,109.1 495.8,109.1 496.4,109.1 496.9,109.1 497.5,109.1 498.1,109.1 498.6,109.1 499.2,109.1 499.8,109.1 500.3,109.1 500.9,109.1 501.5,109.1 502.0,109.1 502.6,109.1 503.2,109.1 503.7,109.1 504.3,109.1 504.9,109.1 505.4,109.1 506.0,109.1 506.6,109.1 507.1,109.1 507.7,109.1 508.3,109.1 508.8,109.1 509.4,109.1 510.0,109.1 510.5,109.1 511.1,109.1 511.7,109.1 512.2,109.1 512.8,109.1 513.4,109.1 513.9,109.1 514.5,109.1 515.1,109.1 515.6,109.1 516.2,109.1 516.8,109.1 517.3,109.1 517.9,109.1 518.5,109.1 519.0,109.1 519.6,109.1 520.2,109.1 520.7,109.1 521.3,109.1 521.9,109.1 522.4,109.1 523.0,109.1 523.5,109.1 524.1,109.1 524.7,109.1 525.2,109.1 525.8,109.1 526.4,109.1 526.9,109.1 527.5,109.1 528.1,109.1 528.6,109.1 529.2,109.1 529.8,109.1 530.3,109.1 530.9,109.1 531.5,109.1 532.0,109.1 532.6,109.1 533.2,109.1 533.7,109.1 534.3,109.1 534.9,109.1 535.4,109.1 536.0,109.1 536.6,109.1 537.1,109.1 537.7,109.1 538.3,109.1 538.8,109.1 539.4,109.1 540.0,109.1 540.5,109.1 541.1,109.1 541.7,109.1 542.2,109.1 542.8,109.1 543.4,109.1 543.9,109.1 544.5,109.1 545.1,109.1 545.6,109.1 546.2,109.1 546.8,109.1 547.3,109.1 547.9,109.1 548.5,109.1 549.0,109.1 549.6,109.1 550.1,109.1 550.7,109.1 551.3,109.1 551.8,109.1 552.4,109.1 553.0,109.1 553.5,109.1 554.1,109.1 554.7,109.1 555.2,109.1 555.8,109.1 556.4,109.1 556.9,109.1 557.5,109.1 558.1,109.1 558.6,109.1 559.2,109.1 559.8,109.1 560.3,109.1 560.9,109.1 561.5,109.1 562.0,109.1 562.6,109.1 563.2,109.1 563.7,109.1 564.3,109.1 564.9,109.1 565.4,109.1 566.0,109.1 566.6,109.1 567.1,109.1 567.7,109.1 568.3,109.1 568.8,109.1 569.4,109.1 570.0,109.1 570.5,109.1 571.1,109.1 571.7,109.1 572.2,109.1 572.8,109.1 573.4,109.1 573.9,109.1 574.5,109.1 575.1,109.1 575.6,109.1 576.2,109.1 576.8,109.1 577.3,109.1 577.9,109.1 578.5,109.1 579.0,109.1 579.6,109.1 580.1,109.1 580.7,109.1 581.3,109.1 581.8,109.1 582.4,109.1 583.0,109.1 583.5,109.1 584.1,109.1 584.7,109.1 585.2,109.1 585.8,109.1 586.4,109.1 586.9,109.1 587.5,109.1 588.1,109.1 588.6,109.1 589.2,109.1 589.8,109.1 590.3,109.1 590.9,109.1 591.5,109.1 592.0,109.1 592.6,109.1 593.2,109.1 593.7,109.1 594.3,109.1 594.9,109.1 595.4,109.1 596.0,109.1 596.6,109.1 597.1,109.1 597.7,109.1 598.3,109.1 598.8,109.1 599.4,109.1 600.0,109.1 600.5,109.1 601.1,109.1 601.7,109.1 602.2,109.1 602.8,109.1 603.4,109.1 603.9,109.1 604.5,109.1 605.1,109.1 605.6,109.1 606.2,109.1 606.8,109.1 607.3,109.1 607.9,109.1 608.4,109.1 609.0,109.1 609.6,109.1 610.1,109.1 610.7,109.1 611.3,109.1 611.8,109.1 612.4,109.1 613.0,109.1 613.5,109.1 614.1,109.1 614.7,109.1 615.2,109.1 615.8,109.1 616.4,109.1 616.9,109.1 617.5,109.1 618.1,109.1 618.6,109.1 619.2,109.1 619.8,109.1 620.3,109.1 620.9,109.1 621.5,109.1 622.0,109.1 622.6,109.1 623.2,109.1 623.7,109.1 624.3,109.1 624.9,109.1 625.4,109.1 626.0,109.1 626.6,109.1 627.1,109.1 627.7,109.1 628.3,109.1 628.8,109.1 629.4,109.1 630.0,109.1 630.5,109.1 631.1,109.1 631.7,109.1 632.2,109.1 632.8,109.1 633.4,109.1 633.9,109.1 634.5,109.1 635.0,109.1 635.6,109.1 636.2,109.1 636.7,109.1 637.3,109.1 637.9,109.1 638.4,109.1 639.0,109.1 639.6,109.1 640.1,109.1 640.7,109.1 641.3,109.1 641.8,109.1 642.4,109.1 643.0,109.1 643.5,109.1 644.1,109.1 644.7,109.1 645.2,109.1 645.8,109.1 646.4,109.1 646.9,109.1 647.5,109.1 648.1,109.1 648.6,109.1 649.2,109.1 649.8,109.1 650.3,109.1 650.9,109.1 651.5,109.1 652.0,109.1 652.6,109.1 653.2,109.1 653.7,109.1 654.3,109.1 654.9,109.1 655.4,109.1 656.0,109.0 656.6,109.0 657.1,109.0 657.7,109.0 658.3,109.0 658.8,109.0 659.4,109.0 660.0,109.0 660.5,109.0 661.1,109.0 661.7,109.0 662.2,109.0 662.8,109.0 663.4,109.0 663.9,109.0 664.5,109.0 665.0,109.0 665.6,109.0 666.2,109.0 666.7,109.0 667.3,109.0 667.9,109.0 668.4,109.0 669.0,109.0 669.6,109.0 670.1,109.0 670.7,109.0 671.3,109.0 671.8,109.0 672.4,109.0 673.0,109.0 673.5,109.0 674.1,109.0 674.7,109.0 675.2,109.0 675.8,109.0 676.4,109.0 676.9,109.0 677.5,109.0" stroke="#1f2de6" stroke-width="1.5"/>
</g>
<rect x="266.4" y="10.3" width="43.8" height="100.6" fill="#fff" stroke="#8a8a8a" stroke-width="0.9"/>
<g font-family="Liberation Sans, Arial, sans-serif" fill="#222">
<line x1="268.90" y1="18.40" x2="294.60" y2="18.40" stroke="#2d7ac2" stroke-width="1.0"/>
<text x="297.00" y="20.40" font-size="8.4">x<tspan font-size="6.3" dy="3.1">11</tspan></text>
<line x1="268.90" y1="32.68" x2="294.60" y2="32.68" stroke="#dd6c40" stroke-width="1.0"/>
<text x="297.00" y="34.68" font-size="8.4">x<tspan font-size="6.3" dy="3.1">21</tspan></text>
<line x1="268.90" y1="46.96" x2="294.60" y2="46.96" stroke="#f0bb32" stroke-width="1.0"/>
<text x="297.00" y="48.96" font-size="8.4">x<tspan font-size="6.3" dy="3.1">31</tspan></text>
<line x1="268.90" y1="61.24" x2="294.60" y2="61.24" stroke="#9652ae" stroke-width="1.0"/>
<text x="297.00" y="63.24" font-size="8.4">x<tspan font-size="6.3" dy="3.1">41</tspan></text>
<line x1="268.90" y1="75.52" x2="294.60" y2="75.52" stroke="#8aac50" stroke-width="1.0"/>
<text x="297.00" y="77.52" font-size="8.4">x<tspan font-size="6.3" dy="3.1">51</tspan></text>
<line x1="268.90" y1="89.80" x2="294.60" y2="89.80" stroke="#62c3ee" stroke-width="1.0"/>
<text x="297.00" y="91.80" font-size="8.4">x<tspan font-size="6.3" dy="3.1">61</tspan></text>
<line x1="268.90" y1="104.08" x2="294.60" y2="104.08" stroke="#e81a1e" stroke-width="1.5"/>
<text x="297.00" y="106.08" font-size="8.4">s<tspan font-size="6.3" dy="3.1">1</tspan></text>
</g>
<rect x="627.4" y="10.3" width="43.8" height="100.6" fill="#fff" stroke="#8a8a8a" stroke-width="0.9"/>
<g font-family="Liberation Sans, Arial, sans-serif" fill="#222">
<line x1="629.90" y1="18.40" x2="655.60" y2="18.40" stroke="#2d7ac2" stroke-width="1.0"/>
<text x="658.00" y="20.40" font-size="8.4">x<tspan font-size="6.3" dy="3.1">12</tspan></text>
<line x1="629.90" y1="32.68" x2="655.60" y2="32.68" stroke="#dd6c40" stroke-width="1.0"/>
<text x="658.00" y="34.68" font-size="8.4">x<tspan font-size="6.3" dy="3.1">22</tspan></text>
<line x1="629.90" y1="46.96" x2="655.60" y2="46.96" stroke="#f0bb32" stroke-width="1.0"/>
<text x="658.00" y="48.96" font-size="8.4">x<tspan font-size="6.3" dy="3.1">32</tspan></text>
<line x1="629.90" y1="61.24" x2="655.60" y2="61.24" stroke="#9652ae" stroke-width="1.0"/>
<text x="658.00" y="63.24" font-size="8.4">x<tspan font-size="6.3" dy="3.1">42</tspan></text>
<line x1="629.90" y1="75.52" x2="655.60" y2="75.52" stroke="#86b04a" stroke-width="1.0"/>
<text x="658.00" y="77.52" font-size="8.4">x<tspan font-size="6.3" dy="3.1">52</tspan></text>
<line x1="629.90" y1="89.80" x2="655.60" y2="89.80" stroke="#62c3ee" stroke-width="1.0"/>
<text x="658.00" y="91.80" font-size="8.4">x<tspan font-size="6.3" dy="3.1">62</tspan></text>
<line x1="629.90" y1="104.08" x2="655.60" y2="104.08" stroke="#1f2de6" stroke-width="1.5"/>
<text x="658.00" y="106.08" font-size="8.4">s<tspan font-size="6.3" dy="3.1">2</tspan></text>
</g>
<g transform="rotate(-90)" font-family="Liberation Sans, Arial, sans-serif" fill="#262626">
<text x="-140.00" y="7.60" font-size="8.8">x</text>
<text x="-135.00" y="11.00" font-size="6.4">i1</text>
<text x="-128.80" y="7.60" font-size="8.8">(p),</text>
<text x="-111.90" y="7.60" font-size="8.8">s</text>
<text x="-106.80" y="11.00" font-size="6.4">1</text>
<text x="-102.40" y="7.60" font-size="8.8">(p)</text>
</g>
<g transform="rotate(-90)" font-family="Liberation Sans, Arial, sans-serif" fill="#262626">
<text x="-140.00" y="369.30" font-size="8.8">x</text>
<text x="-135.00" y="372.70" font-size="6.4">i2</text>
<text x="-128.80" y="369.30" font-size="8.8">(p),</text>
<text x="-111.90" y="369.30" font-size="8.8">s</text>
<text x="-106.80" y="372.70" font-size="6.4">2</text>
<text x="-102.40" y="369.30" font-size="8.8">(p)</text>
</g>
<g font-family="Liberation Serif, Times New Roman, serif" fill="#111" stroke="#111" stroke-width="0.14">
<text x="60.49" y="279.4" font-size="16.0" textLength="3.11" lengthAdjust="spacingAndGlyphs">(</text>
<text x="65.38" y="278.9" font-size="14.6" textLength="7.87" lengthAdjust="spacingAndGlyphs">a</text>
<text x="74.29" y="279.4" font-size="16.0" textLength="3.24" lengthAdjust="spacingAndGlyphs">)</text>
<text x="86.09" y="278.9" font-size="14.6" font-style="italic" textLength="7.02" lengthAdjust="spacingAndGlyphs">x</text>
<text x="95.02" y="280.9" font-size="10.4" font-style="italic">i</text>
<text x="99.20" y="280.9" font-size="10.4" textLength="5.68" lengthAdjust="spacingAndGlyphs">1</text>
<text x="107.66" y="278.9" font-size="14.6">,</text>
<text x="113.79" y="278.9" font-size="14.6" font-style="italic">i</text>
<text x="123.82" y="279.4" font-size="14.6" textLength="12.24" lengthAdjust="spacingAndGlyphs">=</text>
<text x="140.43" y="278.9" font-size="14.6" textLength="7.81" lengthAdjust="spacingAndGlyphs">1</text>
<text x="148.26" y="278.9" font-size="14.6">,</text>
<text x="155.44" y="278.9" font-size="14.6">2</text>
<text x="163.06" y="278.9" font-size="14.6">,</text>
<text x="169.70" y="278.9" font-size="14.6">3</text>
<text x="177.96" y="278.9" font-size="14.6">,</text>
<text x="184.62" y="278.9" font-size="14.6">4</text>
<text x="192.91" y="278.9" font-size="14.6">,</text>
<text x="199.39" y="278.9" font-size="14.6" textLength="6.95" lengthAdjust="spacingAndGlyphs">5</text>
<text x="207.76" y="278.9" font-size="14.6">,</text>
<text x="214.39" y="278.9" font-size="14.6">6</text>
<text x="227.41" y="278.9" font-size="14.6" textLength="24.19" lengthAdjust="spacingAndGlyphs">and</text>
<text x="257.91" y="278.9" font-size="14.6" font-style="italic" textLength="6.17" lengthAdjust="spacingAndGlyphs">s</text>
<text x="264.80" y="280.9" font-size="10.4" textLength="5.68" lengthAdjust="spacingAndGlyphs">1</text>
</g>
<g font-family="Liberation Serif, Times New Roman, serif" fill="#111" stroke="#111" stroke-width="0.14">
<text x="420.92" y="279.4" font-size="16.0" textLength="2.85" lengthAdjust="spacingAndGlyphs">(</text>
<text x="426.70" y="278.9" font-size="14.6" textLength="8.33" lengthAdjust="spacingAndGlyphs">b</text>
<text x="435.99" y="279.4" font-size="16.0" textLength="3.24" lengthAdjust="spacingAndGlyphs">)</text>
<text x="447.29" y="278.9" font-size="14.6" font-style="italic" textLength="7.02" lengthAdjust="spacingAndGlyphs">x</text>
<text x="456.22" y="280.9" font-size="10.4" font-style="italic">i</text>
<text x="460.40" y="280.9" font-size="10.4" textLength="6.34" lengthAdjust="spacingAndGlyphs">2</text>
<text x="468.86" y="278.9" font-size="14.6">,</text>
<text x="474.99" y="278.9" font-size="14.6" font-style="italic">i</text>
<text x="485.02" y="279.4" font-size="14.6" textLength="12.24" lengthAdjust="spacingAndGlyphs">=</text>
<text x="501.63" y="278.9" font-size="14.6" textLength="7.81" lengthAdjust="spacingAndGlyphs">1</text>
<text x="509.46" y="278.9" font-size="14.6">,</text>
<text x="516.64" y="278.9" font-size="14.6">2</text>
<text x="524.26" y="278.9" font-size="14.6">,</text>
<text x="530.90" y="278.9" font-size="14.6">3</text>
<text x="539.16" y="278.9" font-size="14.6">,</text>
<text x="545.82" y="278.9" font-size="14.6">4</text>
<text x="554.11" y="278.9" font-size="14.6">,</text>
<text x="560.59" y="278.9" font-size="14.6" textLength="6.95" lengthAdjust="spacingAndGlyphs">5</text>
<text x="568.96" y="278.9" font-size="14.6">,</text>
<text x="575.59" y="278.9" font-size="14.6">6</text>
<text x="588.61" y="278.9" font-size="14.6" textLength="24.19" lengthAdjust="spacingAndGlyphs">and</text>
<text x="619.11" y="278.9" font-size="14.6" font-style="italic" textLength="6.17" lengthAdjust="spacingAndGlyphs">s</text>
<text x="626.45" y="280.9" font-size="10.4" textLength="6.24" lengthAdjust="spacingAndGlyphs">2</text>
</g>
</svg>
</body></html>
